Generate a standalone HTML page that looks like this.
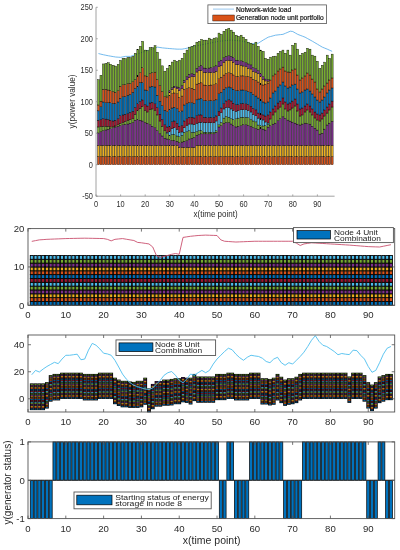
<!DOCTYPE html>
<html><head><meta charset="utf-8"><title>Figure</title>
<style>html,body{margin:0;padding:0;background:#fff}svg{display:block}</style></head>
<body>
<svg width="400" height="550" viewBox="0 0 400 550" font-family="Liberation Sans, sans-serif">
<rect width="400" height="550" fill="#fff"/>
<polyline points="98.46,53.56 100.92,54.16 103.38,54.75 105.84,55.26 108.30,55.76 110.76,56.18 113.22,56.60 115.68,57.02 118.14,57.18 120.60,57.34 123.06,56.86 125.52,56.39 127.98,56.39 130.44,56.39 132.90,55.55 135.36,54.71 137.82,53.87 140.28,53.03 142.74,52.19 145.20,51.35 147.66,50.57 150.12,49.78 152.58,48.99 155.04,48.21 157.49,47.14 159.95,47.51 162.41,47.89 164.87,48.12 167.33,48.35 169.79,48.58 172.25,48.77 174.71,48.96 177.17,49.15 179.63,49.15 182.09,49.15 184.55,48.68 187.01,48.21 189.47,47.58 191.93,46.95 194.39,46.32 196.85,45.81 199.31,45.31 201.77,44.81 204.23,44.30 206.69,43.80 209.15,43.29 211.61,42.79 214.07,42.29 216.53,41.78 218.99,41.28 221.45,41.03 223.91,40.78 226.37,40.52 228.83,40.27 231.29,40.02 233.75,40.27 236.21,40.52 238.67,40.78 241.13,41.03 243.59,41.28 246.05,42.12 248.51,42.96 250.97,43.80 253.43,43.59 255.89,43.38 258.35,43.17 260.81,41.59 263.27,40.02 265.73,38.60 268.19,37.19 270.65,36.51 273.11,35.84 275.56,35.17 278.02,34.90 280.48,34.62 282.94,34.35 285.40,33.30 287.86,32.25 290.32,31.20 292.78,31.52 295.24,32.94 297.70,34.35 300.16,35.30 302.62,36.24 305.08,37.19 307.54,38.55 310.00,39.91 312.46,41.28 314.92,42.73 317.38,44.18 319.84,45.66 322.30,47.14 324.76,48.14 327.22,49.15 329.68,50.25 332.14,51.35" fill="none" stroke="#4FA8E8" stroke-width="0.8"/>
<g stroke="#000" stroke-width="0.38">
<rect x="97.48" y="156.51" width="1.97" height="8.19" fill="#D95319"/>
<rect x="97.48" y="145.31" width="1.97" height="11.21" fill="#EDB120"/>
<rect x="97.48" y="132.96" width="1.97" height="12.34" fill="#7E2F8E"/>
<rect x="97.48" y="126.98" width="1.97" height="5.98" fill="#77AC30"/>
<rect x="97.48" y="120.24" width="1.97" height="6.74" fill="#A2142F"/>
<rect x="97.48" y="110.86" width="1.97" height="9.38" fill="#0072BD"/>
<rect x="97.48" y="105.00" width="1.97" height="5.86" fill="#D95319"/>
<rect x="97.48" y="79.69" width="1.97" height="25.31" fill="#77AC30"/>
<rect x="99.94" y="156.51" width="1.97" height="8.19" fill="#D95319"/>
<rect x="99.94" y="145.31" width="1.97" height="11.21" fill="#EDB120"/>
<rect x="99.94" y="131.83" width="1.97" height="13.48" fill="#7E2F8E"/>
<rect x="99.94" y="126.63" width="1.97" height="5.20" fill="#77AC30"/>
<rect x="99.94" y="119.49" width="1.97" height="7.15" fill="#A2142F"/>
<rect x="99.94" y="106.77" width="1.97" height="12.72" fill="#0072BD"/>
<rect x="99.94" y="101.23" width="1.97" height="5.54" fill="#D95319"/>
<rect x="99.94" y="75.28" width="1.97" height="25.94" fill="#77AC30"/>
<rect x="102.40" y="156.51" width="1.97" height="8.19" fill="#D95319"/>
<rect x="102.40" y="145.31" width="1.97" height="11.21" fill="#EDB120"/>
<rect x="102.40" y="130.70" width="1.97" height="14.61" fill="#7E2F8E"/>
<rect x="102.40" y="126.29" width="1.97" height="4.41" fill="#77AC30"/>
<rect x="102.40" y="118.73" width="1.97" height="7.56" fill="#A2142F"/>
<rect x="102.40" y="101.98" width="1.97" height="16.75" fill="#0072BD"/>
<rect x="102.40" y="89.26" width="1.97" height="12.72" fill="#D95319"/>
<rect x="102.40" y="63.95" width="1.97" height="25.31" fill="#77AC30"/>
<rect x="104.86" y="156.51" width="1.97" height="8.19" fill="#D95319"/>
<rect x="104.86" y="145.31" width="1.97" height="11.21" fill="#EDB120"/>
<rect x="104.86" y="129.97" width="1.97" height="15.33" fill="#7E2F8E"/>
<rect x="104.86" y="126.29" width="1.97" height="3.68" fill="#77AC30"/>
<rect x="104.86" y="119.11" width="1.97" height="7.18" fill="#A2142F"/>
<rect x="104.86" y="102.74" width="1.97" height="16.37" fill="#0072BD"/>
<rect x="104.86" y="89.26" width="1.97" height="13.48" fill="#D95319"/>
<rect x="104.86" y="63.32" width="1.97" height="25.94" fill="#77AC30"/>
<rect x="107.32" y="156.51" width="1.97" height="8.19" fill="#D95319"/>
<rect x="107.32" y="145.31" width="1.97" height="11.21" fill="#EDB120"/>
<rect x="107.32" y="129.25" width="1.97" height="16.06" fill="#7E2F8E"/>
<rect x="107.32" y="126.29" width="1.97" height="2.96" fill="#77AC30"/>
<rect x="107.32" y="119.49" width="1.97" height="6.80" fill="#A2142F"/>
<rect x="107.32" y="102.74" width="1.97" height="16.75" fill="#0072BD"/>
<rect x="107.32" y="90.02" width="1.97" height="12.72" fill="#D95319"/>
<rect x="107.32" y="62.69" width="1.97" height="27.33" fill="#77AC30"/>
<rect x="109.77" y="156.51" width="1.97" height="8.19" fill="#D95319"/>
<rect x="109.77" y="145.31" width="1.97" height="11.21" fill="#EDB120"/>
<rect x="109.77" y="128.49" width="1.97" height="16.81" fill="#7E2F8E"/>
<rect x="109.77" y="126.98" width="1.97" height="1.51" fill="#77AC30"/>
<rect x="109.77" y="120.24" width="1.97" height="6.74" fill="#A2142F"/>
<rect x="109.77" y="102.74" width="1.97" height="17.51" fill="#0072BD"/>
<rect x="109.77" y="90.77" width="1.97" height="11.96" fill="#D95319"/>
<rect x="109.77" y="64.33" width="1.97" height="26.45" fill="#77AC30"/>
<rect x="112.23" y="156.51" width="1.97" height="8.19" fill="#D95319"/>
<rect x="112.23" y="145.31" width="1.97" height="11.21" fill="#EDB120"/>
<rect x="112.23" y="127.74" width="1.97" height="17.57" fill="#7E2F8E"/>
<rect x="112.23" y="126.79" width="1.97" height="0.94" fill="#77AC30"/>
<rect x="112.23" y="121.00" width="1.97" height="5.79" fill="#A2142F"/>
<rect x="112.23" y="103.49" width="1.97" height="17.51" fill="#0072BD"/>
<rect x="112.23" y="91.65" width="1.97" height="11.84" fill="#D95319"/>
<rect x="112.23" y="65.21" width="1.97" height="26.45" fill="#77AC30"/>
<rect x="114.69" y="156.51" width="1.97" height="8.19" fill="#D95319"/>
<rect x="114.69" y="145.31" width="1.97" height="11.21" fill="#EDB120"/>
<rect x="114.69" y="126.98" width="1.97" height="18.32" fill="#7E2F8E"/>
<rect x="114.69" y="125.97" width="1.97" height="1.01" fill="#77AC30"/>
<rect x="114.69" y="120.24" width="1.97" height="5.73" fill="#A2142F"/>
<rect x="114.69" y="103.49" width="1.97" height="16.75" fill="#0072BD"/>
<rect x="114.69" y="92.28" width="1.97" height="11.21" fill="#D95319"/>
<rect x="114.69" y="66.09" width="1.97" height="26.20" fill="#77AC30"/>
<rect x="117.15" y="156.51" width="1.97" height="8.19" fill="#D95319"/>
<rect x="117.15" y="145.31" width="1.97" height="11.21" fill="#EDB120"/>
<rect x="117.15" y="126.29" width="1.97" height="19.02" fill="#7E2F8E"/>
<rect x="117.15" y="124.71" width="1.97" height="1.57" fill="#77AC30"/>
<rect x="117.15" y="118.73" width="1.97" height="5.98" fill="#A2142F"/>
<rect x="117.15" y="101.98" width="1.97" height="16.75" fill="#0072BD"/>
<rect x="117.15" y="90.77" width="1.97" height="11.21" fill="#D95319"/>
<rect x="117.15" y="64.33" width="1.97" height="26.45" fill="#77AC30"/>
<rect x="119.61" y="156.51" width="1.97" height="8.19" fill="#D95319"/>
<rect x="119.61" y="145.31" width="1.97" height="11.21" fill="#EDB120"/>
<rect x="119.61" y="125.47" width="1.97" height="19.84" fill="#7E2F8E"/>
<rect x="119.61" y="123.27" width="1.97" height="2.20" fill="#77AC30"/>
<rect x="119.61" y="115.77" width="1.97" height="7.49" fill="#A2142F"/>
<rect x="119.61" y="98.27" width="1.97" height="17.51" fill="#0072BD"/>
<rect x="119.61" y="86.24" width="1.97" height="12.03" fill="#D95319"/>
<rect x="119.61" y="60.36" width="1.97" height="25.88" fill="#77AC30"/>
<rect x="122.07" y="156.51" width="1.97" height="8.19" fill="#D95319"/>
<rect x="122.07" y="145.31" width="1.97" height="11.21" fill="#EDB120"/>
<rect x="122.07" y="124.71" width="1.97" height="20.59" fill="#7E2F8E"/>
<rect x="122.07" y="122.51" width="1.97" height="2.20" fill="#77AC30"/>
<rect x="122.07" y="114.95" width="1.97" height="7.56" fill="#A2142F"/>
<rect x="122.07" y="96.69" width="1.97" height="18.26" fill="#0072BD"/>
<rect x="122.07" y="84.73" width="1.97" height="11.96" fill="#D95319"/>
<rect x="122.07" y="58.28" width="1.97" height="26.45" fill="#77AC30"/>
<rect x="124.53" y="156.51" width="1.97" height="8.19" fill="#D95319"/>
<rect x="124.53" y="145.31" width="1.97" height="11.21" fill="#EDB120"/>
<rect x="124.53" y="124.37" width="1.97" height="20.94" fill="#7E2F8E"/>
<rect x="124.53" y="121.38" width="1.97" height="2.99" fill="#77AC30"/>
<rect x="124.53" y="114.23" width="1.97" height="7.15" fill="#A2142F"/>
<rect x="124.53" y="96.69" width="1.97" height="17.54" fill="#0072BD"/>
<rect x="124.53" y="84.73" width="1.97" height="11.96" fill="#D95319"/>
<rect x="124.53" y="58.60" width="1.97" height="26.13" fill="#77AC30"/>
<rect x="126.99" y="156.51" width="1.97" height="8.19" fill="#D95319"/>
<rect x="126.99" y="145.31" width="1.97" height="11.21" fill="#EDB120"/>
<rect x="126.99" y="124.02" width="1.97" height="21.28" fill="#7E2F8E"/>
<rect x="126.99" y="120.24" width="1.97" height="3.78" fill="#77AC30"/>
<rect x="126.99" y="113.51" width="1.97" height="6.74" fill="#A2142F"/>
<rect x="126.99" y="95.24" width="1.97" height="18.26" fill="#0072BD"/>
<rect x="126.99" y="83.47" width="1.97" height="11.78" fill="#D95319"/>
<rect x="126.99" y="57.40" width="1.97" height="26.07" fill="#77AC30"/>
<rect x="129.45" y="156.51" width="1.97" height="8.19" fill="#D95319"/>
<rect x="129.45" y="145.31" width="1.97" height="11.21" fill="#EDB120"/>
<rect x="129.45" y="123.27" width="1.97" height="22.04" fill="#7E2F8E"/>
<rect x="129.45" y="119.49" width="1.97" height="3.78" fill="#77AC30"/>
<rect x="129.45" y="112.37" width="1.97" height="7.12" fill="#A2142F"/>
<rect x="129.45" y="94.49" width="1.97" height="17.88" fill="#0072BD"/>
<rect x="129.45" y="83.47" width="1.97" height="11.02" fill="#D95319"/>
<rect x="129.45" y="57.65" width="1.97" height="25.82" fill="#77AC30"/>
<rect x="131.91" y="156.51" width="1.97" height="8.19" fill="#D95319"/>
<rect x="131.91" y="145.31" width="1.97" height="11.21" fill="#EDB120"/>
<rect x="131.91" y="122.51" width="1.97" height="22.80" fill="#7E2F8E"/>
<rect x="131.91" y="118.73" width="1.97" height="3.78" fill="#77AC30"/>
<rect x="131.91" y="111.24" width="1.97" height="7.49" fill="#A2142F"/>
<rect x="131.91" y="92.28" width="1.97" height="18.95" fill="#0072BD"/>
<rect x="131.91" y="81.77" width="1.97" height="10.52" fill="#D95319"/>
<rect x="131.91" y="56.39" width="1.97" height="25.38" fill="#77AC30"/>
<rect x="134.37" y="156.51" width="1.97" height="8.19" fill="#D95319"/>
<rect x="134.37" y="145.31" width="1.97" height="11.21" fill="#EDB120"/>
<rect x="134.37" y="120.24" width="1.97" height="25.06" fill="#7E2F8E"/>
<rect x="134.37" y="114.32" width="1.97" height="5.92" fill="#77AC30"/>
<rect x="134.37" y="107.46" width="1.97" height="6.86" fill="#A2142F"/>
<rect x="134.37" y="88.51" width="1.97" height="18.95" fill="#0072BD"/>
<rect x="134.37" y="79.69" width="1.97" height="8.82" fill="#D95319"/>
<rect x="134.37" y="53.24" width="1.97" height="26.45" fill="#77AC30"/>
<rect x="136.83" y="156.51" width="1.97" height="8.19" fill="#D95319"/>
<rect x="136.83" y="145.31" width="1.97" height="11.21" fill="#EDB120"/>
<rect x="136.83" y="119.49" width="1.97" height="25.82" fill="#7E2F8E"/>
<rect x="136.83" y="110.55" width="1.97" height="8.94" fill="#77AC30"/>
<rect x="136.83" y="103.75" width="1.97" height="6.80" fill="#A2142F"/>
<rect x="136.83" y="86.24" width="1.97" height="17.51" fill="#0072BD"/>
<rect x="136.83" y="75.91" width="1.97" height="10.33" fill="#D95319"/>
<rect x="136.83" y="49.21" width="1.97" height="26.70" fill="#77AC30"/>
<rect x="139.29" y="156.51" width="1.97" height="8.19" fill="#D95319"/>
<rect x="139.29" y="145.31" width="1.97" height="11.21" fill="#EDB120"/>
<rect x="139.29" y="120.24" width="1.97" height="25.06" fill="#7E2F8E"/>
<rect x="139.29" y="108.22" width="1.97" height="12.03" fill="#77AC30"/>
<rect x="139.29" y="101.48" width="1.97" height="6.74" fill="#A2142F"/>
<rect x="139.29" y="82.52" width="1.97" height="18.95" fill="#0072BD"/>
<rect x="139.29" y="72.76" width="1.97" height="9.76" fill="#D95319"/>
<rect x="139.29" y="46.32" width="1.97" height="26.45" fill="#77AC30"/>
<rect x="141.75" y="156.51" width="1.97" height="8.19" fill="#D95319"/>
<rect x="141.75" y="145.31" width="1.97" height="11.21" fill="#EDB120"/>
<rect x="141.75" y="121.00" width="1.97" height="24.31" fill="#7E2F8E"/>
<rect x="141.75" y="106.77" width="1.97" height="14.23" fill="#77AC30"/>
<rect x="141.75" y="99.97" width="1.97" height="6.80" fill="#A2142F"/>
<rect x="141.75" y="82.52" width="1.97" height="17.44" fill="#0072BD"/>
<rect x="141.75" y="67.73" width="1.97" height="14.80" fill="#D95319"/>
<rect x="141.75" y="41.28" width="1.97" height="26.45" fill="#77AC30"/>
<rect x="144.21" y="156.51" width="1.97" height="8.19" fill="#D95319"/>
<rect x="144.21" y="145.31" width="1.97" height="11.21" fill="#EDB120"/>
<rect x="144.21" y="122.51" width="1.97" height="22.80" fill="#7E2F8E"/>
<rect x="144.21" y="110.55" width="1.97" height="11.96" fill="#77AC30"/>
<rect x="144.21" y="104.50" width="1.97" height="6.05" fill="#A2142F"/>
<rect x="144.21" y="90.02" width="1.97" height="14.48" fill="#0072BD"/>
<rect x="144.21" y="75.91" width="1.97" height="14.11" fill="#D95319"/>
<rect x="144.21" y="50.09" width="1.97" height="25.82" fill="#77AC30"/>
<rect x="146.67" y="156.51" width="1.97" height="8.19" fill="#D95319"/>
<rect x="146.67" y="145.31" width="1.97" height="11.21" fill="#EDB120"/>
<rect x="146.67" y="123.27" width="1.97" height="22.04" fill="#7E2F8E"/>
<rect x="146.67" y="111.99" width="1.97" height="11.27" fill="#77AC30"/>
<rect x="146.67" y="106.01" width="1.97" height="5.98" fill="#A2142F"/>
<rect x="146.67" y="90.77" width="1.97" height="15.24" fill="#0072BD"/>
<rect x="146.67" y="76.54" width="1.97" height="14.23" fill="#D95319"/>
<rect x="146.67" y="50.41" width="1.97" height="26.13" fill="#77AC30"/>
<rect x="149.13" y="156.51" width="1.97" height="8.19" fill="#D95319"/>
<rect x="149.13" y="145.31" width="1.97" height="11.21" fill="#EDB120"/>
<rect x="149.13" y="124.71" width="1.97" height="20.59" fill="#7E2F8E"/>
<rect x="149.13" y="109.73" width="1.97" height="14.99" fill="#77AC30"/>
<rect x="149.13" y="102.99" width="1.97" height="6.74" fill="#A2142F"/>
<rect x="149.13" y="87.00" width="1.97" height="15.99" fill="#0072BD"/>
<rect x="149.13" y="73.52" width="1.97" height="13.48" fill="#D95319"/>
<rect x="149.13" y="47.58" width="1.97" height="25.94" fill="#77AC30"/>
<rect x="151.59" y="156.51" width="1.97" height="8.19" fill="#D95319"/>
<rect x="151.59" y="145.31" width="1.97" height="11.21" fill="#EDB120"/>
<rect x="151.59" y="126.29" width="1.97" height="19.02" fill="#7E2F8E"/>
<rect x="151.59" y="108.97" width="1.97" height="17.32" fill="#77AC30"/>
<rect x="151.59" y="102.36" width="1.97" height="6.61" fill="#A2142F"/>
<rect x="151.59" y="86.24" width="1.97" height="16.12" fill="#0072BD"/>
<rect x="151.59" y="72.76" width="1.97" height="13.48" fill="#D95319"/>
<rect x="151.59" y="47.58" width="1.97" height="25.19" fill="#77AC30"/>
<rect x="154.05" y="156.51" width="1.97" height="8.19" fill="#D95319"/>
<rect x="154.05" y="145.31" width="1.97" height="11.21" fill="#EDB120"/>
<rect x="154.05" y="127.74" width="1.97" height="17.57" fill="#7E2F8E"/>
<rect x="154.05" y="110.55" width="1.97" height="17.19" fill="#77AC30"/>
<rect x="154.05" y="103.75" width="1.97" height="6.80" fill="#A2142F"/>
<rect x="154.05" y="87.00" width="1.97" height="16.75" fill="#0072BD"/>
<rect x="154.05" y="72.13" width="1.97" height="14.86" fill="#D95319"/>
<rect x="154.05" y="45.69" width="1.97" height="26.45" fill="#77AC30"/>
<rect x="156.51" y="156.51" width="1.97" height="8.19" fill="#D95319"/>
<rect x="156.51" y="145.31" width="1.97" height="11.21" fill="#EDB120"/>
<rect x="156.51" y="130.70" width="1.97" height="14.61" fill="#7E2F8E"/>
<rect x="156.51" y="114.95" width="1.97" height="15.74" fill="#77AC30"/>
<rect x="156.51" y="107.71" width="1.97" height="7.24" fill="#A2142F"/>
<rect x="156.51" y="95.24" width="1.97" height="12.47" fill="#0072BD"/>
<rect x="156.51" y="79.50" width="1.97" height="15.74" fill="#D95319"/>
<rect x="156.51" y="52.17" width="1.97" height="27.33" fill="#77AC30"/>
<rect x="158.97" y="156.51" width="1.97" height="8.19" fill="#D95319"/>
<rect x="158.97" y="145.31" width="1.97" height="11.21" fill="#EDB120"/>
<rect x="158.97" y="133.84" width="1.97" height="11.46" fill="#7E2F8E"/>
<rect x="158.97" y="121.00" width="1.97" height="12.85" fill="#77AC30"/>
<rect x="158.97" y="114.20" width="1.97" height="6.80" fill="#A2142F"/>
<rect x="158.97" y="101.23" width="1.97" height="12.97" fill="#0072BD"/>
<rect x="158.97" y="85.48" width="1.97" height="15.74" fill="#D95319"/>
<rect x="158.97" y="59.10" width="1.97" height="26.38" fill="#77AC30"/>
<rect x="161.43" y="156.51" width="1.97" height="8.19" fill="#D95319"/>
<rect x="161.43" y="145.31" width="1.97" height="11.21" fill="#EDB120"/>
<rect x="161.43" y="135.99" width="1.97" height="9.32" fill="#7E2F8E"/>
<rect x="161.43" y="126.29" width="1.97" height="9.70" fill="#77AC30"/>
<rect x="161.43" y="119.49" width="1.97" height="6.80" fill="#A2142F"/>
<rect x="161.43" y="105.76" width="1.97" height="13.73" fill="#0072BD"/>
<rect x="161.43" y="91.53" width="1.97" height="14.23" fill="#D95319"/>
<rect x="161.43" y="65.84" width="1.97" height="25.69" fill="#77AC30"/>
<rect x="163.89" y="156.51" width="1.97" height="8.19" fill="#D95319"/>
<rect x="163.89" y="145.31" width="1.97" height="11.21" fill="#EDB120"/>
<rect x="163.89" y="138.25" width="1.97" height="7.05" fill="#7E2F8E"/>
<rect x="163.89" y="130.70" width="1.97" height="7.56" fill="#77AC30"/>
<rect x="163.89" y="124.71" width="1.97" height="5.98" fill="#A2142F"/>
<rect x="163.89" y="110.23" width="1.97" height="14.48" fill="#0072BD"/>
<rect x="163.89" y="96.69" width="1.97" height="13.54" fill="#D95319"/>
<rect x="163.89" y="71.13" width="1.97" height="25.57" fill="#77AC30"/>
<rect x="166.35" y="156.51" width="1.97" height="8.19" fill="#D95319"/>
<rect x="166.35" y="145.31" width="1.97" height="11.21" fill="#EDB120"/>
<rect x="166.35" y="139.01" width="1.97" height="6.30" fill="#7E2F8E"/>
<rect x="166.35" y="133.72" width="1.97" height="5.29" fill="#77AC30"/>
<rect x="166.35" y="132.27" width="1.97" height="1.45" fill="#4DBEEE"/>
<rect x="166.35" y="126.98" width="1.97" height="5.29" fill="#A2142F"/>
<rect x="166.35" y="111.81" width="1.97" height="15.18" fill="#0072BD"/>
<rect x="166.35" y="97.51" width="1.97" height="14.29" fill="#D95319"/>
<rect x="166.35" y="96.06" width="1.97" height="1.45" fill="#EDB120"/>
<rect x="166.35" y="68.36" width="1.97" height="27.71" fill="#77AC30"/>
<rect x="168.81" y="156.51" width="1.97" height="8.19" fill="#D95319"/>
<rect x="168.81" y="145.31" width="1.97" height="11.21" fill="#EDB120"/>
<rect x="168.81" y="139.76" width="1.97" height="5.54" fill="#7E2F8E"/>
<rect x="168.81" y="135.23" width="1.97" height="4.53" fill="#77AC30"/>
<rect x="168.81" y="131.51" width="1.97" height="3.72" fill="#4DBEEE"/>
<rect x="168.81" y="126.29" width="1.97" height="5.23" fill="#A2142F"/>
<rect x="168.81" y="109.48" width="1.97" height="16.81" fill="#0072BD"/>
<rect x="168.81" y="95.24" width="1.97" height="14.23" fill="#D95319"/>
<rect x="168.81" y="92.28" width="1.97" height="2.96" fill="#EDB120"/>
<rect x="168.81" y="90.77" width="1.97" height="1.51" fill="#7E2F8E"/>
<rect x="168.81" y="65.21" width="1.97" height="25.57" fill="#77AC30"/>
<rect x="171.27" y="156.51" width="1.97" height="8.19" fill="#D95319"/>
<rect x="171.27" y="145.31" width="1.97" height="11.21" fill="#EDB120"/>
<rect x="171.27" y="140.52" width="1.97" height="4.79" fill="#7E2F8E"/>
<rect x="171.27" y="134.47" width="1.97" height="6.05" fill="#77AC30"/>
<rect x="171.27" y="128.49" width="1.97" height="5.98" fill="#4DBEEE"/>
<rect x="171.27" y="121.75" width="1.97" height="6.74" fill="#A2142F"/>
<rect x="171.27" y="108.03" width="1.97" height="13.73" fill="#0072BD"/>
<rect x="171.27" y="93.73" width="1.97" height="14.29" fill="#D95319"/>
<rect x="171.27" y="89.26" width="1.97" height="4.47" fill="#EDB120"/>
<rect x="171.27" y="87.75" width="1.97" height="1.51" fill="#7E2F8E"/>
<rect x="171.27" y="62.06" width="1.97" height="25.69" fill="#77AC30"/>
<rect x="173.73" y="156.51" width="1.97" height="8.19" fill="#D95319"/>
<rect x="173.73" y="145.31" width="1.97" height="11.21" fill="#EDB120"/>
<rect x="173.73" y="140.52" width="1.97" height="4.79" fill="#7E2F8E"/>
<rect x="173.73" y="134.47" width="1.97" height="6.05" fill="#77AC30"/>
<rect x="173.73" y="127.74" width="1.97" height="6.74" fill="#4DBEEE"/>
<rect x="173.73" y="121.00" width="1.97" height="6.74" fill="#A2142F"/>
<rect x="173.73" y="107.27" width="1.97" height="13.73" fill="#0072BD"/>
<rect x="173.73" y="92.98" width="1.97" height="14.29" fill="#D95319"/>
<rect x="173.73" y="87.75" width="1.97" height="5.23" fill="#EDB120"/>
<rect x="173.73" y="86.24" width="1.97" height="1.51" fill="#7E2F8E"/>
<rect x="173.73" y="60.17" width="1.97" height="26.07" fill="#77AC30"/>
<rect x="176.19" y="156.51" width="1.97" height="8.19" fill="#D95319"/>
<rect x="176.19" y="145.31" width="1.97" height="11.21" fill="#EDB120"/>
<rect x="176.19" y="141.21" width="1.97" height="4.09" fill="#7E2F8E"/>
<rect x="176.19" y="135.99" width="1.97" height="5.23" fill="#77AC30"/>
<rect x="176.19" y="129.25" width="1.97" height="6.74" fill="#4DBEEE"/>
<rect x="176.19" y="123.27" width="1.97" height="5.98" fill="#A2142F"/>
<rect x="176.19" y="108.72" width="1.97" height="14.55" fill="#0072BD"/>
<rect x="176.19" y="93.73" width="1.97" height="14.99" fill="#D95319"/>
<rect x="176.19" y="88.51" width="1.97" height="5.23" fill="#EDB120"/>
<rect x="176.19" y="87.00" width="1.97" height="1.51" fill="#7E2F8E"/>
<rect x="176.19" y="61.43" width="1.97" height="25.57" fill="#77AC30"/>
<rect x="178.65" y="156.51" width="1.97" height="8.19" fill="#D95319"/>
<rect x="178.65" y="147.32" width="1.97" height="9.19" fill="#EDB120"/>
<rect x="178.65" y="142.72" width="1.97" height="4.60" fill="#7E2F8E"/>
<rect x="178.65" y="136.74" width="1.97" height="5.98" fill="#77AC30"/>
<rect x="178.65" y="132.27" width="1.97" height="4.47" fill="#4DBEEE"/>
<rect x="178.65" y="126.29" width="1.97" height="5.98" fill="#A2142F"/>
<rect x="178.65" y="111.81" width="1.97" height="14.48" fill="#0072BD"/>
<rect x="178.65" y="97.51" width="1.97" height="14.29" fill="#D95319"/>
<rect x="178.65" y="90.77" width="1.97" height="6.74" fill="#EDB120"/>
<rect x="178.65" y="87.75" width="1.97" height="3.02" fill="#7E2F8E"/>
<rect x="178.65" y="60.17" width="1.97" height="27.58" fill="#77AC30"/>
<rect x="181.11" y="156.51" width="1.97" height="8.19" fill="#D95319"/>
<rect x="181.11" y="147.32" width="1.97" height="9.19" fill="#EDB120"/>
<rect x="181.11" y="142.03" width="1.97" height="5.29" fill="#7E2F8E"/>
<rect x="181.11" y="135.23" width="1.97" height="6.80" fill="#77AC30"/>
<rect x="181.11" y="131.96" width="1.97" height="3.27" fill="#4DBEEE"/>
<rect x="181.11" y="125.47" width="1.97" height="6.49" fill="#A2142F"/>
<rect x="181.11" y="110.99" width="1.97" height="14.48" fill="#0072BD"/>
<rect x="181.11" y="96.06" width="1.97" height="14.92" fill="#D95319"/>
<rect x="181.11" y="88.51" width="1.97" height="7.56" fill="#EDB120"/>
<rect x="181.11" y="85.48" width="1.97" height="3.02" fill="#7E2F8E"/>
<rect x="181.11" y="58.28" width="1.97" height="27.20" fill="#77AC30"/>
<rect x="183.57" y="156.51" width="1.97" height="8.19" fill="#D95319"/>
<rect x="183.57" y="147.32" width="1.97" height="9.19" fill="#EDB120"/>
<rect x="183.57" y="141.21" width="1.97" height="6.11" fill="#7E2F8E"/>
<rect x="183.57" y="132.27" width="1.97" height="8.94" fill="#77AC30"/>
<rect x="183.57" y="127.74" width="1.97" height="4.53" fill="#4DBEEE"/>
<rect x="183.57" y="121.00" width="1.97" height="6.74" fill="#A2142F"/>
<rect x="183.57" y="105.00" width="1.97" height="15.99" fill="#0072BD"/>
<rect x="183.57" y="89.26" width="1.97" height="15.74" fill="#D95319"/>
<rect x="183.57" y="82.52" width="1.97" height="6.74" fill="#EDB120"/>
<rect x="183.57" y="80.32" width="1.97" height="2.20" fill="#7E2F8E"/>
<rect x="183.57" y="53.24" width="1.97" height="27.08" fill="#77AC30"/>
<rect x="186.03" y="156.51" width="1.97" height="8.19" fill="#D95319"/>
<rect x="186.03" y="147.32" width="1.97" height="9.19" fill="#EDB120"/>
<rect x="186.03" y="140.52" width="1.97" height="6.80" fill="#7E2F8E"/>
<rect x="186.03" y="131.51" width="1.97" height="9.00" fill="#77AC30"/>
<rect x="186.03" y="125.47" width="1.97" height="6.05" fill="#4DBEEE"/>
<rect x="186.03" y="118.73" width="1.97" height="6.74" fill="#A2142F"/>
<rect x="186.03" y="103.49" width="1.97" height="15.24" fill="#0072BD"/>
<rect x="186.03" y="88.51" width="1.97" height="14.99" fill="#D95319"/>
<rect x="186.03" y="79.50" width="1.97" height="9.00" fill="#EDB120"/>
<rect x="186.03" y="76.54" width="1.97" height="2.96" fill="#7E2F8E"/>
<rect x="186.03" y="50.09" width="1.97" height="26.45" fill="#77AC30"/>
<rect x="188.49" y="156.51" width="1.97" height="8.19" fill="#D95319"/>
<rect x="188.49" y="147.32" width="1.97" height="9.19" fill="#EDB120"/>
<rect x="188.49" y="139.01" width="1.97" height="8.31" fill="#7E2F8E"/>
<rect x="188.49" y="130.70" width="1.97" height="8.31" fill="#77AC30"/>
<rect x="188.49" y="124.02" width="1.97" height="6.67" fill="#4DBEEE"/>
<rect x="188.49" y="117.22" width="1.97" height="6.80" fill="#A2142F"/>
<rect x="188.49" y="102.74" width="1.97" height="14.48" fill="#0072BD"/>
<rect x="188.49" y="87.75" width="1.97" height="14.99" fill="#D95319"/>
<rect x="188.49" y="77.23" width="1.97" height="10.52" fill="#EDB120"/>
<rect x="188.49" y="74.28" width="1.97" height="2.96" fill="#7E2F8E"/>
<rect x="188.49" y="47.14" width="1.97" height="27.14" fill="#77AC30"/>
<rect x="190.95" y="156.51" width="1.97" height="8.19" fill="#D95319"/>
<rect x="190.95" y="147.32" width="1.97" height="9.19" fill="#EDB120"/>
<rect x="190.95" y="138.25" width="1.97" height="9.07" fill="#7E2F8E"/>
<rect x="190.95" y="132.27" width="1.97" height="5.98" fill="#77AC30"/>
<rect x="190.95" y="124.02" width="1.97" height="8.25" fill="#4DBEEE"/>
<rect x="190.95" y="117.22" width="1.97" height="6.80" fill="#A2142F"/>
<rect x="190.95" y="102.74" width="1.97" height="14.48" fill="#0072BD"/>
<rect x="190.95" y="88.19" width="1.97" height="14.55" fill="#D95319"/>
<rect x="190.95" y="76.54" width="1.97" height="11.65" fill="#EDB120"/>
<rect x="190.95" y="73.52" width="1.97" height="3.02" fill="#7E2F8E"/>
<rect x="190.95" y="46.32" width="1.97" height="27.20" fill="#77AC30"/>
<rect x="193.41" y="156.51" width="1.97" height="8.19" fill="#D95319"/>
<rect x="193.41" y="147.32" width="1.97" height="9.19" fill="#EDB120"/>
<rect x="193.41" y="137.50" width="1.97" height="9.82" fill="#7E2F8E"/>
<rect x="193.41" y="132.27" width="1.97" height="5.23" fill="#77AC30"/>
<rect x="193.41" y="124.71" width="1.97" height="7.56" fill="#4DBEEE"/>
<rect x="193.41" y="117.98" width="1.97" height="6.74" fill="#A2142F"/>
<rect x="193.41" y="103.49" width="1.97" height="14.48" fill="#0072BD"/>
<rect x="193.41" y="89.26" width="1.97" height="14.23" fill="#D95319"/>
<rect x="193.41" y="76.54" width="1.97" height="12.72" fill="#EDB120"/>
<rect x="193.41" y="74.28" width="1.97" height="2.27" fill="#7E2F8E"/>
<rect x="193.41" y="45.18" width="1.97" height="29.09" fill="#77AC30"/>
<rect x="195.87" y="156.51" width="1.97" height="8.19" fill="#D95319"/>
<rect x="195.87" y="145.31" width="1.97" height="11.21" fill="#EDB120"/>
<rect x="195.87" y="135.23" width="1.97" height="10.08" fill="#7E2F8E"/>
<rect x="195.87" y="131.51" width="1.97" height="3.72" fill="#77AC30"/>
<rect x="195.87" y="123.27" width="1.97" height="8.25" fill="#4DBEEE"/>
<rect x="195.87" y="115.77" width="1.97" height="7.49" fill="#A2142F"/>
<rect x="195.87" y="99.84" width="1.97" height="15.93" fill="#0072BD"/>
<rect x="195.87" y="84.10" width="1.97" height="15.74" fill="#D95319"/>
<rect x="195.87" y="72.01" width="1.97" height="12.09" fill="#EDB120"/>
<rect x="195.87" y="68.36" width="1.97" height="3.65" fill="#7E2F8E"/>
<rect x="195.87" y="42.16" width="1.97" height="26.20" fill="#77AC30"/>
<rect x="198.33" y="156.51" width="1.97" height="8.19" fill="#D95319"/>
<rect x="198.33" y="145.31" width="1.97" height="11.21" fill="#EDB120"/>
<rect x="198.33" y="134.47" width="1.97" height="10.83" fill="#7E2F8E"/>
<rect x="198.33" y="130.70" width="1.97" height="3.78" fill="#77AC30"/>
<rect x="198.33" y="122.51" width="1.97" height="8.19" fill="#4DBEEE"/>
<rect x="198.33" y="114.95" width="1.97" height="7.56" fill="#A2142F"/>
<rect x="198.33" y="99.02" width="1.97" height="15.93" fill="#0072BD"/>
<rect x="198.33" y="83.28" width="1.97" height="15.74" fill="#D95319"/>
<rect x="198.33" y="70.50" width="1.97" height="12.78" fill="#EDB120"/>
<rect x="198.33" y="66.78" width="1.97" height="3.72" fill="#7E2F8E"/>
<rect x="198.33" y="41.28" width="1.97" height="25.50" fill="#77AC30"/>
<rect x="200.79" y="156.51" width="1.97" height="8.19" fill="#D95319"/>
<rect x="200.79" y="145.31" width="1.97" height="11.21" fill="#EDB120"/>
<rect x="200.79" y="133.84" width="1.97" height="11.46" fill="#7E2F8E"/>
<rect x="200.79" y="130.70" width="1.97" height="3.15" fill="#77AC30"/>
<rect x="200.79" y="122.20" width="1.97" height="8.50" fill="#4DBEEE"/>
<rect x="200.79" y="114.95" width="1.97" height="7.24" fill="#A2142F"/>
<rect x="200.79" y="98.58" width="1.97" height="16.37" fill="#0072BD"/>
<rect x="200.79" y="82.84" width="1.97" height="15.74" fill="#D95319"/>
<rect x="200.79" y="70.56" width="1.97" height="12.28" fill="#EDB120"/>
<rect x="200.79" y="65.52" width="1.97" height="5.04" fill="#7E2F8E"/>
<rect x="200.79" y="39.39" width="1.97" height="26.13" fill="#77AC30"/>
<rect x="203.25" y="156.51" width="1.97" height="8.19" fill="#D95319"/>
<rect x="203.25" y="145.31" width="1.97" height="11.21" fill="#EDB120"/>
<rect x="203.25" y="133.84" width="1.97" height="11.46" fill="#7E2F8E"/>
<rect x="203.25" y="132.27" width="1.97" height="1.57" fill="#77AC30"/>
<rect x="203.25" y="122.82" width="1.97" height="9.45" fill="#4DBEEE"/>
<rect x="203.25" y="117.35" width="1.97" height="5.48" fill="#A2142F"/>
<rect x="203.25" y="100.79" width="1.97" height="16.56" fill="#0072BD"/>
<rect x="203.25" y="85.04" width="1.97" height="15.74" fill="#D95319"/>
<rect x="203.25" y="72.45" width="1.97" height="12.59" fill="#EDB120"/>
<rect x="203.25" y="68.04" width="1.97" height="4.41" fill="#7E2F8E"/>
<rect x="203.25" y="40.15" width="1.97" height="27.90" fill="#77AC30"/>
<rect x="205.71" y="156.51" width="1.97" height="8.19" fill="#D95319"/>
<rect x="205.71" y="145.31" width="1.97" height="11.21" fill="#EDB120"/>
<rect x="205.71" y="133.84" width="1.97" height="11.46" fill="#7E2F8E"/>
<rect x="205.71" y="132.27" width="1.97" height="1.57" fill="#77AC30"/>
<rect x="205.71" y="122.82" width="1.97" height="9.45" fill="#4DBEEE"/>
<rect x="205.71" y="117.47" width="1.97" height="5.35" fill="#A2142F"/>
<rect x="205.71" y="100.79" width="1.97" height="16.69" fill="#0072BD"/>
<rect x="205.71" y="85.36" width="1.97" height="15.43" fill="#D95319"/>
<rect x="205.71" y="72.45" width="1.97" height="12.91" fill="#EDB120"/>
<rect x="205.71" y="68.36" width="1.97" height="4.09" fill="#7E2F8E"/>
<rect x="205.71" y="40.15" width="1.97" height="28.21" fill="#77AC30"/>
<rect x="208.17" y="156.51" width="1.97" height="8.19" fill="#D95319"/>
<rect x="208.17" y="145.31" width="1.97" height="11.21" fill="#EDB120"/>
<rect x="208.17" y="133.84" width="1.97" height="11.46" fill="#7E2F8E"/>
<rect x="208.17" y="132.27" width="1.97" height="1.57" fill="#77AC30"/>
<rect x="208.17" y="122.82" width="1.97" height="9.45" fill="#4DBEEE"/>
<rect x="208.17" y="117.47" width="1.97" height="5.35" fill="#A2142F"/>
<rect x="208.17" y="100.79" width="1.97" height="16.69" fill="#0072BD"/>
<rect x="208.17" y="85.20" width="1.97" height="15.59" fill="#D95319"/>
<rect x="208.17" y="72.45" width="1.97" height="12.75" fill="#EDB120"/>
<rect x="208.17" y="68.04" width="1.97" height="4.41" fill="#7E2F8E"/>
<rect x="208.17" y="38.13" width="1.97" height="29.91" fill="#77AC30"/>
<rect x="210.63" y="156.51" width="1.97" height="8.19" fill="#D95319"/>
<rect x="210.63" y="145.31" width="1.97" height="11.21" fill="#EDB120"/>
<rect x="210.63" y="133.84" width="1.97" height="11.46" fill="#7E2F8E"/>
<rect x="210.63" y="132.27" width="1.97" height="1.57" fill="#77AC30"/>
<rect x="210.63" y="122.82" width="1.97" height="9.45" fill="#4DBEEE"/>
<rect x="210.63" y="117.47" width="1.97" height="5.35" fill="#A2142F"/>
<rect x="210.63" y="100.79" width="1.97" height="16.69" fill="#0072BD"/>
<rect x="210.63" y="85.04" width="1.97" height="15.74" fill="#D95319"/>
<rect x="210.63" y="72.45" width="1.97" height="12.59" fill="#EDB120"/>
<rect x="210.63" y="67.73" width="1.97" height="4.72" fill="#7E2F8E"/>
<rect x="210.63" y="39.39" width="1.97" height="28.34" fill="#77AC30"/>
<rect x="213.09" y="156.51" width="1.97" height="8.19" fill="#D95319"/>
<rect x="213.09" y="145.31" width="1.97" height="11.21" fill="#EDB120"/>
<rect x="213.09" y="133.84" width="1.97" height="11.46" fill="#7E2F8E"/>
<rect x="213.09" y="132.27" width="1.97" height="1.57" fill="#77AC30"/>
<rect x="213.09" y="122.82" width="1.97" height="9.45" fill="#4DBEEE"/>
<rect x="213.09" y="117.35" width="1.97" height="5.48" fill="#A2142F"/>
<rect x="213.09" y="100.47" width="1.97" height="16.88" fill="#0072BD"/>
<rect x="213.09" y="84.73" width="1.97" height="15.74" fill="#D95319"/>
<rect x="213.09" y="72.45" width="1.97" height="12.28" fill="#EDB120"/>
<rect x="213.09" y="66.78" width="1.97" height="5.67" fill="#7E2F8E"/>
<rect x="213.09" y="38.13" width="1.97" height="28.65" fill="#77AC30"/>
<rect x="215.55" y="156.51" width="1.97" height="8.19" fill="#D95319"/>
<rect x="215.55" y="145.31" width="1.97" height="11.21" fill="#EDB120"/>
<rect x="215.55" y="132.27" width="1.97" height="13.03" fill="#7E2F8E"/>
<rect x="215.55" y="130.70" width="1.97" height="1.57" fill="#77AC30"/>
<rect x="215.55" y="121.00" width="1.97" height="9.70" fill="#4DBEEE"/>
<rect x="215.55" y="115.96" width="1.97" height="5.04" fill="#A2142F"/>
<rect x="215.55" y="99.84" width="1.97" height="16.12" fill="#0072BD"/>
<rect x="215.55" y="83.78" width="1.97" height="16.06" fill="#D95319"/>
<rect x="215.55" y="71.19" width="1.97" height="12.59" fill="#EDB120"/>
<rect x="215.55" y="65.84" width="1.97" height="5.35" fill="#7E2F8E"/>
<rect x="215.55" y="37.82" width="1.97" height="28.02" fill="#77AC30"/>
<rect x="218.01" y="156.51" width="1.97" height="8.19" fill="#D95319"/>
<rect x="218.01" y="145.31" width="1.97" height="11.21" fill="#EDB120"/>
<rect x="218.01" y="126.98" width="1.97" height="18.32" fill="#7E2F8E"/>
<rect x="218.01" y="124.71" width="1.97" height="2.27" fill="#77AC30"/>
<rect x="218.01" y="115.77" width="1.97" height="8.94" fill="#4DBEEE"/>
<rect x="218.01" y="111.18" width="1.97" height="4.60" fill="#A2142F"/>
<rect x="218.01" y="93.73" width="1.97" height="17.44" fill="#0072BD"/>
<rect x="218.01" y="78.75" width="1.97" height="14.99" fill="#D95319"/>
<rect x="218.01" y="66.78" width="1.97" height="11.96" fill="#EDB120"/>
<rect x="218.01" y="61.43" width="1.97" height="5.35" fill="#7E2F8E"/>
<rect x="218.01" y="33.09" width="1.97" height="28.34" fill="#77AC30"/>
<rect x="220.47" y="156.51" width="1.97" height="8.19" fill="#D95319"/>
<rect x="220.47" y="145.31" width="1.97" height="11.21" fill="#EDB120"/>
<rect x="220.47" y="125.66" width="1.97" height="19.65" fill="#7E2F8E"/>
<rect x="220.47" y="122.51" width="1.97" height="3.15" fill="#77AC30"/>
<rect x="220.47" y="112.75" width="1.97" height="9.76" fill="#4DBEEE"/>
<rect x="220.47" y="108.03" width="1.97" height="4.72" fill="#A2142F"/>
<rect x="220.47" y="92.28" width="1.97" height="15.74" fill="#0072BD"/>
<rect x="220.47" y="77.17" width="1.97" height="15.11" fill="#D95319"/>
<rect x="220.47" y="65.84" width="1.97" height="11.33" fill="#EDB120"/>
<rect x="220.47" y="60.17" width="1.97" height="5.67" fill="#7E2F8E"/>
<rect x="220.47" y="34.35" width="1.97" height="25.82" fill="#77AC30"/>
<rect x="222.93" y="156.51" width="1.97" height="8.19" fill="#D95319"/>
<rect x="222.93" y="145.31" width="1.97" height="11.21" fill="#EDB120"/>
<rect x="222.93" y="123.27" width="1.97" height="22.04" fill="#7E2F8E"/>
<rect x="222.93" y="118.10" width="1.97" height="5.16" fill="#77AC30"/>
<rect x="222.93" y="108.97" width="1.97" height="9.13" fill="#4DBEEE"/>
<rect x="222.93" y="103.62" width="1.97" height="5.35" fill="#A2142F"/>
<rect x="222.93" y="89.26" width="1.97" height="14.36" fill="#0072BD"/>
<rect x="222.93" y="75.03" width="1.97" height="14.23" fill="#D95319"/>
<rect x="222.93" y="62.25" width="1.97" height="12.78" fill="#EDB120"/>
<rect x="222.93" y="57.65" width="1.97" height="4.60" fill="#7E2F8E"/>
<rect x="222.93" y="31.20" width="1.97" height="26.45" fill="#77AC30"/>
<rect x="225.39" y="156.51" width="1.97" height="8.19" fill="#D95319"/>
<rect x="225.39" y="145.31" width="1.97" height="11.21" fill="#EDB120"/>
<rect x="225.39" y="122.51" width="1.97" height="22.80" fill="#7E2F8E"/>
<rect x="225.39" y="116.46" width="1.97" height="6.05" fill="#77AC30"/>
<rect x="225.39" y="107.46" width="1.97" height="9.00" fill="#4DBEEE"/>
<rect x="225.39" y="100.97" width="1.97" height="6.49" fill="#A2142F"/>
<rect x="225.39" y="87.88" width="1.97" height="13.10" fill="#0072BD"/>
<rect x="225.39" y="73.52" width="1.97" height="14.36" fill="#D95319"/>
<rect x="225.39" y="60.80" width="1.97" height="12.72" fill="#EDB120"/>
<rect x="225.39" y="56.39" width="1.97" height="4.41" fill="#7E2F8E"/>
<rect x="225.39" y="29.31" width="1.97" height="27.08" fill="#77AC30"/>
<rect x="227.84" y="156.51" width="1.97" height="8.19" fill="#D95319"/>
<rect x="227.84" y="145.31" width="1.97" height="11.21" fill="#EDB120"/>
<rect x="227.84" y="122.51" width="1.97" height="22.80" fill="#7E2F8E"/>
<rect x="227.84" y="117.22" width="1.97" height="5.29" fill="#77AC30"/>
<rect x="227.84" y="107.46" width="1.97" height="9.76" fill="#4DBEEE"/>
<rect x="227.84" y="99.84" width="1.97" height="7.62" fill="#A2142F"/>
<rect x="227.84" y="87.00" width="1.97" height="12.85" fill="#0072BD"/>
<rect x="227.84" y="72.76" width="1.97" height="14.23" fill="#D95319"/>
<rect x="227.84" y="60.17" width="1.97" height="12.59" fill="#EDB120"/>
<rect x="227.84" y="55.76" width="1.97" height="4.41" fill="#7E2F8E"/>
<rect x="227.84" y="28.18" width="1.97" height="27.58" fill="#77AC30"/>
<rect x="230.30" y="156.51" width="1.97" height="8.19" fill="#D95319"/>
<rect x="230.30" y="145.31" width="1.97" height="11.21" fill="#EDB120"/>
<rect x="230.30" y="124.02" width="1.97" height="21.28" fill="#7E2F8E"/>
<rect x="230.30" y="118.73" width="1.97" height="5.29" fill="#77AC30"/>
<rect x="230.30" y="108.97" width="1.97" height="9.76" fill="#4DBEEE"/>
<rect x="230.30" y="100.97" width="1.97" height="8.00" fill="#A2142F"/>
<rect x="230.30" y="87.88" width="1.97" height="13.10" fill="#0072BD"/>
<rect x="230.30" y="73.39" width="1.97" height="14.48" fill="#D95319"/>
<rect x="230.30" y="60.80" width="1.97" height="12.59" fill="#EDB120"/>
<rect x="230.30" y="56.39" width="1.97" height="4.41" fill="#7E2F8E"/>
<rect x="230.30" y="30.13" width="1.97" height="26.26" fill="#77AC30"/>
<rect x="232.76" y="156.51" width="1.97" height="8.19" fill="#D95319"/>
<rect x="232.76" y="145.31" width="1.97" height="11.21" fill="#EDB120"/>
<rect x="232.76" y="125.66" width="1.97" height="19.65" fill="#7E2F8E"/>
<rect x="232.76" y="119.49" width="1.97" height="6.17" fill="#77AC30"/>
<rect x="232.76" y="110.55" width="1.97" height="8.94" fill="#4DBEEE"/>
<rect x="232.76" y="103.24" width="1.97" height="7.30" fill="#A2142F"/>
<rect x="232.76" y="89.26" width="1.97" height="13.98" fill="#0072BD"/>
<rect x="232.76" y="74.97" width="1.97" height="14.29" fill="#D95319"/>
<rect x="232.76" y="62.37" width="1.97" height="12.59" fill="#EDB120"/>
<rect x="232.76" y="57.65" width="1.97" height="4.72" fill="#7E2F8E"/>
<rect x="232.76" y="32.15" width="1.97" height="25.50" fill="#77AC30"/>
<rect x="235.22" y="156.51" width="1.97" height="8.19" fill="#D95319"/>
<rect x="235.22" y="145.31" width="1.97" height="11.21" fill="#EDB120"/>
<rect x="235.22" y="126.98" width="1.97" height="18.32" fill="#7E2F8E"/>
<rect x="235.22" y="118.73" width="1.97" height="8.25" fill="#77AC30"/>
<rect x="235.22" y="111.24" width="1.97" height="7.49" fill="#4DBEEE"/>
<rect x="235.22" y="104.75" width="1.97" height="6.49" fill="#A2142F"/>
<rect x="235.22" y="90.77" width="1.97" height="13.98" fill="#0072BD"/>
<rect x="235.22" y="76.54" width="1.97" height="14.23" fill="#D95319"/>
<rect x="235.22" y="64.58" width="1.97" height="11.96" fill="#EDB120"/>
<rect x="235.22" y="60.17" width="1.97" height="4.41" fill="#7E2F8E"/>
<rect x="235.22" y="35.17" width="1.97" height="25.00" fill="#77AC30"/>
<rect x="237.68" y="156.51" width="1.97" height="8.19" fill="#D95319"/>
<rect x="237.68" y="145.31" width="1.97" height="11.21" fill="#EDB120"/>
<rect x="237.68" y="126.29" width="1.97" height="19.02" fill="#7E2F8E"/>
<rect x="237.68" y="118.10" width="1.97" height="8.19" fill="#77AC30"/>
<rect x="237.68" y="110.55" width="1.97" height="7.56" fill="#4DBEEE"/>
<rect x="237.68" y="104.75" width="1.97" height="5.79" fill="#A2142F"/>
<rect x="237.68" y="90.77" width="1.97" height="13.98" fill="#0072BD"/>
<rect x="237.68" y="76.54" width="1.97" height="14.23" fill="#D95319"/>
<rect x="237.68" y="64.58" width="1.97" height="11.96" fill="#EDB120"/>
<rect x="237.68" y="60.48" width="1.97" height="4.09" fill="#7E2F8E"/>
<rect x="237.68" y="36.24" width="1.97" height="24.24" fill="#77AC30"/>
<rect x="240.14" y="156.51" width="1.97" height="8.19" fill="#D95319"/>
<rect x="240.14" y="145.31" width="1.97" height="11.21" fill="#EDB120"/>
<rect x="240.14" y="125.66" width="1.97" height="19.65" fill="#7E2F8E"/>
<rect x="240.14" y="117.22" width="1.97" height="8.44" fill="#77AC30"/>
<rect x="240.14" y="109.73" width="1.97" height="7.49" fill="#4DBEEE"/>
<rect x="240.14" y="103.81" width="1.97" height="5.92" fill="#A2142F"/>
<rect x="240.14" y="90.02" width="1.97" height="13.79" fill="#0072BD"/>
<rect x="240.14" y="75.91" width="1.97" height="14.11" fill="#D95319"/>
<rect x="240.14" y="65.21" width="1.97" height="10.70" fill="#EDB120"/>
<rect x="240.14" y="60.80" width="1.97" height="4.41" fill="#7E2F8E"/>
<rect x="240.14" y="35.17" width="1.97" height="25.63" fill="#77AC30"/>
<rect x="242.60" y="156.51" width="1.97" height="8.19" fill="#D95319"/>
<rect x="242.60" y="145.31" width="1.97" height="11.21" fill="#EDB120"/>
<rect x="242.60" y="124.71" width="1.97" height="20.59" fill="#7E2F8E"/>
<rect x="242.60" y="117.22" width="1.97" height="7.49" fill="#77AC30"/>
<rect x="242.60" y="109.73" width="1.97" height="7.49" fill="#4DBEEE"/>
<rect x="242.60" y="103.43" width="1.97" height="6.30" fill="#A2142F"/>
<rect x="242.60" y="90.02" width="1.97" height="13.41" fill="#0072BD"/>
<rect x="242.60" y="75.91" width="1.97" height="14.11" fill="#D95319"/>
<rect x="242.60" y="66.03" width="1.97" height="9.89" fill="#EDB120"/>
<rect x="242.60" y="61.74" width="1.97" height="4.28" fill="#7E2F8E"/>
<rect x="242.60" y="37.19" width="1.97" height="24.56" fill="#77AC30"/>
<rect x="245.06" y="156.51" width="1.97" height="8.19" fill="#D95319"/>
<rect x="245.06" y="145.31" width="1.97" height="11.21" fill="#EDB120"/>
<rect x="245.06" y="124.71" width="1.97" height="20.59" fill="#7E2F8E"/>
<rect x="245.06" y="117.22" width="1.97" height="7.49" fill="#77AC30"/>
<rect x="245.06" y="109.73" width="1.97" height="7.49" fill="#4DBEEE"/>
<rect x="245.06" y="103.81" width="1.97" height="5.92" fill="#A2142F"/>
<rect x="245.06" y="90.77" width="1.97" height="13.03" fill="#0072BD"/>
<rect x="245.06" y="76.54" width="1.97" height="14.23" fill="#D95319"/>
<rect x="245.06" y="66.78" width="1.97" height="9.76" fill="#EDB120"/>
<rect x="245.06" y="62.69" width="1.97" height="4.09" fill="#7E2F8E"/>
<rect x="245.06" y="39.39" width="1.97" height="23.30" fill="#77AC30"/>
<rect x="247.52" y="156.51" width="1.97" height="8.19" fill="#D95319"/>
<rect x="247.52" y="145.31" width="1.97" height="11.21" fill="#EDB120"/>
<rect x="247.52" y="125.47" width="1.97" height="19.84" fill="#7E2F8E"/>
<rect x="247.52" y="117.79" width="1.97" height="7.68" fill="#77AC30"/>
<rect x="247.52" y="110.55" width="1.97" height="7.24" fill="#4DBEEE"/>
<rect x="247.52" y="104.75" width="1.97" height="5.79" fill="#A2142F"/>
<rect x="247.52" y="91.65" width="1.97" height="13.10" fill="#0072BD"/>
<rect x="247.52" y="76.54" width="1.97" height="15.11" fill="#D95319"/>
<rect x="247.52" y="68.36" width="1.97" height="8.19" fill="#EDB120"/>
<rect x="247.52" y="63.95" width="1.97" height="4.41" fill="#7E2F8E"/>
<rect x="247.52" y="42.16" width="1.97" height="21.79" fill="#77AC30"/>
<rect x="249.98" y="156.51" width="1.97" height="8.19" fill="#D95319"/>
<rect x="249.98" y="145.31" width="1.97" height="11.21" fill="#EDB120"/>
<rect x="249.98" y="126.29" width="1.97" height="19.02" fill="#7E2F8E"/>
<rect x="249.98" y="119.49" width="1.97" height="6.80" fill="#77AC30"/>
<rect x="249.98" y="111.99" width="1.97" height="7.49" fill="#4DBEEE"/>
<rect x="249.98" y="106.26" width="1.97" height="5.73" fill="#A2142F"/>
<rect x="249.98" y="92.28" width="1.97" height="13.98" fill="#0072BD"/>
<rect x="249.98" y="77.17" width="1.97" height="15.11" fill="#D95319"/>
<rect x="249.98" y="68.99" width="1.97" height="8.19" fill="#EDB120"/>
<rect x="249.98" y="64.89" width="1.97" height="4.09" fill="#7E2F8E"/>
<rect x="249.98" y="43.17" width="1.97" height="21.72" fill="#77AC30"/>
<rect x="252.44" y="156.51" width="1.97" height="8.19" fill="#D95319"/>
<rect x="252.44" y="145.31" width="1.97" height="11.21" fill="#EDB120"/>
<rect x="252.44" y="127.74" width="1.97" height="17.57" fill="#7E2F8E"/>
<rect x="252.44" y="121.00" width="1.97" height="6.74" fill="#77AC30"/>
<rect x="252.44" y="114.32" width="1.97" height="6.67" fill="#4DBEEE"/>
<rect x="252.44" y="108.47" width="1.97" height="5.86" fill="#A2142F"/>
<rect x="252.44" y="94.49" width="1.97" height="13.98" fill="#0072BD"/>
<rect x="252.44" y="79.38" width="1.97" height="15.11" fill="#D95319"/>
<rect x="252.44" y="71.50" width="1.97" height="7.87" fill="#EDB120"/>
<rect x="252.44" y="67.73" width="1.97" height="3.78" fill="#7E2F8E"/>
<rect x="252.44" y="44.18" width="1.97" height="23.55" fill="#77AC30"/>
<rect x="254.90" y="156.51" width="1.97" height="8.19" fill="#D95319"/>
<rect x="254.90" y="145.31" width="1.97" height="11.21" fill="#EDB120"/>
<rect x="254.90" y="128.49" width="1.97" height="16.81" fill="#7E2F8E"/>
<rect x="254.90" y="121.88" width="1.97" height="6.61" fill="#77AC30"/>
<rect x="254.90" y="115.77" width="1.97" height="6.11" fill="#4DBEEE"/>
<rect x="254.90" y="109.92" width="1.97" height="5.86" fill="#A2142F"/>
<rect x="254.90" y="96.06" width="1.97" height="13.85" fill="#0072BD"/>
<rect x="254.90" y="80.32" width="1.97" height="15.74" fill="#D95319"/>
<rect x="254.90" y="72.13" width="1.97" height="8.19" fill="#EDB120"/>
<rect x="254.90" y="68.67" width="1.97" height="3.46" fill="#7E2F8E"/>
<rect x="254.90" y="42.16" width="1.97" height="26.51" fill="#77AC30"/>
<rect x="257.36" y="156.51" width="1.97" height="8.19" fill="#D95319"/>
<rect x="257.36" y="145.31" width="1.97" height="11.21" fill="#EDB120"/>
<rect x="257.36" y="129.25" width="1.97" height="16.06" fill="#7E2F8E"/>
<rect x="257.36" y="125.03" width="1.97" height="4.22" fill="#77AC30"/>
<rect x="257.36" y="118.10" width="1.97" height="6.93" fill="#4DBEEE"/>
<rect x="257.36" y="113.06" width="1.97" height="5.04" fill="#A2142F"/>
<rect x="257.36" y="98.01" width="1.97" height="15.05" fill="#0072BD"/>
<rect x="257.36" y="82.02" width="1.97" height="15.99" fill="#D95319"/>
<rect x="257.36" y="73.77" width="1.97" height="8.25" fill="#EDB120"/>
<rect x="257.36" y="70.69" width="1.97" height="3.09" fill="#7E2F8E"/>
<rect x="257.36" y="46.32" width="1.97" height="24.37" fill="#77AC30"/>
<rect x="259.82" y="156.51" width="1.97" height="8.19" fill="#D95319"/>
<rect x="259.82" y="145.31" width="1.97" height="11.21" fill="#EDB120"/>
<rect x="259.82" y="128.18" width="1.97" height="17.13" fill="#7E2F8E"/>
<rect x="259.82" y="125.66" width="1.97" height="2.52" fill="#77AC30"/>
<rect x="259.82" y="119.05" width="1.97" height="6.61" fill="#4DBEEE"/>
<rect x="259.82" y="114.01" width="1.97" height="5.04" fill="#A2142F"/>
<rect x="259.82" y="100.03" width="1.97" height="13.98" fill="#0072BD"/>
<rect x="259.82" y="84.10" width="1.97" height="15.93" fill="#D95319"/>
<rect x="259.82" y="76.54" width="1.97" height="7.56" fill="#EDB120"/>
<rect x="259.82" y="73.39" width="1.97" height="3.15" fill="#7E2F8E"/>
<rect x="259.82" y="50.09" width="1.97" height="23.30" fill="#77AC30"/>
<rect x="262.28" y="156.51" width="1.97" height="8.19" fill="#D95319"/>
<rect x="262.28" y="145.31" width="1.97" height="11.21" fill="#EDB120"/>
<rect x="262.28" y="129.12" width="1.97" height="16.18" fill="#7E2F8E"/>
<rect x="262.28" y="125.97" width="1.97" height="3.15" fill="#77AC30"/>
<rect x="262.28" y="119.99" width="1.97" height="5.98" fill="#4DBEEE"/>
<rect x="262.28" y="114.95" width="1.97" height="5.04" fill="#A2142F"/>
<rect x="262.28" y="101.98" width="1.97" height="12.97" fill="#0072BD"/>
<rect x="262.28" y="84.98" width="1.97" height="17.00" fill="#D95319"/>
<rect x="262.28" y="79.31" width="1.97" height="5.67" fill="#EDB120"/>
<rect x="262.28" y="76.79" width="1.97" height="2.52" fill="#7E2F8E"/>
<rect x="262.28" y="51.35" width="1.97" height="25.44" fill="#77AC30"/>
<rect x="264.74" y="156.51" width="1.97" height="8.19" fill="#D95319"/>
<rect x="264.74" y="145.31" width="1.97" height="11.21" fill="#EDB120"/>
<rect x="264.74" y="130.07" width="1.97" height="15.24" fill="#7E2F8E"/>
<rect x="264.74" y="125.66" width="1.97" height="4.41" fill="#77AC30"/>
<rect x="264.74" y="122.01" width="1.97" height="3.65" fill="#4DBEEE"/>
<rect x="264.74" y="116.02" width="1.97" height="5.98" fill="#A2142F"/>
<rect x="264.74" y="102.99" width="1.97" height="13.03" fill="#0072BD"/>
<rect x="264.74" y="84.10" width="1.97" height="18.89" fill="#D95319"/>
<rect x="264.74" y="80.95" width="1.97" height="3.15" fill="#EDB120"/>
<rect x="264.74" y="79.06" width="1.97" height="1.89" fill="#7E2F8E"/>
<rect x="264.74" y="58.28" width="1.97" height="20.78" fill="#77AC30"/>
<rect x="267.20" y="156.51" width="1.97" height="8.19" fill="#D95319"/>
<rect x="267.20" y="145.31" width="1.97" height="11.21" fill="#EDB120"/>
<rect x="267.20" y="127.11" width="1.97" height="18.20" fill="#7E2F8E"/>
<rect x="267.20" y="124.40" width="1.97" height="2.71" fill="#77AC30"/>
<rect x="267.20" y="123.01" width="1.97" height="1.39" fill="#4DBEEE"/>
<rect x="267.20" y="114.95" width="1.97" height="8.06" fill="#A2142F"/>
<rect x="267.20" y="101.98" width="1.97" height="12.97" fill="#0072BD"/>
<rect x="267.20" y="83.03" width="1.97" height="18.95" fill="#D95319"/>
<rect x="267.20" y="81.14" width="1.97" height="1.89" fill="#EDB120"/>
<rect x="267.20" y="79.56" width="1.97" height="1.57" fill="#7E2F8E"/>
<rect x="267.20" y="59.16" width="1.97" height="20.40" fill="#77AC30"/>
<rect x="269.66" y="156.51" width="1.97" height="8.19" fill="#D95319"/>
<rect x="269.66" y="145.31" width="1.97" height="11.21" fill="#EDB120"/>
<rect x="269.66" y="125.63" width="1.97" height="19.68" fill="#7E2F8E"/>
<rect x="269.66" y="118.98" width="1.97" height="6.64" fill="#77AC30"/>
<rect x="269.66" y="111.99" width="1.97" height="6.99" fill="#A2142F"/>
<rect x="269.66" y="98.01" width="1.97" height="13.98" fill="#0072BD"/>
<rect x="269.66" y="80.01" width="1.97" height="18.01" fill="#D95319"/>
<rect x="269.66" y="57.15" width="1.97" height="22.86" fill="#77AC30"/>
<rect x="272.12" y="156.51" width="1.97" height="8.19" fill="#D95319"/>
<rect x="272.12" y="145.31" width="1.97" height="11.21" fill="#EDB120"/>
<rect x="272.12" y="124.15" width="1.97" height="21.16" fill="#7E2F8E"/>
<rect x="272.12" y="114.95" width="1.97" height="9.19" fill="#77AC30"/>
<rect x="272.12" y="108.97" width="1.97" height="5.98" fill="#A2142F"/>
<rect x="272.12" y="92.98" width="1.97" height="15.99" fill="#0072BD"/>
<rect x="272.12" y="75.91" width="1.97" height="17.06" fill="#D95319"/>
<rect x="272.12" y="56.39" width="1.97" height="19.52" fill="#77AC30"/>
<rect x="274.58" y="156.51" width="1.97" height="8.19" fill="#D95319"/>
<rect x="274.58" y="145.31" width="1.97" height="11.21" fill="#EDB120"/>
<rect x="274.58" y="123.14" width="1.97" height="22.17" fill="#7E2F8E"/>
<rect x="274.58" y="111.99" width="1.97" height="11.15" fill="#77AC30"/>
<rect x="274.58" y="106.01" width="1.97" height="5.98" fill="#A2142F"/>
<rect x="274.58" y="91.03" width="1.97" height="14.99" fill="#0072BD"/>
<rect x="274.58" y="74.02" width="1.97" height="17.00" fill="#D95319"/>
<rect x="274.58" y="56.14" width="1.97" height="17.88" fill="#77AC30"/>
<rect x="277.04" y="156.51" width="1.97" height="8.19" fill="#D95319"/>
<rect x="277.04" y="145.31" width="1.97" height="11.21" fill="#EDB120"/>
<rect x="277.04" y="120.62" width="1.97" height="24.68" fill="#7E2F8E"/>
<rect x="277.04" y="108.97" width="1.97" height="11.65" fill="#77AC30"/>
<rect x="277.04" y="102.99" width="1.97" height="5.98" fill="#A2142F"/>
<rect x="277.04" y="87.00" width="1.97" height="15.99" fill="#0072BD"/>
<rect x="277.04" y="71.00" width="1.97" height="15.99" fill="#D95319"/>
<rect x="277.04" y="53.24" width="1.97" height="17.76" fill="#77AC30"/>
<rect x="279.50" y="156.51" width="1.97" height="8.19" fill="#D95319"/>
<rect x="279.50" y="145.31" width="1.97" height="11.21" fill="#EDB120"/>
<rect x="279.50" y="118.73" width="1.97" height="26.57" fill="#7E2F8E"/>
<rect x="279.50" y="107.02" width="1.97" height="11.71" fill="#77AC30"/>
<rect x="279.50" y="101.10" width="1.97" height="5.92" fill="#A2142F"/>
<rect x="279.50" y="84.98" width="1.97" height="16.12" fill="#0072BD"/>
<rect x="279.50" y="68.99" width="1.97" height="15.99" fill="#D95319"/>
<rect x="279.50" y="51.35" width="1.97" height="17.63" fill="#77AC30"/>
<rect x="281.96" y="156.51" width="1.97" height="8.19" fill="#D95319"/>
<rect x="281.96" y="145.31" width="1.97" height="11.21" fill="#EDB120"/>
<rect x="281.96" y="116.84" width="1.97" height="28.46" fill="#7E2F8E"/>
<rect x="281.96" y="104.00" width="1.97" height="12.85" fill="#77AC30"/>
<rect x="281.96" y="97.95" width="1.97" height="6.05" fill="#A2142F"/>
<rect x="281.96" y="82.02" width="1.97" height="15.93" fill="#0072BD"/>
<rect x="281.96" y="67.10" width="1.97" height="14.92" fill="#D95319"/>
<rect x="281.96" y="50.09" width="1.97" height="17.00" fill="#77AC30"/>
<rect x="284.42" y="156.51" width="1.97" height="8.19" fill="#D95319"/>
<rect x="284.42" y="145.31" width="1.97" height="11.21" fill="#EDB120"/>
<rect x="284.42" y="118.48" width="1.97" height="26.83" fill="#7E2F8E"/>
<rect x="284.42" y="108.97" width="1.97" height="9.51" fill="#77AC30"/>
<rect x="284.42" y="101.98" width="1.97" height="6.99" fill="#A2142F"/>
<rect x="284.42" y="85.99" width="1.97" height="15.99" fill="#0072BD"/>
<rect x="284.42" y="71.00" width="1.97" height="14.99" fill="#D95319"/>
<rect x="284.42" y="53.24" width="1.97" height="17.76" fill="#77AC30"/>
<rect x="286.88" y="156.51" width="1.97" height="8.19" fill="#D95319"/>
<rect x="286.88" y="145.31" width="1.97" height="11.21" fill="#EDB120"/>
<rect x="286.88" y="120.12" width="1.97" height="25.19" fill="#7E2F8E"/>
<rect x="286.88" y="110.99" width="1.97" height="9.13" fill="#77AC30"/>
<rect x="286.88" y="104.00" width="1.97" height="6.99" fill="#A2142F"/>
<rect x="286.88" y="88.00" width="1.97" height="15.99" fill="#0072BD"/>
<rect x="286.88" y="72.01" width="1.97" height="15.99" fill="#D95319"/>
<rect x="286.88" y="50.09" width="1.97" height="21.91" fill="#77AC30"/>
<rect x="289.34" y="156.51" width="1.97" height="8.19" fill="#D95319"/>
<rect x="289.34" y="145.31" width="1.97" height="11.21" fill="#EDB120"/>
<rect x="289.34" y="121.12" width="1.97" height="24.18" fill="#7E2F8E"/>
<rect x="289.34" y="109.92" width="1.97" height="11.21" fill="#77AC30"/>
<rect x="289.34" y="102.99" width="1.97" height="6.93" fill="#A2142F"/>
<rect x="289.34" y="87.00" width="1.97" height="15.99" fill="#0072BD"/>
<rect x="289.34" y="72.13" width="1.97" height="14.86" fill="#D95319"/>
<rect x="289.34" y="55.13" width="1.97" height="17.00" fill="#77AC30"/>
<rect x="291.80" y="156.51" width="1.97" height="8.19" fill="#D95319"/>
<rect x="291.80" y="145.31" width="1.97" height="11.21" fill="#EDB120"/>
<rect x="291.80" y="122.13" width="1.97" height="23.17" fill="#7E2F8E"/>
<rect x="291.80" y="108.03" width="1.97" height="14.11" fill="#77AC30"/>
<rect x="291.80" y="101.10" width="1.97" height="6.93" fill="#A2142F"/>
<rect x="291.80" y="84.98" width="1.97" height="16.12" fill="#0072BD"/>
<rect x="291.80" y="69.99" width="1.97" height="14.99" fill="#D95319"/>
<rect x="291.80" y="45.18" width="1.97" height="24.81" fill="#77AC30"/>
<rect x="294.26" y="156.51" width="1.97" height="8.19" fill="#D95319"/>
<rect x="294.26" y="145.31" width="1.97" height="11.21" fill="#EDB120"/>
<rect x="294.26" y="123.14" width="1.97" height="22.17" fill="#7E2F8E"/>
<rect x="294.26" y="106.01" width="1.97" height="17.13" fill="#77AC30"/>
<rect x="294.26" y="99.02" width="1.97" height="6.99" fill="#A2142F"/>
<rect x="294.26" y="84.10" width="1.97" height="14.92" fill="#0072BD"/>
<rect x="294.26" y="68.99" width="1.97" height="15.11" fill="#D95319"/>
<rect x="294.26" y="43.17" width="1.97" height="25.82" fill="#77AC30"/>
<rect x="296.72" y="156.51" width="1.97" height="8.19" fill="#D95319"/>
<rect x="296.72" y="145.31" width="1.97" height="11.21" fill="#EDB120"/>
<rect x="296.72" y="124.15" width="1.97" height="21.16" fill="#7E2F8E"/>
<rect x="296.72" y="110.99" width="1.97" height="13.16" fill="#77AC30"/>
<rect x="296.72" y="104.00" width="1.97" height="6.99" fill="#A2142F"/>
<rect x="296.72" y="89.01" width="1.97" height="14.99" fill="#0072BD"/>
<rect x="296.72" y="75.03" width="1.97" height="13.98" fill="#D95319"/>
<rect x="296.72" y="49.15" width="1.97" height="25.88" fill="#77AC30"/>
<rect x="299.18" y="156.51" width="1.97" height="8.19" fill="#D95319"/>
<rect x="299.18" y="145.31" width="1.97" height="11.21" fill="#EDB120"/>
<rect x="299.18" y="125.03" width="1.97" height="20.28" fill="#7E2F8E"/>
<rect x="299.18" y="116.02" width="1.97" height="9.00" fill="#77AC30"/>
<rect x="299.18" y="108.97" width="1.97" height="7.05" fill="#A2142F"/>
<rect x="299.18" y="92.98" width="1.97" height="15.99" fill="#0072BD"/>
<rect x="299.18" y="80.01" width="1.97" height="12.97" fill="#D95319"/>
<rect x="299.18" y="55.13" width="1.97" height="24.87" fill="#77AC30"/>
<rect x="301.64" y="156.51" width="1.97" height="8.19" fill="#D95319"/>
<rect x="301.64" y="145.31" width="1.97" height="11.21" fill="#EDB120"/>
<rect x="301.64" y="124.08" width="1.97" height="21.22" fill="#7E2F8E"/>
<rect x="301.64" y="114.95" width="1.97" height="9.13" fill="#77AC30"/>
<rect x="301.64" y="108.03" width="1.97" height="6.93" fill="#A2142F"/>
<rect x="301.64" y="91.97" width="1.97" height="16.06" fill="#0072BD"/>
<rect x="301.64" y="77.99" width="1.97" height="13.98" fill="#D95319"/>
<rect x="301.64" y="53.24" width="1.97" height="24.75" fill="#77AC30"/>
<rect x="304.10" y="156.51" width="1.97" height="8.19" fill="#D95319"/>
<rect x="304.10" y="145.31" width="1.97" height="11.21" fill="#EDB120"/>
<rect x="304.10" y="123.14" width="1.97" height="22.17" fill="#7E2F8E"/>
<rect x="304.10" y="111.99" width="1.97" height="11.15" fill="#77AC30"/>
<rect x="304.10" y="106.01" width="1.97" height="5.98" fill="#A2142F"/>
<rect x="304.10" y="90.02" width="1.97" height="15.99" fill="#0072BD"/>
<rect x="304.10" y="75.98" width="1.97" height="14.04" fill="#D95319"/>
<rect x="304.10" y="52.17" width="1.97" height="23.80" fill="#77AC30"/>
<rect x="306.56" y="156.51" width="1.97" height="8.19" fill="#D95319"/>
<rect x="306.56" y="145.31" width="1.97" height="11.21" fill="#EDB120"/>
<rect x="306.56" y="123.64" width="1.97" height="21.66" fill="#7E2F8E"/>
<rect x="306.56" y="109.98" width="1.97" height="13.66" fill="#77AC30"/>
<rect x="306.56" y="104.00" width="1.97" height="5.98" fill="#A2142F"/>
<rect x="306.56" y="89.01" width="1.97" height="14.99" fill="#0072BD"/>
<rect x="306.56" y="73.02" width="1.97" height="15.99" fill="#D95319"/>
<rect x="306.56" y="48.21" width="1.97" height="24.81" fill="#77AC30"/>
<rect x="309.02" y="156.51" width="1.97" height="8.19" fill="#D95319"/>
<rect x="309.02" y="145.31" width="1.97" height="11.21" fill="#EDB120"/>
<rect x="309.02" y="124.15" width="1.97" height="21.16" fill="#7E2F8E"/>
<rect x="309.02" y="111.99" width="1.97" height="12.15" fill="#77AC30"/>
<rect x="309.02" y="106.01" width="1.97" height="5.98" fill="#A2142F"/>
<rect x="309.02" y="91.03" width="1.97" height="14.99" fill="#0072BD"/>
<rect x="309.02" y="75.03" width="1.97" height="15.99" fill="#D95319"/>
<rect x="309.02" y="49.15" width="1.97" height="25.88" fill="#77AC30"/>
<rect x="311.48" y="156.51" width="1.97" height="8.19" fill="#D95319"/>
<rect x="311.48" y="145.31" width="1.97" height="11.21" fill="#EDB120"/>
<rect x="311.48" y="126.29" width="1.97" height="19.02" fill="#7E2F8E"/>
<rect x="311.48" y="114.95" width="1.97" height="11.33" fill="#77AC30"/>
<rect x="311.48" y="108.97" width="1.97" height="5.98" fill="#A2142F"/>
<rect x="311.48" y="93.98" width="1.97" height="14.99" fill="#0072BD"/>
<rect x="311.48" y="79.06" width="1.97" height="14.92" fill="#D95319"/>
<rect x="311.48" y="55.13" width="1.97" height="23.93" fill="#77AC30"/>
<rect x="313.94" y="156.51" width="1.97" height="8.19" fill="#D95319"/>
<rect x="313.94" y="145.31" width="1.97" height="11.21" fill="#EDB120"/>
<rect x="313.94" y="128.18" width="1.97" height="17.13" fill="#7E2F8E"/>
<rect x="313.94" y="117.98" width="1.97" height="10.20" fill="#77AC30"/>
<rect x="313.94" y="111.99" width="1.97" height="5.98" fill="#A2142F"/>
<rect x="313.94" y="97.01" width="1.97" height="14.99" fill="#0072BD"/>
<rect x="313.94" y="82.02" width="1.97" height="14.99" fill="#D95319"/>
<rect x="313.94" y="56.14" width="1.97" height="25.88" fill="#77AC30"/>
<rect x="316.40" y="156.51" width="1.97" height="8.19" fill="#D95319"/>
<rect x="316.40" y="145.31" width="1.97" height="11.21" fill="#EDB120"/>
<rect x="316.40" y="130.07" width="1.97" height="15.24" fill="#7E2F8E"/>
<rect x="316.40" y="119.99" width="1.97" height="10.08" fill="#77AC30"/>
<rect x="316.40" y="114.01" width="1.97" height="5.98" fill="#A2142F"/>
<rect x="316.40" y="100.03" width="1.97" height="13.98" fill="#0072BD"/>
<rect x="316.40" y="89.01" width="1.97" height="11.02" fill="#D95319"/>
<rect x="316.40" y="61.18" width="1.97" height="27.83" fill="#77AC30"/>
<rect x="318.86" y="156.51" width="1.97" height="8.19" fill="#D95319"/>
<rect x="318.86" y="145.31" width="1.97" height="11.21" fill="#EDB120"/>
<rect x="318.86" y="134.10" width="1.97" height="11.21" fill="#7E2F8E"/>
<rect x="318.86" y="121.00" width="1.97" height="13.10" fill="#77AC30"/>
<rect x="318.86" y="114.95" width="1.97" height="6.05" fill="#A2142F"/>
<rect x="318.86" y="101.98" width="1.97" height="12.97" fill="#0072BD"/>
<rect x="318.86" y="91.97" width="1.97" height="10.01" fill="#D95319"/>
<rect x="318.86" y="68.36" width="1.97" height="23.61" fill="#77AC30"/>
<rect x="321.32" y="156.51" width="1.97" height="8.19" fill="#D95319"/>
<rect x="321.32" y="145.31" width="1.97" height="11.21" fill="#EDB120"/>
<rect x="321.32" y="133.21" width="1.97" height="12.09" fill="#7E2F8E"/>
<rect x="321.32" y="118.98" width="1.97" height="14.23" fill="#77AC30"/>
<rect x="321.32" y="113.06" width="1.97" height="5.92" fill="#A2142F"/>
<rect x="321.32" y="100.03" width="1.97" height="13.03" fill="#0072BD"/>
<rect x="321.32" y="89.01" width="1.97" height="11.02" fill="#D95319"/>
<rect x="321.32" y="65.21" width="1.97" height="23.80" fill="#77AC30"/>
<rect x="323.78" y="156.51" width="1.97" height="8.19" fill="#D95319"/>
<rect x="323.78" y="145.31" width="1.97" height="11.21" fill="#EDB120"/>
<rect x="323.78" y="129.12" width="1.97" height="16.18" fill="#7E2F8E"/>
<rect x="323.78" y="116.02" width="1.97" height="13.10" fill="#77AC30"/>
<rect x="323.78" y="109.98" width="1.97" height="6.05" fill="#A2142F"/>
<rect x="323.78" y="97.01" width="1.97" height="12.97" fill="#0072BD"/>
<rect x="323.78" y="85.99" width="1.97" height="11.02" fill="#D95319"/>
<rect x="323.78" y="62.12" width="1.97" height="23.87" fill="#77AC30"/>
<rect x="326.24" y="156.51" width="1.97" height="8.19" fill="#D95319"/>
<rect x="326.24" y="145.31" width="1.97" height="11.21" fill="#EDB120"/>
<rect x="326.24" y="125.03" width="1.97" height="20.28" fill="#7E2F8E"/>
<rect x="326.24" y="113.06" width="1.97" height="11.96" fill="#77AC30"/>
<rect x="326.24" y="107.02" width="1.97" height="6.05" fill="#A2142F"/>
<rect x="326.24" y="92.98" width="1.97" height="14.04" fill="#0072BD"/>
<rect x="326.24" y="83.03" width="1.97" height="9.95" fill="#D95319"/>
<rect x="326.24" y="55.13" width="1.97" height="27.90" fill="#77AC30"/>
<rect x="328.70" y="156.51" width="1.97" height="8.19" fill="#D95319"/>
<rect x="328.70" y="145.31" width="1.97" height="11.21" fill="#EDB120"/>
<rect x="328.70" y="123.14" width="1.97" height="22.17" fill="#7E2F8E"/>
<rect x="328.70" y="109.98" width="1.97" height="13.16" fill="#77AC30"/>
<rect x="328.70" y="104.00" width="1.97" height="5.98" fill="#A2142F"/>
<rect x="328.70" y="90.02" width="1.97" height="13.98" fill="#0072BD"/>
<rect x="328.70" y="80.01" width="1.97" height="10.01" fill="#D95319"/>
<rect x="328.70" y="58.28" width="1.97" height="21.72" fill="#77AC30"/>
<rect x="331.16" y="156.51" width="1.97" height="8.19" fill="#D95319"/>
<rect x="331.16" y="145.31" width="1.97" height="11.21" fill="#EDB120"/>
<rect x="331.16" y="121.25" width="1.97" height="24.05" fill="#7E2F8E"/>
<rect x="331.16" y="107.02" width="1.97" height="14.23" fill="#77AC30"/>
<rect x="331.16" y="101.10" width="1.97" height="5.92" fill="#A2142F"/>
<rect x="331.16" y="88.00" width="1.97" height="13.10" fill="#0072BD"/>
<rect x="331.16" y="77.99" width="1.97" height="10.01" fill="#D95319"/>
<rect x="331.16" y="54.12" width="1.97" height="23.87" fill="#77AC30"/>
</g>
<path d="M96.0 7.3V196.2H334.6" fill="none" stroke="#8a8a8a" stroke-width="0.8"/>
<path d="M96.00 196.2v-1.8" stroke="#8a8a8a" stroke-width="0.72"/>
<text x="96.00" y="206.55" font-size="8.6" fill="#2e2e2e" text-anchor="middle" textLength="4.11" lengthAdjust="spacingAndGlyphs">0</text>
<path d="M120.60 196.2v-1.8" stroke="#8a8a8a" stroke-width="0.72"/>
<text x="120.60" y="206.55" font-size="8.6" fill="#2e2e2e" text-anchor="middle" textLength="8.22" lengthAdjust="spacingAndGlyphs">10</text>
<path d="M145.20 196.2v-1.8" stroke="#8a8a8a" stroke-width="0.72"/>
<text x="145.20" y="206.55" font-size="8.6" fill="#2e2e2e" text-anchor="middle" textLength="8.22" lengthAdjust="spacingAndGlyphs">20</text>
<path d="M169.79 196.2v-1.8" stroke="#8a8a8a" stroke-width="0.72"/>
<text x="169.79" y="206.55" font-size="8.6" fill="#2e2e2e" text-anchor="middle" textLength="8.22" lengthAdjust="spacingAndGlyphs">30</text>
<path d="M194.39 196.2v-1.8" stroke="#8a8a8a" stroke-width="0.72"/>
<text x="194.39" y="206.55" font-size="8.6" fill="#2e2e2e" text-anchor="middle" textLength="8.22" lengthAdjust="spacingAndGlyphs">40</text>
<path d="M218.99 196.2v-1.8" stroke="#8a8a8a" stroke-width="0.72"/>
<text x="218.99" y="206.55" font-size="8.6" fill="#2e2e2e" text-anchor="middle" textLength="8.22" lengthAdjust="spacingAndGlyphs">50</text>
<path d="M243.59 196.2v-1.8" stroke="#8a8a8a" stroke-width="0.72"/>
<text x="243.59" y="206.55" font-size="8.6" fill="#2e2e2e" text-anchor="middle" textLength="8.22" lengthAdjust="spacingAndGlyphs">60</text>
<path d="M268.19 196.2v-1.8" stroke="#8a8a8a" stroke-width="0.72"/>
<text x="268.19" y="206.55" font-size="8.6" fill="#2e2e2e" text-anchor="middle" textLength="8.22" lengthAdjust="spacingAndGlyphs">70</text>
<path d="M292.78 196.2v-1.8" stroke="#8a8a8a" stroke-width="0.72"/>
<text x="292.78" y="206.55" font-size="8.6" fill="#2e2e2e" text-anchor="middle" textLength="8.22" lengthAdjust="spacingAndGlyphs">80</text>
<path d="M317.38 196.2v-1.8" stroke="#8a8a8a" stroke-width="0.72"/>
<text x="317.38" y="206.55" font-size="8.6" fill="#2e2e2e" text-anchor="middle" textLength="8.22" lengthAdjust="spacingAndGlyphs">90</text>
<path d="M96.0 7.27h1.8" stroke="#8a8a8a" stroke-width="0.72"/>
<text x="92.90" y="10.37" font-size="8.6" fill="#2e2e2e" text-anchor="end" textLength="12.34" lengthAdjust="spacingAndGlyphs">250</text>
<path d="M96.0 38.76h1.8" stroke="#8a8a8a" stroke-width="0.72"/>
<text x="92.90" y="41.86" font-size="8.6" fill="#2e2e2e" text-anchor="end" textLength="12.34" lengthAdjust="spacingAndGlyphs">200</text>
<path d="M96.0 70.24h1.8" stroke="#8a8a8a" stroke-width="0.72"/>
<text x="92.90" y="73.34" font-size="8.6" fill="#2e2e2e" text-anchor="end" textLength="12.34" lengthAdjust="spacingAndGlyphs">150</text>
<path d="M96.0 101.73h1.8" stroke="#8a8a8a" stroke-width="0.72"/>
<text x="92.90" y="104.83" font-size="8.6" fill="#2e2e2e" text-anchor="end" textLength="12.34" lengthAdjust="spacingAndGlyphs">100</text>
<path d="M96.0 133.21h1.8" stroke="#8a8a8a" stroke-width="0.72"/>
<text x="92.90" y="136.31" font-size="8.6" fill="#2e2e2e" text-anchor="end" textLength="8.22" lengthAdjust="spacingAndGlyphs">50</text>
<path d="M96.0 164.70h1.8" stroke="#8a8a8a" stroke-width="0.72"/>
<text x="92.90" y="167.80" font-size="8.6" fill="#2e2e2e" text-anchor="end" textLength="4.11" lengthAdjust="spacingAndGlyphs">0</text>
<path d="M96.0 196.19h1.8" stroke="#8a8a8a" stroke-width="0.72"/>
<text x="92.90" y="199.28" font-size="8.6" fill="#2e2e2e" text-anchor="end" textLength="10.69" lengthAdjust="spacingAndGlyphs">-50</text>
<text x="215.6" y="217.3" font-size="9" fill="#2b2b2b" text-anchor="middle" textLength="44" lengthAdjust="spacingAndGlyphs">x(time point)</text>
<text transform="translate(74.9,101.4) rotate(-90)" font-size="8.6" fill="#2b2b2b" text-anchor="middle" textLength="54" lengthAdjust="spacingAndGlyphs">y(power value)</text>
<rect x="207.9" y="4.9" width="118.7" height="18.7" fill="#fff" stroke="#555" stroke-width="0.8"/>
<path d="M213 9.1H234" stroke="#4FA0E0" stroke-width="0.6"/>
<rect x="212.8" y="15" width="21.6" height="6" fill="#D95319" stroke="#000" stroke-width="0.4"/>
<text x="235.9" y="11.9" font-size="7.3" fill="#111" stroke="#111" stroke-width="0.2" textLength="55.4" lengthAdjust="spacingAndGlyphs">Notwork-wide load</text>
<text x="235.9" y="19.8" font-size="7.3" fill="#111" stroke="#111" stroke-width="0.2" textLength="87.7" lengthAdjust="spacingAndGlyphs">Generation node unit portfolio</text>
<defs><g id="c2" stroke="#000" stroke-width="0.85">
<rect x="0" y="301.47" width="3.02" height="3.84" fill="#0072BD"/>
<rect x="0" y="297.63" width="3.02" height="3.84" fill="#D95319"/>
<rect x="0" y="293.80" width="3.02" height="3.84" fill="#EDB120"/>
<rect x="0" y="289.96" width="3.02" height="3.84" fill="#7E2F8E"/>
<rect x="0" y="286.12" width="3.02" height="3.84" fill="#77AC30"/>
<rect x="0" y="282.29" width="3.02" height="3.84" fill="#4DBEEE"/>
<rect x="0" y="278.45" width="3.02" height="3.84" fill="#A2142F"/>
<rect x="0" y="274.62" width="3.02" height="3.84" fill="#0072BD"/>
<rect x="0" y="270.79" width="3.02" height="3.84" fill="#D95319"/>
<rect x="0" y="266.95" width="3.02" height="3.84" fill="#EDB120"/>
<rect x="0" y="263.12" width="3.02" height="3.84" fill="#7E2F8E"/>
<rect x="0" y="259.28" width="3.02" height="3.84" fill="#77AC30"/>
<rect x="0" y="255.44" width="3.02" height="3.84" fill="#4DBEEE"/>
</g></defs>
<use href="#c2" x="30.27"/>
<use href="#c2" x="34.05"/>
<use href="#c2" x="37.83"/>
<use href="#c2" x="41.61"/>
<use href="#c2" x="45.39"/>
<use href="#c2" x="49.17"/>
<use href="#c2" x="52.95"/>
<use href="#c2" x="56.73"/>
<use href="#c2" x="60.51"/>
<use href="#c2" x="64.29"/>
<use href="#c2" x="68.07"/>
<use href="#c2" x="71.85"/>
<use href="#c2" x="75.63"/>
<use href="#c2" x="79.41"/>
<use href="#c2" x="83.19"/>
<use href="#c2" x="86.97"/>
<use href="#c2" x="90.75"/>
<use href="#c2" x="94.54"/>
<use href="#c2" x="98.32"/>
<use href="#c2" x="102.10"/>
<use href="#c2" x="105.88"/>
<use href="#c2" x="109.66"/>
<use href="#c2" x="113.44"/>
<use href="#c2" x="117.22"/>
<use href="#c2" x="121.00"/>
<use href="#c2" x="124.78"/>
<use href="#c2" x="128.56"/>
<use href="#c2" x="132.34"/>
<use href="#c2" x="136.12"/>
<use href="#c2" x="139.90"/>
<use href="#c2" x="143.68"/>
<use href="#c2" x="147.46"/>
<use href="#c2" x="151.24"/>
<use href="#c2" x="155.02"/>
<use href="#c2" x="158.80"/>
<use href="#c2" x="162.58"/>
<use href="#c2" x="166.36"/>
<use href="#c2" x="170.14"/>
<use href="#c2" x="173.92"/>
<use href="#c2" x="177.70"/>
<use href="#c2" x="181.48"/>
<use href="#c2" x="185.27"/>
<use href="#c2" x="189.05"/>
<use href="#c2" x="192.83"/>
<use href="#c2" x="196.61"/>
<use href="#c2" x="200.39"/>
<use href="#c2" x="204.17"/>
<use href="#c2" x="207.95"/>
<use href="#c2" x="211.73"/>
<use href="#c2" x="215.51"/>
<use href="#c2" x="219.29"/>
<use href="#c2" x="223.07"/>
<use href="#c2" x="226.85"/>
<use href="#c2" x="230.63"/>
<use href="#c2" x="234.41"/>
<use href="#c2" x="238.19"/>
<use href="#c2" x="241.97"/>
<use href="#c2" x="245.75"/>
<use href="#c2" x="249.53"/>
<use href="#c2" x="253.31"/>
<use href="#c2" x="257.09"/>
<use href="#c2" x="260.87"/>
<use href="#c2" x="264.65"/>
<use href="#c2" x="268.43"/>
<use href="#c2" x="272.21"/>
<use href="#c2" x="276.00"/>
<use href="#c2" x="279.78"/>
<use href="#c2" x="283.56"/>
<use href="#c2" x="287.34"/>
<use href="#c2" x="291.12"/>
<use href="#c2" x="294.90"/>
<use href="#c2" x="298.68"/>
<use href="#c2" x="302.46"/>
<use href="#c2" x="306.24"/>
<use href="#c2" x="310.02"/>
<use href="#c2" x="313.80"/>
<use href="#c2" x="317.58"/>
<use href="#c2" x="321.36"/>
<use href="#c2" x="325.14"/>
<use href="#c2" x="328.92"/>
<use href="#c2" x="332.70"/>
<use href="#c2" x="336.48"/>
<use href="#c2" x="340.26"/>
<use href="#c2" x="344.04"/>
<use href="#c2" x="347.82"/>
<use href="#c2" x="351.60"/>
<use href="#c2" x="355.38"/>
<use href="#c2" x="359.16"/>
<use href="#c2" x="362.94"/>
<use href="#c2" x="366.72"/>
<use href="#c2" x="370.51"/>
<use href="#c2" x="374.29"/>
<use href="#c2" x="378.07"/>
<use href="#c2" x="381.85"/>
<use href="#c2" x="385.63"/>
<use href="#c2" x="389.41"/>
<polyline points="31.78,241.37 35.56,240.62 39.34,239.87 43.12,239.61 46.90,239.34 50.68,239.18 54.46,239.03 58.24,238.88 62.02,238.72 65.80,238.57 69.58,238.49 73.36,238.42 77.15,238.34 80.93,238.26 84.71,238.19 88.49,238.26 92.27,238.34 96.05,238.42 99.83,238.49 103.61,238.57 107.39,239.34 111.17,240.87 114.95,239.34 118.73,238.95 122.51,238.57 126.29,239.22 130.07,239.87 133.85,240.49 137.63,242.41 141.41,242.79 145.19,243.36 148.97,243.94 152.75,247.01 156.53,255.83 160.31,257.36 164.09,256.40 167.88,255.35 171.66,254.29 175.44,253.53 179.22,254.29 183.00,237.42 186.78,236.85 190.56,236.27 194.34,235.89 198.12,235.50 201.90,235.31 205.68,235.12 209.46,235.25 213.24,235.38 217.02,235.50 220.80,239.87 224.58,241.26 228.36,241.51 232.14,241.77 235.92,242.02 239.70,241.87 243.48,241.72 247.26,241.56 251.04,241.41 254.82,241.26 258.61,241.26 262.39,241.26 266.17,241.26 269.95,241.26 273.73,241.26 277.51,241.26 281.29,241.26 285.07,241.26 288.85,241.26 292.63,241.26 296.41,243.17 300.19,245.47 303.97,243.94 307.75,243.36 311.53,242.79 315.31,243.02 319.09,243.25 322.87,243.48 326.65,243.71 330.43,243.94 334.21,244.17 337.99,244.40 341.77,244.63 345.55,244.86 349.34,245.09 353.12,245.40 356.90,245.70 360.68,246.01 364.46,246.32 368.24,246.62 372.02,246.75 375.80,246.88 379.58,247.01 383.36,246.24 387.14,245.47 390.92,244.71" fill="none" stroke="#C9506E" stroke-width="0.9"/>
<rect x="28.0" y="228.6" width="366.70" height="76.70" fill="none" stroke="#555" stroke-width="0.9"/>
<path d="M28.00 305.3v-3M28.00 228.6v3" stroke="#555" stroke-width="0.81"/>
<text x="28.00" y="318.30" font-size="9.6" fill="#2b2b2b" text-anchor="middle">0</text>
<path d="M65.80 305.3v-3M65.80 228.6v3" stroke="#555" stroke-width="0.81"/>
<text x="65.80" y="318.30" font-size="9.6" fill="#2b2b2b" text-anchor="middle">10</text>
<path d="M103.61 305.3v-3M103.61 228.6v3" stroke="#555" stroke-width="0.81"/>
<text x="103.61" y="318.30" font-size="9.6" fill="#2b2b2b" text-anchor="middle">20</text>
<path d="M141.41 305.3v-3M141.41 228.6v3" stroke="#555" stroke-width="0.81"/>
<text x="141.41" y="318.30" font-size="9.6" fill="#2b2b2b" text-anchor="middle">30</text>
<path d="M179.22 305.3v-3M179.22 228.6v3" stroke="#555" stroke-width="0.81"/>
<text x="179.22" y="318.30" font-size="9.6" fill="#2b2b2b" text-anchor="middle">40</text>
<path d="M217.02 305.3v-3M217.02 228.6v3" stroke="#555" stroke-width="0.81"/>
<text x="217.02" y="318.30" font-size="9.6" fill="#2b2b2b" text-anchor="middle">50</text>
<path d="M254.82 305.3v-3M254.82 228.6v3" stroke="#555" stroke-width="0.81"/>
<text x="254.82" y="318.30" font-size="9.6" fill="#2b2b2b" text-anchor="middle">60</text>
<path d="M292.63 305.3v-3M292.63 228.6v3" stroke="#555" stroke-width="0.81"/>
<text x="292.63" y="318.30" font-size="9.6" fill="#2b2b2b" text-anchor="middle">70</text>
<path d="M330.43 305.3v-3M330.43 228.6v3" stroke="#555" stroke-width="0.81"/>
<text x="330.43" y="318.30" font-size="9.6" fill="#2b2b2b" text-anchor="middle">80</text>
<path d="M368.24 305.3v-3M368.24 228.6v3" stroke="#555" stroke-width="0.81"/>
<text x="368.24" y="318.30" font-size="9.6" fill="#2b2b2b" text-anchor="middle">90</text>
<path d="M28.0 228.60h3M394.7 228.60h-3" stroke="#555" stroke-width="0.81"/>
<text x="24.40" y="232.06" font-size="9.6" fill="#2b2b2b" text-anchor="end">20</text>
<path d="M28.0 266.95h3M394.7 266.95h-3" stroke="#555" stroke-width="0.81"/>
<text x="24.40" y="270.41" font-size="9.6" fill="#2b2b2b" text-anchor="end">10</text>
<path d="M28.0 305.30h3M394.7 305.30h-3" stroke="#555" stroke-width="0.81"/>
<text x="24.40" y="308.76" font-size="9.6" fill="#2b2b2b" text-anchor="end">0</text>
<rect x="293.5" y="227.6" width="99.9" height="15" fill="#fff" stroke="#555" stroke-width="0.9"/>
<rect x="297" y="230.6" width="33.4" height="8.4" fill="#0072BD" stroke="#000" stroke-width="0.7"/>
<text x="334.1" y="234.85" font-size="7.8" fill="#222" textLength="43.8" lengthAdjust="spacingAndGlyphs">Node 4 Unit</text>
<text x="334.1" y="240.6" font-size="7.8" fill="#222" textLength="46.8" lengthAdjust="spacingAndGlyphs">Combination</text>
<rect x="29.87" y="383.39" width="3.82" height="26.76" fill="#000"/>
<rect x="30.67" y="408.68" width="2.22" height="0.77" fill="#0072BD"/>
<rect x="30.67" y="407.32" width="2.22" height="0.77" fill="#D95319"/>
<rect x="30.67" y="405.95" width="2.22" height="0.77" fill="#EDB120"/>
<rect x="30.67" y="404.59" width="2.22" height="0.77" fill="#7E2F8E"/>
<rect x="30.67" y="403.22" width="2.22" height="0.77" fill="#77AC30"/>
<rect x="30.67" y="401.85" width="2.22" height="0.77" fill="#4DBEEE"/>
<rect x="30.67" y="400.49" width="2.22" height="0.77" fill="#A2142F"/>
<rect x="30.67" y="399.12" width="2.22" height="0.77" fill="#0072BD"/>
<rect x="30.67" y="397.76" width="2.22" height="0.77" fill="#D95319"/>
<rect x="30.67" y="396.39" width="2.22" height="0.77" fill="#EDB120"/>
<rect x="30.67" y="395.02" width="2.22" height="0.77" fill="#7E2F8E"/>
<rect x="30.67" y="393.66" width="2.22" height="0.77" fill="#77AC30"/>
<rect x="30.67" y="392.29" width="2.22" height="0.77" fill="#4DBEEE"/>
<rect x="30.67" y="390.92" width="2.22" height="0.77" fill="#A2142F"/>
<rect x="30.67" y="389.56" width="2.22" height="0.77" fill="#0072BD"/>
<rect x="30.67" y="388.19" width="2.22" height="0.77" fill="#D95319"/>
<rect x="30.67" y="386.83" width="2.22" height="0.77" fill="#EDB120"/>
<rect x="30.67" y="385.46" width="2.22" height="0.77" fill="#7E2F8E"/>
<rect x="30.67" y="384.09" width="2.22" height="0.77" fill="#77AC30"/>
<rect x="33.65" y="383.39" width="3.82" height="26.76" fill="#000"/>
<rect x="34.45" y="408.68" width="2.22" height="0.77" fill="#0072BD"/>
<rect x="34.45" y="407.32" width="2.22" height="0.77" fill="#D95319"/>
<rect x="34.45" y="405.95" width="2.22" height="0.77" fill="#EDB120"/>
<rect x="34.45" y="404.59" width="2.22" height="0.77" fill="#7E2F8E"/>
<rect x="34.45" y="403.22" width="2.22" height="0.77" fill="#77AC30"/>
<rect x="34.45" y="401.85" width="2.22" height="0.77" fill="#4DBEEE"/>
<rect x="34.45" y="400.49" width="2.22" height="0.77" fill="#A2142F"/>
<rect x="34.45" y="399.12" width="2.22" height="0.77" fill="#0072BD"/>
<rect x="34.45" y="397.76" width="2.22" height="0.77" fill="#D95319"/>
<rect x="34.45" y="396.39" width="2.22" height="0.77" fill="#EDB120"/>
<rect x="34.45" y="395.02" width="2.22" height="0.77" fill="#7E2F8E"/>
<rect x="34.45" y="393.66" width="2.22" height="0.77" fill="#77AC30"/>
<rect x="34.45" y="392.29" width="2.22" height="0.77" fill="#4DBEEE"/>
<rect x="34.45" y="390.92" width="2.22" height="0.77" fill="#A2142F"/>
<rect x="34.45" y="389.56" width="2.22" height="0.77" fill="#0072BD"/>
<rect x="34.45" y="388.19" width="2.22" height="0.77" fill="#D95319"/>
<rect x="34.45" y="386.83" width="2.22" height="0.77" fill="#EDB120"/>
<rect x="34.45" y="385.46" width="2.22" height="0.77" fill="#7E2F8E"/>
<rect x="34.45" y="384.09" width="2.22" height="0.77" fill="#77AC30"/>
<rect x="37.43" y="383.39" width="3.82" height="26.76" fill="#000"/>
<rect x="38.23" y="408.68" width="2.22" height="0.77" fill="#0072BD"/>
<rect x="38.23" y="407.32" width="2.22" height="0.77" fill="#D95319"/>
<rect x="38.23" y="405.95" width="2.22" height="0.77" fill="#EDB120"/>
<rect x="38.23" y="404.59" width="2.22" height="0.77" fill="#7E2F8E"/>
<rect x="38.23" y="403.22" width="2.22" height="0.77" fill="#77AC30"/>
<rect x="38.23" y="401.85" width="2.22" height="0.77" fill="#4DBEEE"/>
<rect x="38.23" y="400.49" width="2.22" height="0.77" fill="#A2142F"/>
<rect x="38.23" y="399.12" width="2.22" height="0.77" fill="#0072BD"/>
<rect x="38.23" y="397.76" width="2.22" height="0.77" fill="#D95319"/>
<rect x="38.23" y="396.39" width="2.22" height="0.77" fill="#EDB120"/>
<rect x="38.23" y="395.02" width="2.22" height="0.77" fill="#7E2F8E"/>
<rect x="38.23" y="393.66" width="2.22" height="0.77" fill="#77AC30"/>
<rect x="38.23" y="392.29" width="2.22" height="0.77" fill="#4DBEEE"/>
<rect x="38.23" y="390.92" width="2.22" height="0.77" fill="#A2142F"/>
<rect x="38.23" y="389.56" width="2.22" height="0.77" fill="#0072BD"/>
<rect x="38.23" y="388.19" width="2.22" height="0.77" fill="#D95319"/>
<rect x="38.23" y="386.83" width="2.22" height="0.77" fill="#EDB120"/>
<rect x="38.23" y="385.46" width="2.22" height="0.77" fill="#7E2F8E"/>
<rect x="38.23" y="384.09" width="2.22" height="0.77" fill="#77AC30"/>
<rect x="41.21" y="383.39" width="3.82" height="26.76" fill="#000"/>
<rect x="42.01" y="408.68" width="2.22" height="0.77" fill="#0072BD"/>
<rect x="42.01" y="407.32" width="2.22" height="0.77" fill="#D95319"/>
<rect x="42.01" y="405.95" width="2.22" height="0.77" fill="#EDB120"/>
<rect x="42.01" y="404.59" width="2.22" height="0.77" fill="#7E2F8E"/>
<rect x="42.01" y="403.22" width="2.22" height="0.77" fill="#77AC30"/>
<rect x="42.01" y="401.85" width="2.22" height="0.77" fill="#4DBEEE"/>
<rect x="42.01" y="400.49" width="2.22" height="0.77" fill="#A2142F"/>
<rect x="42.01" y="399.12" width="2.22" height="0.77" fill="#0072BD"/>
<rect x="42.01" y="397.76" width="2.22" height="0.77" fill="#D95319"/>
<rect x="42.01" y="396.39" width="2.22" height="0.77" fill="#EDB120"/>
<rect x="42.01" y="395.02" width="2.22" height="0.77" fill="#7E2F8E"/>
<rect x="42.01" y="393.66" width="2.22" height="0.77" fill="#77AC30"/>
<rect x="42.01" y="392.29" width="2.22" height="0.77" fill="#4DBEEE"/>
<rect x="42.01" y="390.92" width="2.22" height="0.77" fill="#A2142F"/>
<rect x="42.01" y="389.56" width="2.22" height="0.77" fill="#0072BD"/>
<rect x="42.01" y="388.19" width="2.22" height="0.77" fill="#D95319"/>
<rect x="42.01" y="386.83" width="2.22" height="0.77" fill="#EDB120"/>
<rect x="42.01" y="385.46" width="2.22" height="0.77" fill="#7E2F8E"/>
<rect x="42.01" y="384.09" width="2.22" height="0.77" fill="#77AC30"/>
<rect x="44.99" y="382.18" width="3.82" height="26.35" fill="#000"/>
<rect x="45.79" y="407.08" width="2.22" height="0.74" fill="#0072BD"/>
<rect x="45.79" y="405.74" width="2.22" height="0.74" fill="#D95319"/>
<rect x="45.79" y="404.39" width="2.22" height="0.74" fill="#EDB120"/>
<rect x="45.79" y="403.05" width="2.22" height="0.74" fill="#7E2F8E"/>
<rect x="45.79" y="401.70" width="2.22" height="0.74" fill="#77AC30"/>
<rect x="45.79" y="400.36" width="2.22" height="0.74" fill="#4DBEEE"/>
<rect x="45.79" y="399.01" width="2.22" height="0.74" fill="#A2142F"/>
<rect x="45.79" y="397.67" width="2.22" height="0.74" fill="#0072BD"/>
<rect x="45.79" y="396.32" width="2.22" height="0.74" fill="#D95319"/>
<rect x="45.79" y="394.98" width="2.22" height="0.74" fill="#EDB120"/>
<rect x="45.79" y="393.64" width="2.22" height="0.74" fill="#7E2F8E"/>
<rect x="45.79" y="392.29" width="2.22" height="0.74" fill="#77AC30"/>
<rect x="45.79" y="390.95" width="2.22" height="0.74" fill="#4DBEEE"/>
<rect x="45.79" y="389.60" width="2.22" height="0.74" fill="#A2142F"/>
<rect x="45.79" y="388.26" width="2.22" height="0.74" fill="#0072BD"/>
<rect x="45.79" y="386.91" width="2.22" height="0.74" fill="#D95319"/>
<rect x="45.79" y="385.57" width="2.22" height="0.74" fill="#EDB120"/>
<rect x="45.79" y="384.22" width="2.22" height="0.74" fill="#7E2F8E"/>
<rect x="45.79" y="382.88" width="2.22" height="0.74" fill="#77AC30"/>
<rect x="48.77" y="375.15" width="3.82" height="26.49" fill="#000"/>
<rect x="49.57" y="400.18" width="2.22" height="0.75" fill="#0072BD"/>
<rect x="49.57" y="398.83" width="2.22" height="0.75" fill="#D95319"/>
<rect x="49.57" y="397.48" width="2.22" height="0.75" fill="#EDB120"/>
<rect x="49.57" y="396.13" width="2.22" height="0.75" fill="#7E2F8E"/>
<rect x="49.57" y="394.77" width="2.22" height="0.75" fill="#77AC30"/>
<rect x="49.57" y="393.42" width="2.22" height="0.75" fill="#4DBEEE"/>
<rect x="49.57" y="392.07" width="2.22" height="0.75" fill="#A2142F"/>
<rect x="49.57" y="390.72" width="2.22" height="0.75" fill="#0072BD"/>
<rect x="49.57" y="389.37" width="2.22" height="0.75" fill="#D95319"/>
<rect x="49.57" y="388.01" width="2.22" height="0.75" fill="#EDB120"/>
<rect x="49.57" y="386.66" width="2.22" height="0.75" fill="#7E2F8E"/>
<rect x="49.57" y="385.31" width="2.22" height="0.75" fill="#77AC30"/>
<rect x="49.57" y="383.96" width="2.22" height="0.75" fill="#4DBEEE"/>
<rect x="49.57" y="382.61" width="2.22" height="0.75" fill="#A2142F"/>
<rect x="49.57" y="381.25" width="2.22" height="0.75" fill="#0072BD"/>
<rect x="49.57" y="379.90" width="2.22" height="0.75" fill="#D95319"/>
<rect x="49.57" y="378.55" width="2.22" height="0.75" fill="#EDB120"/>
<rect x="49.57" y="377.20" width="2.22" height="0.75" fill="#7E2F8E"/>
<rect x="49.57" y="375.85" width="2.22" height="0.75" fill="#77AC30"/>
<rect x="52.55" y="373.93" width="3.82" height="26.49" fill="#000"/>
<rect x="53.35" y="398.96" width="2.22" height="0.75" fill="#0072BD"/>
<rect x="53.35" y="397.61" width="2.22" height="0.75" fill="#D95319"/>
<rect x="53.35" y="396.26" width="2.22" height="0.75" fill="#EDB120"/>
<rect x="53.35" y="394.91" width="2.22" height="0.75" fill="#7E2F8E"/>
<rect x="53.35" y="393.56" width="2.22" height="0.75" fill="#77AC30"/>
<rect x="53.35" y="392.20" width="2.22" height="0.75" fill="#4DBEEE"/>
<rect x="53.35" y="390.85" width="2.22" height="0.75" fill="#A2142F"/>
<rect x="53.35" y="389.50" width="2.22" height="0.75" fill="#0072BD"/>
<rect x="53.35" y="388.15" width="2.22" height="0.75" fill="#D95319"/>
<rect x="53.35" y="386.80" width="2.22" height="0.75" fill="#EDB120"/>
<rect x="53.35" y="385.44" width="2.22" height="0.75" fill="#7E2F8E"/>
<rect x="53.35" y="384.09" width="2.22" height="0.75" fill="#77AC30"/>
<rect x="53.35" y="382.74" width="2.22" height="0.75" fill="#4DBEEE"/>
<rect x="53.35" y="381.39" width="2.22" height="0.75" fill="#A2142F"/>
<rect x="53.35" y="380.04" width="2.22" height="0.75" fill="#0072BD"/>
<rect x="53.35" y="378.68" width="2.22" height="0.75" fill="#D95319"/>
<rect x="53.35" y="377.33" width="2.22" height="0.75" fill="#EDB120"/>
<rect x="53.35" y="375.98" width="2.22" height="0.75" fill="#7E2F8E"/>
<rect x="53.35" y="374.63" width="2.22" height="0.75" fill="#77AC30"/>
<rect x="56.33" y="373.93" width="3.82" height="26.49" fill="#000"/>
<rect x="57.13" y="398.96" width="2.22" height="0.75" fill="#0072BD"/>
<rect x="57.13" y="397.61" width="2.22" height="0.75" fill="#D95319"/>
<rect x="57.13" y="396.26" width="2.22" height="0.75" fill="#EDB120"/>
<rect x="57.13" y="394.91" width="2.22" height="0.75" fill="#7E2F8E"/>
<rect x="57.13" y="393.56" width="2.22" height="0.75" fill="#77AC30"/>
<rect x="57.13" y="392.20" width="2.22" height="0.75" fill="#4DBEEE"/>
<rect x="57.13" y="390.85" width="2.22" height="0.75" fill="#A2142F"/>
<rect x="57.13" y="389.50" width="2.22" height="0.75" fill="#0072BD"/>
<rect x="57.13" y="388.15" width="2.22" height="0.75" fill="#D95319"/>
<rect x="57.13" y="386.80" width="2.22" height="0.75" fill="#EDB120"/>
<rect x="57.13" y="385.44" width="2.22" height="0.75" fill="#7E2F8E"/>
<rect x="57.13" y="384.09" width="2.22" height="0.75" fill="#77AC30"/>
<rect x="57.13" y="382.74" width="2.22" height="0.75" fill="#4DBEEE"/>
<rect x="57.13" y="381.39" width="2.22" height="0.75" fill="#A2142F"/>
<rect x="57.13" y="380.04" width="2.22" height="0.75" fill="#0072BD"/>
<rect x="57.13" y="378.68" width="2.22" height="0.75" fill="#D95319"/>
<rect x="57.13" y="377.33" width="2.22" height="0.75" fill="#EDB120"/>
<rect x="57.13" y="375.98" width="2.22" height="0.75" fill="#7E2F8E"/>
<rect x="57.13" y="374.63" width="2.22" height="0.75" fill="#77AC30"/>
<rect x="60.11" y="372.71" width="3.82" height="26.22" fill="#000"/>
<rect x="60.91" y="397.49" width="2.22" height="0.74" fill="#0072BD"/>
<rect x="60.91" y="396.15" width="2.22" height="0.74" fill="#D95319"/>
<rect x="60.91" y="394.82" width="2.22" height="0.74" fill="#EDB120"/>
<rect x="60.91" y="393.48" width="2.22" height="0.74" fill="#7E2F8E"/>
<rect x="60.91" y="392.14" width="2.22" height="0.74" fill="#77AC30"/>
<rect x="60.91" y="390.80" width="2.22" height="0.74" fill="#4DBEEE"/>
<rect x="60.91" y="389.47" width="2.22" height="0.74" fill="#A2142F"/>
<rect x="60.91" y="388.13" width="2.22" height="0.74" fill="#0072BD"/>
<rect x="60.91" y="386.79" width="2.22" height="0.74" fill="#D95319"/>
<rect x="60.91" y="385.45" width="2.22" height="0.74" fill="#EDB120"/>
<rect x="60.91" y="384.11" width="2.22" height="0.74" fill="#7E2F8E"/>
<rect x="60.91" y="382.78" width="2.22" height="0.74" fill="#77AC30"/>
<rect x="60.91" y="381.44" width="2.22" height="0.74" fill="#4DBEEE"/>
<rect x="60.91" y="380.10" width="2.22" height="0.74" fill="#A2142F"/>
<rect x="60.91" y="378.76" width="2.22" height="0.74" fill="#0072BD"/>
<rect x="60.91" y="377.43" width="2.22" height="0.74" fill="#D95319"/>
<rect x="60.91" y="376.09" width="2.22" height="0.74" fill="#EDB120"/>
<rect x="60.91" y="374.75" width="2.22" height="0.74" fill="#7E2F8E"/>
<rect x="60.91" y="373.41" width="2.22" height="0.74" fill="#77AC30"/>
<rect x="63.89" y="372.71" width="3.82" height="26.22" fill="#000"/>
<rect x="64.69" y="397.49" width="2.22" height="0.74" fill="#0072BD"/>
<rect x="64.69" y="396.15" width="2.22" height="0.74" fill="#D95319"/>
<rect x="64.69" y="394.82" width="2.22" height="0.74" fill="#EDB120"/>
<rect x="64.69" y="393.48" width="2.22" height="0.74" fill="#7E2F8E"/>
<rect x="64.69" y="392.14" width="2.22" height="0.74" fill="#77AC30"/>
<rect x="64.69" y="390.80" width="2.22" height="0.74" fill="#4DBEEE"/>
<rect x="64.69" y="389.47" width="2.22" height="0.74" fill="#A2142F"/>
<rect x="64.69" y="388.13" width="2.22" height="0.74" fill="#0072BD"/>
<rect x="64.69" y="386.79" width="2.22" height="0.74" fill="#D95319"/>
<rect x="64.69" y="385.45" width="2.22" height="0.74" fill="#EDB120"/>
<rect x="64.69" y="384.11" width="2.22" height="0.74" fill="#7E2F8E"/>
<rect x="64.69" y="382.78" width="2.22" height="0.74" fill="#77AC30"/>
<rect x="64.69" y="381.44" width="2.22" height="0.74" fill="#4DBEEE"/>
<rect x="64.69" y="380.10" width="2.22" height="0.74" fill="#A2142F"/>
<rect x="64.69" y="378.76" width="2.22" height="0.74" fill="#0072BD"/>
<rect x="64.69" y="377.43" width="2.22" height="0.74" fill="#D95319"/>
<rect x="64.69" y="376.09" width="2.22" height="0.74" fill="#EDB120"/>
<rect x="64.69" y="374.75" width="2.22" height="0.74" fill="#7E2F8E"/>
<rect x="64.69" y="373.41" width="2.22" height="0.74" fill="#77AC30"/>
<rect x="67.67" y="372.71" width="3.82" height="26.22" fill="#000"/>
<rect x="68.47" y="397.49" width="2.22" height="0.74" fill="#0072BD"/>
<rect x="68.47" y="396.15" width="2.22" height="0.74" fill="#D95319"/>
<rect x="68.47" y="394.82" width="2.22" height="0.74" fill="#EDB120"/>
<rect x="68.47" y="393.48" width="2.22" height="0.74" fill="#7E2F8E"/>
<rect x="68.47" y="392.14" width="2.22" height="0.74" fill="#77AC30"/>
<rect x="68.47" y="390.80" width="2.22" height="0.74" fill="#4DBEEE"/>
<rect x="68.47" y="389.47" width="2.22" height="0.74" fill="#A2142F"/>
<rect x="68.47" y="388.13" width="2.22" height="0.74" fill="#0072BD"/>
<rect x="68.47" y="386.79" width="2.22" height="0.74" fill="#D95319"/>
<rect x="68.47" y="385.45" width="2.22" height="0.74" fill="#EDB120"/>
<rect x="68.47" y="384.11" width="2.22" height="0.74" fill="#7E2F8E"/>
<rect x="68.47" y="382.78" width="2.22" height="0.74" fill="#77AC30"/>
<rect x="68.47" y="381.44" width="2.22" height="0.74" fill="#4DBEEE"/>
<rect x="68.47" y="380.10" width="2.22" height="0.74" fill="#A2142F"/>
<rect x="68.47" y="378.76" width="2.22" height="0.74" fill="#0072BD"/>
<rect x="68.47" y="377.43" width="2.22" height="0.74" fill="#D95319"/>
<rect x="68.47" y="376.09" width="2.22" height="0.74" fill="#EDB120"/>
<rect x="68.47" y="374.75" width="2.22" height="0.74" fill="#7E2F8E"/>
<rect x="68.47" y="373.41" width="2.22" height="0.74" fill="#77AC30"/>
<rect x="71.45" y="372.71" width="3.82" height="26.22" fill="#000"/>
<rect x="72.25" y="397.49" width="2.22" height="0.74" fill="#0072BD"/>
<rect x="72.25" y="396.15" width="2.22" height="0.74" fill="#D95319"/>
<rect x="72.25" y="394.82" width="2.22" height="0.74" fill="#EDB120"/>
<rect x="72.25" y="393.48" width="2.22" height="0.74" fill="#7E2F8E"/>
<rect x="72.25" y="392.14" width="2.22" height="0.74" fill="#77AC30"/>
<rect x="72.25" y="390.80" width="2.22" height="0.74" fill="#4DBEEE"/>
<rect x="72.25" y="389.47" width="2.22" height="0.74" fill="#A2142F"/>
<rect x="72.25" y="388.13" width="2.22" height="0.74" fill="#0072BD"/>
<rect x="72.25" y="386.79" width="2.22" height="0.74" fill="#D95319"/>
<rect x="72.25" y="385.45" width="2.22" height="0.74" fill="#EDB120"/>
<rect x="72.25" y="384.11" width="2.22" height="0.74" fill="#7E2F8E"/>
<rect x="72.25" y="382.78" width="2.22" height="0.74" fill="#77AC30"/>
<rect x="72.25" y="381.44" width="2.22" height="0.74" fill="#4DBEEE"/>
<rect x="72.25" y="380.10" width="2.22" height="0.74" fill="#A2142F"/>
<rect x="72.25" y="378.76" width="2.22" height="0.74" fill="#0072BD"/>
<rect x="72.25" y="377.43" width="2.22" height="0.74" fill="#D95319"/>
<rect x="72.25" y="376.09" width="2.22" height="0.74" fill="#EDB120"/>
<rect x="72.25" y="374.75" width="2.22" height="0.74" fill="#7E2F8E"/>
<rect x="72.25" y="373.41" width="2.22" height="0.74" fill="#77AC30"/>
<rect x="75.23" y="372.71" width="3.82" height="26.22" fill="#000"/>
<rect x="76.03" y="397.49" width="2.22" height="0.74" fill="#0072BD"/>
<rect x="76.03" y="396.15" width="2.22" height="0.74" fill="#D95319"/>
<rect x="76.03" y="394.82" width="2.22" height="0.74" fill="#EDB120"/>
<rect x="76.03" y="393.48" width="2.22" height="0.74" fill="#7E2F8E"/>
<rect x="76.03" y="392.14" width="2.22" height="0.74" fill="#77AC30"/>
<rect x="76.03" y="390.80" width="2.22" height="0.74" fill="#4DBEEE"/>
<rect x="76.03" y="389.47" width="2.22" height="0.74" fill="#A2142F"/>
<rect x="76.03" y="388.13" width="2.22" height="0.74" fill="#0072BD"/>
<rect x="76.03" y="386.79" width="2.22" height="0.74" fill="#D95319"/>
<rect x="76.03" y="385.45" width="2.22" height="0.74" fill="#EDB120"/>
<rect x="76.03" y="384.11" width="2.22" height="0.74" fill="#7E2F8E"/>
<rect x="76.03" y="382.78" width="2.22" height="0.74" fill="#77AC30"/>
<rect x="76.03" y="381.44" width="2.22" height="0.74" fill="#4DBEEE"/>
<rect x="76.03" y="380.10" width="2.22" height="0.74" fill="#A2142F"/>
<rect x="76.03" y="378.76" width="2.22" height="0.74" fill="#0072BD"/>
<rect x="76.03" y="377.43" width="2.22" height="0.74" fill="#D95319"/>
<rect x="76.03" y="376.09" width="2.22" height="0.74" fill="#EDB120"/>
<rect x="76.03" y="374.75" width="2.22" height="0.74" fill="#7E2F8E"/>
<rect x="76.03" y="373.41" width="2.22" height="0.74" fill="#77AC30"/>
<rect x="79.01" y="372.71" width="3.82" height="26.22" fill="#000"/>
<rect x="79.81" y="397.49" width="2.22" height="0.74" fill="#0072BD"/>
<rect x="79.81" y="396.15" width="2.22" height="0.74" fill="#D95319"/>
<rect x="79.81" y="394.82" width="2.22" height="0.74" fill="#EDB120"/>
<rect x="79.81" y="393.48" width="2.22" height="0.74" fill="#7E2F8E"/>
<rect x="79.81" y="392.14" width="2.22" height="0.74" fill="#77AC30"/>
<rect x="79.81" y="390.80" width="2.22" height="0.74" fill="#4DBEEE"/>
<rect x="79.81" y="389.47" width="2.22" height="0.74" fill="#A2142F"/>
<rect x="79.81" y="388.13" width="2.22" height="0.74" fill="#0072BD"/>
<rect x="79.81" y="386.79" width="2.22" height="0.74" fill="#D95319"/>
<rect x="79.81" y="385.45" width="2.22" height="0.74" fill="#EDB120"/>
<rect x="79.81" y="384.11" width="2.22" height="0.74" fill="#7E2F8E"/>
<rect x="79.81" y="382.78" width="2.22" height="0.74" fill="#77AC30"/>
<rect x="79.81" y="381.44" width="2.22" height="0.74" fill="#4DBEEE"/>
<rect x="79.81" y="380.10" width="2.22" height="0.74" fill="#A2142F"/>
<rect x="79.81" y="378.76" width="2.22" height="0.74" fill="#0072BD"/>
<rect x="79.81" y="377.43" width="2.22" height="0.74" fill="#D95319"/>
<rect x="79.81" y="376.09" width="2.22" height="0.74" fill="#EDB120"/>
<rect x="79.81" y="374.75" width="2.22" height="0.74" fill="#7E2F8E"/>
<rect x="79.81" y="373.41" width="2.22" height="0.74" fill="#77AC30"/>
<rect x="82.79" y="373.93" width="3.82" height="26.49" fill="#000"/>
<rect x="83.59" y="398.96" width="2.22" height="0.75" fill="#0072BD"/>
<rect x="83.59" y="397.61" width="2.22" height="0.75" fill="#D95319"/>
<rect x="83.59" y="396.26" width="2.22" height="0.75" fill="#EDB120"/>
<rect x="83.59" y="394.91" width="2.22" height="0.75" fill="#7E2F8E"/>
<rect x="83.59" y="393.56" width="2.22" height="0.75" fill="#77AC30"/>
<rect x="83.59" y="392.20" width="2.22" height="0.75" fill="#4DBEEE"/>
<rect x="83.59" y="390.85" width="2.22" height="0.75" fill="#A2142F"/>
<rect x="83.59" y="389.50" width="2.22" height="0.75" fill="#0072BD"/>
<rect x="83.59" y="388.15" width="2.22" height="0.75" fill="#D95319"/>
<rect x="83.59" y="386.80" width="2.22" height="0.75" fill="#EDB120"/>
<rect x="83.59" y="385.44" width="2.22" height="0.75" fill="#7E2F8E"/>
<rect x="83.59" y="384.09" width="2.22" height="0.75" fill="#77AC30"/>
<rect x="83.59" y="382.74" width="2.22" height="0.75" fill="#4DBEEE"/>
<rect x="83.59" y="381.39" width="2.22" height="0.75" fill="#A2142F"/>
<rect x="83.59" y="380.04" width="2.22" height="0.75" fill="#0072BD"/>
<rect x="83.59" y="378.68" width="2.22" height="0.75" fill="#D95319"/>
<rect x="83.59" y="377.33" width="2.22" height="0.75" fill="#EDB120"/>
<rect x="83.59" y="375.98" width="2.22" height="0.75" fill="#7E2F8E"/>
<rect x="83.59" y="374.63" width="2.22" height="0.75" fill="#77AC30"/>
<rect x="86.57" y="373.93" width="3.82" height="26.49" fill="#000"/>
<rect x="87.37" y="398.96" width="2.22" height="0.75" fill="#0072BD"/>
<rect x="87.37" y="397.61" width="2.22" height="0.75" fill="#D95319"/>
<rect x="87.37" y="396.26" width="2.22" height="0.75" fill="#EDB120"/>
<rect x="87.37" y="394.91" width="2.22" height="0.75" fill="#7E2F8E"/>
<rect x="87.37" y="393.56" width="2.22" height="0.75" fill="#77AC30"/>
<rect x="87.37" y="392.20" width="2.22" height="0.75" fill="#4DBEEE"/>
<rect x="87.37" y="390.85" width="2.22" height="0.75" fill="#A2142F"/>
<rect x="87.37" y="389.50" width="2.22" height="0.75" fill="#0072BD"/>
<rect x="87.37" y="388.15" width="2.22" height="0.75" fill="#D95319"/>
<rect x="87.37" y="386.80" width="2.22" height="0.75" fill="#EDB120"/>
<rect x="87.37" y="385.44" width="2.22" height="0.75" fill="#7E2F8E"/>
<rect x="87.37" y="384.09" width="2.22" height="0.75" fill="#77AC30"/>
<rect x="87.37" y="382.74" width="2.22" height="0.75" fill="#4DBEEE"/>
<rect x="87.37" y="381.39" width="2.22" height="0.75" fill="#A2142F"/>
<rect x="87.37" y="380.04" width="2.22" height="0.75" fill="#0072BD"/>
<rect x="87.37" y="378.68" width="2.22" height="0.75" fill="#D95319"/>
<rect x="87.37" y="377.33" width="2.22" height="0.75" fill="#EDB120"/>
<rect x="87.37" y="375.98" width="2.22" height="0.75" fill="#7E2F8E"/>
<rect x="87.37" y="374.63" width="2.22" height="0.75" fill="#77AC30"/>
<rect x="90.35" y="373.93" width="3.82" height="26.49" fill="#000"/>
<rect x="91.15" y="398.96" width="2.22" height="0.75" fill="#0072BD"/>
<rect x="91.15" y="397.61" width="2.22" height="0.75" fill="#D95319"/>
<rect x="91.15" y="396.26" width="2.22" height="0.75" fill="#EDB120"/>
<rect x="91.15" y="394.91" width="2.22" height="0.75" fill="#7E2F8E"/>
<rect x="91.15" y="393.56" width="2.22" height="0.75" fill="#77AC30"/>
<rect x="91.15" y="392.20" width="2.22" height="0.75" fill="#4DBEEE"/>
<rect x="91.15" y="390.85" width="2.22" height="0.75" fill="#A2142F"/>
<rect x="91.15" y="389.50" width="2.22" height="0.75" fill="#0072BD"/>
<rect x="91.15" y="388.15" width="2.22" height="0.75" fill="#D95319"/>
<rect x="91.15" y="386.80" width="2.22" height="0.75" fill="#EDB120"/>
<rect x="91.15" y="385.44" width="2.22" height="0.75" fill="#7E2F8E"/>
<rect x="91.15" y="384.09" width="2.22" height="0.75" fill="#77AC30"/>
<rect x="91.15" y="382.74" width="2.22" height="0.75" fill="#4DBEEE"/>
<rect x="91.15" y="381.39" width="2.22" height="0.75" fill="#A2142F"/>
<rect x="91.15" y="380.04" width="2.22" height="0.75" fill="#0072BD"/>
<rect x="91.15" y="378.68" width="2.22" height="0.75" fill="#D95319"/>
<rect x="91.15" y="377.33" width="2.22" height="0.75" fill="#EDB120"/>
<rect x="91.15" y="375.98" width="2.22" height="0.75" fill="#7E2F8E"/>
<rect x="91.15" y="374.63" width="2.22" height="0.75" fill="#77AC30"/>
<rect x="94.14" y="373.93" width="3.82" height="26.49" fill="#000"/>
<rect x="94.94" y="398.96" width="2.22" height="0.75" fill="#0072BD"/>
<rect x="94.94" y="397.61" width="2.22" height="0.75" fill="#D95319"/>
<rect x="94.94" y="396.26" width="2.22" height="0.75" fill="#EDB120"/>
<rect x="94.94" y="394.91" width="2.22" height="0.75" fill="#7E2F8E"/>
<rect x="94.94" y="393.56" width="2.22" height="0.75" fill="#77AC30"/>
<rect x="94.94" y="392.20" width="2.22" height="0.75" fill="#4DBEEE"/>
<rect x="94.94" y="390.85" width="2.22" height="0.75" fill="#A2142F"/>
<rect x="94.94" y="389.50" width="2.22" height="0.75" fill="#0072BD"/>
<rect x="94.94" y="388.15" width="2.22" height="0.75" fill="#D95319"/>
<rect x="94.94" y="386.80" width="2.22" height="0.75" fill="#EDB120"/>
<rect x="94.94" y="385.44" width="2.22" height="0.75" fill="#7E2F8E"/>
<rect x="94.94" y="384.09" width="2.22" height="0.75" fill="#77AC30"/>
<rect x="94.94" y="382.74" width="2.22" height="0.75" fill="#4DBEEE"/>
<rect x="94.94" y="381.39" width="2.22" height="0.75" fill="#A2142F"/>
<rect x="94.94" y="380.04" width="2.22" height="0.75" fill="#0072BD"/>
<rect x="94.94" y="378.68" width="2.22" height="0.75" fill="#D95319"/>
<rect x="94.94" y="377.33" width="2.22" height="0.75" fill="#EDB120"/>
<rect x="94.94" y="375.98" width="2.22" height="0.75" fill="#7E2F8E"/>
<rect x="94.94" y="374.63" width="2.22" height="0.75" fill="#77AC30"/>
<rect x="97.92" y="372.71" width="3.82" height="26.22" fill="#000"/>
<rect x="98.72" y="397.49" width="2.22" height="0.74" fill="#0072BD"/>
<rect x="98.72" y="396.15" width="2.22" height="0.74" fill="#D95319"/>
<rect x="98.72" y="394.82" width="2.22" height="0.74" fill="#EDB120"/>
<rect x="98.72" y="393.48" width="2.22" height="0.74" fill="#7E2F8E"/>
<rect x="98.72" y="392.14" width="2.22" height="0.74" fill="#77AC30"/>
<rect x="98.72" y="390.80" width="2.22" height="0.74" fill="#4DBEEE"/>
<rect x="98.72" y="389.47" width="2.22" height="0.74" fill="#A2142F"/>
<rect x="98.72" y="388.13" width="2.22" height="0.74" fill="#0072BD"/>
<rect x="98.72" y="386.79" width="2.22" height="0.74" fill="#D95319"/>
<rect x="98.72" y="385.45" width="2.22" height="0.74" fill="#EDB120"/>
<rect x="98.72" y="384.11" width="2.22" height="0.74" fill="#7E2F8E"/>
<rect x="98.72" y="382.78" width="2.22" height="0.74" fill="#77AC30"/>
<rect x="98.72" y="381.44" width="2.22" height="0.74" fill="#4DBEEE"/>
<rect x="98.72" y="380.10" width="2.22" height="0.74" fill="#A2142F"/>
<rect x="98.72" y="378.76" width="2.22" height="0.74" fill="#0072BD"/>
<rect x="98.72" y="377.43" width="2.22" height="0.74" fill="#D95319"/>
<rect x="98.72" y="376.09" width="2.22" height="0.74" fill="#EDB120"/>
<rect x="98.72" y="374.75" width="2.22" height="0.74" fill="#7E2F8E"/>
<rect x="98.72" y="373.41" width="2.22" height="0.74" fill="#77AC30"/>
<rect x="101.70" y="372.71" width="3.82" height="26.22" fill="#000"/>
<rect x="102.50" y="397.49" width="2.22" height="0.74" fill="#0072BD"/>
<rect x="102.50" y="396.15" width="2.22" height="0.74" fill="#D95319"/>
<rect x="102.50" y="394.82" width="2.22" height="0.74" fill="#EDB120"/>
<rect x="102.50" y="393.48" width="2.22" height="0.74" fill="#7E2F8E"/>
<rect x="102.50" y="392.14" width="2.22" height="0.74" fill="#77AC30"/>
<rect x="102.50" y="390.80" width="2.22" height="0.74" fill="#4DBEEE"/>
<rect x="102.50" y="389.47" width="2.22" height="0.74" fill="#A2142F"/>
<rect x="102.50" y="388.13" width="2.22" height="0.74" fill="#0072BD"/>
<rect x="102.50" y="386.79" width="2.22" height="0.74" fill="#D95319"/>
<rect x="102.50" y="385.45" width="2.22" height="0.74" fill="#EDB120"/>
<rect x="102.50" y="384.11" width="2.22" height="0.74" fill="#7E2F8E"/>
<rect x="102.50" y="382.78" width="2.22" height="0.74" fill="#77AC30"/>
<rect x="102.50" y="381.44" width="2.22" height="0.74" fill="#4DBEEE"/>
<rect x="102.50" y="380.10" width="2.22" height="0.74" fill="#A2142F"/>
<rect x="102.50" y="378.76" width="2.22" height="0.74" fill="#0072BD"/>
<rect x="102.50" y="377.43" width="2.22" height="0.74" fill="#D95319"/>
<rect x="102.50" y="376.09" width="2.22" height="0.74" fill="#EDB120"/>
<rect x="102.50" y="374.75" width="2.22" height="0.74" fill="#7E2F8E"/>
<rect x="102.50" y="373.41" width="2.22" height="0.74" fill="#77AC30"/>
<rect x="105.48" y="372.71" width="3.82" height="26.22" fill="#000"/>
<rect x="106.28" y="397.49" width="2.22" height="0.74" fill="#0072BD"/>
<rect x="106.28" y="396.15" width="2.22" height="0.74" fill="#D95319"/>
<rect x="106.28" y="394.82" width="2.22" height="0.74" fill="#EDB120"/>
<rect x="106.28" y="393.48" width="2.22" height="0.74" fill="#7E2F8E"/>
<rect x="106.28" y="392.14" width="2.22" height="0.74" fill="#77AC30"/>
<rect x="106.28" y="390.80" width="2.22" height="0.74" fill="#4DBEEE"/>
<rect x="106.28" y="389.47" width="2.22" height="0.74" fill="#A2142F"/>
<rect x="106.28" y="388.13" width="2.22" height="0.74" fill="#0072BD"/>
<rect x="106.28" y="386.79" width="2.22" height="0.74" fill="#D95319"/>
<rect x="106.28" y="385.45" width="2.22" height="0.74" fill="#EDB120"/>
<rect x="106.28" y="384.11" width="2.22" height="0.74" fill="#7E2F8E"/>
<rect x="106.28" y="382.78" width="2.22" height="0.74" fill="#77AC30"/>
<rect x="106.28" y="381.44" width="2.22" height="0.74" fill="#4DBEEE"/>
<rect x="106.28" y="380.10" width="2.22" height="0.74" fill="#A2142F"/>
<rect x="106.28" y="378.76" width="2.22" height="0.74" fill="#0072BD"/>
<rect x="106.28" y="377.43" width="2.22" height="0.74" fill="#D95319"/>
<rect x="106.28" y="376.09" width="2.22" height="0.74" fill="#EDB120"/>
<rect x="106.28" y="374.75" width="2.22" height="0.74" fill="#7E2F8E"/>
<rect x="106.28" y="373.41" width="2.22" height="0.74" fill="#77AC30"/>
<rect x="109.26" y="372.71" width="3.82" height="26.22" fill="#000"/>
<rect x="110.06" y="397.49" width="2.22" height="0.74" fill="#0072BD"/>
<rect x="110.06" y="396.15" width="2.22" height="0.74" fill="#D95319"/>
<rect x="110.06" y="394.82" width="2.22" height="0.74" fill="#EDB120"/>
<rect x="110.06" y="393.48" width="2.22" height="0.74" fill="#7E2F8E"/>
<rect x="110.06" y="392.14" width="2.22" height="0.74" fill="#77AC30"/>
<rect x="110.06" y="390.80" width="2.22" height="0.74" fill="#4DBEEE"/>
<rect x="110.06" y="389.47" width="2.22" height="0.74" fill="#A2142F"/>
<rect x="110.06" y="388.13" width="2.22" height="0.74" fill="#0072BD"/>
<rect x="110.06" y="386.79" width="2.22" height="0.74" fill="#D95319"/>
<rect x="110.06" y="385.45" width="2.22" height="0.74" fill="#EDB120"/>
<rect x="110.06" y="384.11" width="2.22" height="0.74" fill="#7E2F8E"/>
<rect x="110.06" y="382.78" width="2.22" height="0.74" fill="#77AC30"/>
<rect x="110.06" y="381.44" width="2.22" height="0.74" fill="#4DBEEE"/>
<rect x="110.06" y="380.10" width="2.22" height="0.74" fill="#A2142F"/>
<rect x="110.06" y="378.76" width="2.22" height="0.74" fill="#0072BD"/>
<rect x="110.06" y="377.43" width="2.22" height="0.74" fill="#D95319"/>
<rect x="110.06" y="376.09" width="2.22" height="0.74" fill="#EDB120"/>
<rect x="110.06" y="374.75" width="2.22" height="0.74" fill="#7E2F8E"/>
<rect x="110.06" y="373.41" width="2.22" height="0.74" fill="#77AC30"/>
<rect x="113.04" y="377.71" width="3.82" height="26.49" fill="#000"/>
<rect x="113.84" y="402.75" width="2.22" height="0.75" fill="#0072BD"/>
<rect x="113.84" y="401.40" width="2.22" height="0.75" fill="#D95319"/>
<rect x="113.84" y="400.05" width="2.22" height="0.75" fill="#EDB120"/>
<rect x="113.84" y="398.69" width="2.22" height="0.75" fill="#7E2F8E"/>
<rect x="113.84" y="397.34" width="2.22" height="0.75" fill="#77AC30"/>
<rect x="113.84" y="395.99" width="2.22" height="0.75" fill="#4DBEEE"/>
<rect x="113.84" y="394.64" width="2.22" height="0.75" fill="#A2142F"/>
<rect x="113.84" y="393.29" width="2.22" height="0.75" fill="#0072BD"/>
<rect x="113.84" y="391.93" width="2.22" height="0.75" fill="#D95319"/>
<rect x="113.84" y="390.58" width="2.22" height="0.75" fill="#EDB120"/>
<rect x="113.84" y="389.23" width="2.22" height="0.75" fill="#7E2F8E"/>
<rect x="113.84" y="387.88" width="2.22" height="0.75" fill="#77AC30"/>
<rect x="113.84" y="386.53" width="2.22" height="0.75" fill="#4DBEEE"/>
<rect x="113.84" y="385.17" width="2.22" height="0.75" fill="#A2142F"/>
<rect x="113.84" y="383.82" width="2.22" height="0.75" fill="#0072BD"/>
<rect x="113.84" y="382.47" width="2.22" height="0.75" fill="#D95319"/>
<rect x="113.84" y="381.12" width="2.22" height="0.75" fill="#EDB120"/>
<rect x="113.84" y="379.77" width="2.22" height="0.75" fill="#7E2F8E"/>
<rect x="113.84" y="378.41" width="2.22" height="0.75" fill="#77AC30"/>
<rect x="116.82" y="379.61" width="3.82" height="26.35" fill="#000"/>
<rect x="117.62" y="404.52" width="2.22" height="0.74" fill="#0072BD"/>
<rect x="117.62" y="403.17" width="2.22" height="0.74" fill="#D95319"/>
<rect x="117.62" y="401.83" width="2.22" height="0.74" fill="#EDB120"/>
<rect x="117.62" y="400.48" width="2.22" height="0.74" fill="#7E2F8E"/>
<rect x="117.62" y="399.14" width="2.22" height="0.74" fill="#77AC30"/>
<rect x="117.62" y="397.79" width="2.22" height="0.74" fill="#4DBEEE"/>
<rect x="117.62" y="396.45" width="2.22" height="0.74" fill="#A2142F"/>
<rect x="117.62" y="395.10" width="2.22" height="0.74" fill="#0072BD"/>
<rect x="117.62" y="393.76" width="2.22" height="0.74" fill="#D95319"/>
<rect x="117.62" y="392.41" width="2.22" height="0.74" fill="#EDB120"/>
<rect x="117.62" y="391.07" width="2.22" height="0.74" fill="#7E2F8E"/>
<rect x="117.62" y="389.72" width="2.22" height="0.74" fill="#77AC30"/>
<rect x="117.62" y="388.38" width="2.22" height="0.74" fill="#4DBEEE"/>
<rect x="117.62" y="387.03" width="2.22" height="0.74" fill="#A2142F"/>
<rect x="117.62" y="385.69" width="2.22" height="0.74" fill="#0072BD"/>
<rect x="117.62" y="384.34" width="2.22" height="0.74" fill="#D95319"/>
<rect x="117.62" y="383.00" width="2.22" height="0.74" fill="#EDB120"/>
<rect x="117.62" y="381.65" width="2.22" height="0.74" fill="#7E2F8E"/>
<rect x="117.62" y="380.31" width="2.22" height="0.74" fill="#77AC30"/>
<rect x="120.60" y="380.82" width="3.82" height="26.49" fill="#000"/>
<rect x="121.40" y="405.86" width="2.22" height="0.75" fill="#0072BD"/>
<rect x="121.40" y="404.51" width="2.22" height="0.75" fill="#D95319"/>
<rect x="121.40" y="403.16" width="2.22" height="0.75" fill="#EDB120"/>
<rect x="121.40" y="401.80" width="2.22" height="0.75" fill="#7E2F8E"/>
<rect x="121.40" y="400.45" width="2.22" height="0.75" fill="#77AC30"/>
<rect x="121.40" y="399.10" width="2.22" height="0.75" fill="#4DBEEE"/>
<rect x="121.40" y="397.75" width="2.22" height="0.75" fill="#A2142F"/>
<rect x="121.40" y="396.40" width="2.22" height="0.75" fill="#0072BD"/>
<rect x="121.40" y="395.04" width="2.22" height="0.75" fill="#D95319"/>
<rect x="121.40" y="393.69" width="2.22" height="0.75" fill="#EDB120"/>
<rect x="121.40" y="392.34" width="2.22" height="0.75" fill="#7E2F8E"/>
<rect x="121.40" y="390.99" width="2.22" height="0.75" fill="#77AC30"/>
<rect x="121.40" y="389.64" width="2.22" height="0.75" fill="#4DBEEE"/>
<rect x="121.40" y="388.28" width="2.22" height="0.75" fill="#A2142F"/>
<rect x="121.40" y="386.93" width="2.22" height="0.75" fill="#0072BD"/>
<rect x="121.40" y="385.58" width="2.22" height="0.75" fill="#D95319"/>
<rect x="121.40" y="384.23" width="2.22" height="0.75" fill="#EDB120"/>
<rect x="121.40" y="382.88" width="2.22" height="0.75" fill="#7E2F8E"/>
<rect x="121.40" y="381.52" width="2.22" height="0.75" fill="#77AC30"/>
<rect x="124.38" y="380.82" width="3.82" height="26.49" fill="#000"/>
<rect x="125.18" y="405.86" width="2.22" height="0.75" fill="#0072BD"/>
<rect x="125.18" y="404.51" width="2.22" height="0.75" fill="#D95319"/>
<rect x="125.18" y="403.16" width="2.22" height="0.75" fill="#EDB120"/>
<rect x="125.18" y="401.80" width="2.22" height="0.75" fill="#7E2F8E"/>
<rect x="125.18" y="400.45" width="2.22" height="0.75" fill="#77AC30"/>
<rect x="125.18" y="399.10" width="2.22" height="0.75" fill="#4DBEEE"/>
<rect x="125.18" y="397.75" width="2.22" height="0.75" fill="#A2142F"/>
<rect x="125.18" y="396.40" width="2.22" height="0.75" fill="#0072BD"/>
<rect x="125.18" y="395.04" width="2.22" height="0.75" fill="#D95319"/>
<rect x="125.18" y="393.69" width="2.22" height="0.75" fill="#EDB120"/>
<rect x="125.18" y="392.34" width="2.22" height="0.75" fill="#7E2F8E"/>
<rect x="125.18" y="390.99" width="2.22" height="0.75" fill="#77AC30"/>
<rect x="125.18" y="389.64" width="2.22" height="0.75" fill="#4DBEEE"/>
<rect x="125.18" y="388.28" width="2.22" height="0.75" fill="#A2142F"/>
<rect x="125.18" y="386.93" width="2.22" height="0.75" fill="#0072BD"/>
<rect x="125.18" y="385.58" width="2.22" height="0.75" fill="#D95319"/>
<rect x="125.18" y="384.23" width="2.22" height="0.75" fill="#EDB120"/>
<rect x="125.18" y="382.88" width="2.22" height="0.75" fill="#7E2F8E"/>
<rect x="125.18" y="381.52" width="2.22" height="0.75" fill="#77AC30"/>
<rect x="128.16" y="381.50" width="3.82" height="26.35" fill="#000"/>
<rect x="128.96" y="406.41" width="2.22" height="0.74" fill="#0072BD"/>
<rect x="128.96" y="405.06" width="2.22" height="0.74" fill="#D95319"/>
<rect x="128.96" y="403.72" width="2.22" height="0.74" fill="#EDB120"/>
<rect x="128.96" y="402.37" width="2.22" height="0.74" fill="#7E2F8E"/>
<rect x="128.96" y="401.03" width="2.22" height="0.74" fill="#77AC30"/>
<rect x="128.96" y="399.68" width="2.22" height="0.74" fill="#4DBEEE"/>
<rect x="128.96" y="398.34" width="2.22" height="0.74" fill="#A2142F"/>
<rect x="128.96" y="396.99" width="2.22" height="0.74" fill="#0072BD"/>
<rect x="128.96" y="395.65" width="2.22" height="0.74" fill="#D95319"/>
<rect x="128.96" y="394.30" width="2.22" height="0.74" fill="#EDB120"/>
<rect x="128.96" y="392.96" width="2.22" height="0.74" fill="#7E2F8E"/>
<rect x="128.96" y="391.61" width="2.22" height="0.74" fill="#77AC30"/>
<rect x="128.96" y="390.27" width="2.22" height="0.74" fill="#4DBEEE"/>
<rect x="128.96" y="388.92" width="2.22" height="0.74" fill="#A2142F"/>
<rect x="128.96" y="387.58" width="2.22" height="0.74" fill="#0072BD"/>
<rect x="128.96" y="386.23" width="2.22" height="0.74" fill="#D95319"/>
<rect x="128.96" y="384.89" width="2.22" height="0.74" fill="#EDB120"/>
<rect x="128.96" y="383.54" width="2.22" height="0.74" fill="#7E2F8E"/>
<rect x="128.96" y="382.20" width="2.22" height="0.74" fill="#77AC30"/>
<rect x="131.94" y="381.91" width="3.82" height="25.95" fill="#000"/>
<rect x="132.74" y="406.43" width="2.22" height="0.72" fill="#0072BD"/>
<rect x="132.74" y="405.11" width="2.22" height="0.72" fill="#D95319"/>
<rect x="132.74" y="403.78" width="2.22" height="0.72" fill="#EDB120"/>
<rect x="132.74" y="402.46" width="2.22" height="0.72" fill="#7E2F8E"/>
<rect x="132.74" y="401.14" width="2.22" height="0.72" fill="#77AC30"/>
<rect x="132.74" y="399.81" width="2.22" height="0.72" fill="#4DBEEE"/>
<rect x="132.74" y="398.49" width="2.22" height="0.72" fill="#A2142F"/>
<rect x="132.74" y="397.16" width="2.22" height="0.72" fill="#0072BD"/>
<rect x="132.74" y="395.84" width="2.22" height="0.72" fill="#D95319"/>
<rect x="132.74" y="394.52" width="2.22" height="0.72" fill="#EDB120"/>
<rect x="132.74" y="393.19" width="2.22" height="0.72" fill="#7E2F8E"/>
<rect x="132.74" y="391.87" width="2.22" height="0.72" fill="#77AC30"/>
<rect x="132.74" y="390.55" width="2.22" height="0.72" fill="#4DBEEE"/>
<rect x="132.74" y="389.22" width="2.22" height="0.72" fill="#A2142F"/>
<rect x="132.74" y="387.90" width="2.22" height="0.72" fill="#0072BD"/>
<rect x="132.74" y="386.58" width="2.22" height="0.72" fill="#D95319"/>
<rect x="132.74" y="385.25" width="2.22" height="0.72" fill="#EDB120"/>
<rect x="132.74" y="383.93" width="2.22" height="0.72" fill="#7E2F8E"/>
<rect x="132.74" y="382.61" width="2.22" height="0.72" fill="#77AC30"/>
<rect x="135.72" y="380.82" width="3.82" height="27.03" fill="#000"/>
<rect x="136.52" y="406.37" width="2.22" height="0.78" fill="#0072BD"/>
<rect x="136.52" y="404.99" width="2.22" height="0.78" fill="#D95319"/>
<rect x="136.52" y="403.61" width="2.22" height="0.78" fill="#EDB120"/>
<rect x="136.52" y="402.23" width="2.22" height="0.78" fill="#7E2F8E"/>
<rect x="136.52" y="400.85" width="2.22" height="0.78" fill="#77AC30"/>
<rect x="136.52" y="399.47" width="2.22" height="0.78" fill="#4DBEEE"/>
<rect x="136.52" y="398.09" width="2.22" height="0.78" fill="#A2142F"/>
<rect x="136.52" y="396.71" width="2.22" height="0.78" fill="#0072BD"/>
<rect x="136.52" y="395.33" width="2.22" height="0.78" fill="#D95319"/>
<rect x="136.52" y="393.95" width="2.22" height="0.78" fill="#EDB120"/>
<rect x="136.52" y="392.57" width="2.22" height="0.78" fill="#7E2F8E"/>
<rect x="136.52" y="391.19" width="2.22" height="0.78" fill="#77AC30"/>
<rect x="136.52" y="389.81" width="2.22" height="0.78" fill="#4DBEEE"/>
<rect x="136.52" y="388.43" width="2.22" height="0.78" fill="#A2142F"/>
<rect x="136.52" y="387.05" width="2.22" height="0.78" fill="#0072BD"/>
<rect x="136.52" y="385.67" width="2.22" height="0.78" fill="#D95319"/>
<rect x="136.52" y="384.28" width="2.22" height="0.78" fill="#EDB120"/>
<rect x="136.52" y="382.90" width="2.22" height="0.78" fill="#7E2F8E"/>
<rect x="136.52" y="381.52" width="2.22" height="0.78" fill="#77AC30"/>
<rect x="139.50" y="380.82" width="3.82" height="26.49" fill="#000"/>
<rect x="140.30" y="405.86" width="2.22" height="0.75" fill="#0072BD"/>
<rect x="140.30" y="404.51" width="2.22" height="0.75" fill="#D95319"/>
<rect x="140.30" y="403.16" width="2.22" height="0.75" fill="#EDB120"/>
<rect x="140.30" y="401.80" width="2.22" height="0.75" fill="#7E2F8E"/>
<rect x="140.30" y="400.45" width="2.22" height="0.75" fill="#77AC30"/>
<rect x="140.30" y="399.10" width="2.22" height="0.75" fill="#4DBEEE"/>
<rect x="140.30" y="397.75" width="2.22" height="0.75" fill="#A2142F"/>
<rect x="140.30" y="396.40" width="2.22" height="0.75" fill="#0072BD"/>
<rect x="140.30" y="395.04" width="2.22" height="0.75" fill="#D95319"/>
<rect x="140.30" y="393.69" width="2.22" height="0.75" fill="#EDB120"/>
<rect x="140.30" y="392.34" width="2.22" height="0.75" fill="#7E2F8E"/>
<rect x="140.30" y="390.99" width="2.22" height="0.75" fill="#77AC30"/>
<rect x="140.30" y="389.64" width="2.22" height="0.75" fill="#4DBEEE"/>
<rect x="140.30" y="388.28" width="2.22" height="0.75" fill="#A2142F"/>
<rect x="140.30" y="386.93" width="2.22" height="0.75" fill="#0072BD"/>
<rect x="140.30" y="385.58" width="2.22" height="0.75" fill="#D95319"/>
<rect x="140.30" y="384.23" width="2.22" height="0.75" fill="#EDB120"/>
<rect x="140.30" y="382.88" width="2.22" height="0.75" fill="#7E2F8E"/>
<rect x="140.30" y="381.52" width="2.22" height="0.75" fill="#77AC30"/>
<rect x="143.28" y="377.71" width="3.82" height="27.03" fill="#000"/>
<rect x="144.08" y="403.26" width="2.22" height="0.78" fill="#0072BD"/>
<rect x="144.08" y="401.88" width="2.22" height="0.78" fill="#D95319"/>
<rect x="144.08" y="400.50" width="2.22" height="0.78" fill="#EDB120"/>
<rect x="144.08" y="399.12" width="2.22" height="0.78" fill="#7E2F8E"/>
<rect x="144.08" y="397.74" width="2.22" height="0.78" fill="#77AC30"/>
<rect x="144.08" y="396.36" width="2.22" height="0.78" fill="#4DBEEE"/>
<rect x="144.08" y="394.98" width="2.22" height="0.78" fill="#A2142F"/>
<rect x="144.08" y="393.60" width="2.22" height="0.78" fill="#0072BD"/>
<rect x="144.08" y="392.22" width="2.22" height="0.78" fill="#D95319"/>
<rect x="144.08" y="390.84" width="2.22" height="0.78" fill="#EDB120"/>
<rect x="144.08" y="389.46" width="2.22" height="0.78" fill="#7E2F8E"/>
<rect x="144.08" y="388.08" width="2.22" height="0.78" fill="#77AC30"/>
<rect x="144.08" y="386.70" width="2.22" height="0.78" fill="#4DBEEE"/>
<rect x="144.08" y="385.32" width="2.22" height="0.78" fill="#A2142F"/>
<rect x="144.08" y="383.94" width="2.22" height="0.78" fill="#0072BD"/>
<rect x="144.08" y="382.56" width="2.22" height="0.78" fill="#D95319"/>
<rect x="144.08" y="381.18" width="2.22" height="0.78" fill="#EDB120"/>
<rect x="144.08" y="379.79" width="2.22" height="0.78" fill="#7E2F8E"/>
<rect x="144.08" y="378.41" width="2.22" height="0.78" fill="#77AC30"/>
<rect x="147.06" y="388.40" width="3.82" height="23.92" fill="#000"/>
<rect x="147.86" y="410.85" width="2.22" height="0.76" fill="#0072BD"/>
<rect x="147.86" y="409.49" width="2.22" height="0.76" fill="#D95319"/>
<rect x="147.86" y="408.13" width="2.22" height="0.76" fill="#EDB120"/>
<rect x="147.86" y="406.77" width="2.22" height="0.76" fill="#7E2F8E"/>
<rect x="147.86" y="405.41" width="2.22" height="0.76" fill="#77AC30"/>
<rect x="147.86" y="404.05" width="2.22" height="0.76" fill="#4DBEEE"/>
<rect x="147.86" y="402.69" width="2.22" height="0.76" fill="#A2142F"/>
<rect x="147.86" y="401.33" width="2.22" height="0.76" fill="#0072BD"/>
<rect x="147.86" y="399.97" width="2.22" height="0.76" fill="#D95319"/>
<rect x="147.86" y="398.61" width="2.22" height="0.76" fill="#EDB120"/>
<rect x="147.86" y="397.25" width="2.22" height="0.76" fill="#7E2F8E"/>
<rect x="147.86" y="395.89" width="2.22" height="0.76" fill="#77AC30"/>
<rect x="147.86" y="394.54" width="2.22" height="0.76" fill="#4DBEEE"/>
<rect x="147.86" y="393.18" width="2.22" height="0.76" fill="#A2142F"/>
<rect x="147.86" y="391.82" width="2.22" height="0.76" fill="#0072BD"/>
<rect x="147.86" y="390.46" width="2.22" height="0.76" fill="#D95319"/>
<rect x="147.86" y="389.10" width="2.22" height="0.76" fill="#EDB120"/>
<rect x="150.84" y="383.93" width="3.82" height="25.27" fill="#000"/>
<rect x="151.64" y="407.75" width="2.22" height="0.76" fill="#0072BD"/>
<rect x="151.64" y="406.39" width="2.22" height="0.76" fill="#D95319"/>
<rect x="151.64" y="405.03" width="2.22" height="0.76" fill="#EDB120"/>
<rect x="151.64" y="403.67" width="2.22" height="0.76" fill="#7E2F8E"/>
<rect x="151.64" y="402.31" width="2.22" height="0.76" fill="#77AC30"/>
<rect x="151.64" y="400.95" width="2.22" height="0.76" fill="#4DBEEE"/>
<rect x="151.64" y="399.59" width="2.22" height="0.76" fill="#A2142F"/>
<rect x="151.64" y="398.23" width="2.22" height="0.76" fill="#0072BD"/>
<rect x="151.64" y="396.87" width="2.22" height="0.76" fill="#D95319"/>
<rect x="151.64" y="395.51" width="2.22" height="0.76" fill="#EDB120"/>
<rect x="151.64" y="394.15" width="2.22" height="0.76" fill="#7E2F8E"/>
<rect x="151.64" y="392.79" width="2.22" height="0.76" fill="#77AC30"/>
<rect x="151.64" y="391.43" width="2.22" height="0.76" fill="#4DBEEE"/>
<rect x="151.64" y="390.07" width="2.22" height="0.76" fill="#A2142F"/>
<rect x="151.64" y="388.71" width="2.22" height="0.76" fill="#0072BD"/>
<rect x="151.64" y="387.35" width="2.22" height="0.76" fill="#D95319"/>
<rect x="151.64" y="385.99" width="2.22" height="0.76" fill="#EDB120"/>
<rect x="151.64" y="384.63" width="2.22" height="0.76" fill="#7E2F8E"/>
<rect x="154.62" y="381.09" width="3.82" height="25.54" fill="#000"/>
<rect x="155.42" y="405.16" width="2.22" height="0.77" fill="#0072BD"/>
<rect x="155.42" y="403.79" width="2.22" height="0.77" fill="#D95319"/>
<rect x="155.42" y="402.41" width="2.22" height="0.77" fill="#EDB120"/>
<rect x="155.42" y="401.04" width="2.22" height="0.77" fill="#7E2F8E"/>
<rect x="155.42" y="399.66" width="2.22" height="0.77" fill="#77AC30"/>
<rect x="155.42" y="398.29" width="2.22" height="0.77" fill="#4DBEEE"/>
<rect x="155.42" y="396.91" width="2.22" height="0.77" fill="#A2142F"/>
<rect x="155.42" y="395.54" width="2.22" height="0.77" fill="#0072BD"/>
<rect x="155.42" y="394.17" width="2.22" height="0.77" fill="#D95319"/>
<rect x="155.42" y="392.79" width="2.22" height="0.77" fill="#EDB120"/>
<rect x="155.42" y="391.42" width="2.22" height="0.77" fill="#7E2F8E"/>
<rect x="155.42" y="390.04" width="2.22" height="0.77" fill="#77AC30"/>
<rect x="155.42" y="388.67" width="2.22" height="0.77" fill="#4DBEEE"/>
<rect x="155.42" y="387.29" width="2.22" height="0.77" fill="#A2142F"/>
<rect x="155.42" y="385.92" width="2.22" height="0.77" fill="#0072BD"/>
<rect x="155.42" y="384.54" width="2.22" height="0.77" fill="#D95319"/>
<rect x="155.42" y="383.17" width="2.22" height="0.77" fill="#EDB120"/>
<rect x="155.42" y="381.79" width="2.22" height="0.77" fill="#7E2F8E"/>
<rect x="158.40" y="381.09" width="3.82" height="25.54" fill="#000"/>
<rect x="159.20" y="405.16" width="2.22" height="0.77" fill="#0072BD"/>
<rect x="159.20" y="403.79" width="2.22" height="0.77" fill="#D95319"/>
<rect x="159.20" y="402.41" width="2.22" height="0.77" fill="#EDB120"/>
<rect x="159.20" y="401.04" width="2.22" height="0.77" fill="#7E2F8E"/>
<rect x="159.20" y="399.66" width="2.22" height="0.77" fill="#77AC30"/>
<rect x="159.20" y="398.29" width="2.22" height="0.77" fill="#4DBEEE"/>
<rect x="159.20" y="396.91" width="2.22" height="0.77" fill="#A2142F"/>
<rect x="159.20" y="395.54" width="2.22" height="0.77" fill="#0072BD"/>
<rect x="159.20" y="394.17" width="2.22" height="0.77" fill="#D95319"/>
<rect x="159.20" y="392.79" width="2.22" height="0.77" fill="#EDB120"/>
<rect x="159.20" y="391.42" width="2.22" height="0.77" fill="#7E2F8E"/>
<rect x="159.20" y="390.04" width="2.22" height="0.77" fill="#77AC30"/>
<rect x="159.20" y="388.67" width="2.22" height="0.77" fill="#4DBEEE"/>
<rect x="159.20" y="387.29" width="2.22" height="0.77" fill="#A2142F"/>
<rect x="159.20" y="385.92" width="2.22" height="0.77" fill="#0072BD"/>
<rect x="159.20" y="384.54" width="2.22" height="0.77" fill="#D95319"/>
<rect x="159.20" y="383.17" width="2.22" height="0.77" fill="#EDB120"/>
<rect x="159.20" y="381.79" width="2.22" height="0.77" fill="#7E2F8E"/>
<rect x="162.18" y="379.61" width="3.82" height="26.08" fill="#000"/>
<rect x="162.98" y="404.26" width="2.22" height="0.73" fill="#0072BD"/>
<rect x="162.98" y="402.93" width="2.22" height="0.73" fill="#D95319"/>
<rect x="162.98" y="401.60" width="2.22" height="0.73" fill="#EDB120"/>
<rect x="162.98" y="400.27" width="2.22" height="0.73" fill="#7E2F8E"/>
<rect x="162.98" y="398.94" width="2.22" height="0.73" fill="#77AC30"/>
<rect x="162.98" y="397.61" width="2.22" height="0.73" fill="#4DBEEE"/>
<rect x="162.98" y="396.28" width="2.22" height="0.73" fill="#A2142F"/>
<rect x="162.98" y="394.94" width="2.22" height="0.73" fill="#0072BD"/>
<rect x="162.98" y="393.61" width="2.22" height="0.73" fill="#D95319"/>
<rect x="162.98" y="392.28" width="2.22" height="0.73" fill="#EDB120"/>
<rect x="162.98" y="390.95" width="2.22" height="0.73" fill="#7E2F8E"/>
<rect x="162.98" y="389.62" width="2.22" height="0.73" fill="#77AC30"/>
<rect x="162.98" y="388.29" width="2.22" height="0.73" fill="#4DBEEE"/>
<rect x="162.98" y="386.96" width="2.22" height="0.73" fill="#A2142F"/>
<rect x="162.98" y="385.63" width="2.22" height="0.73" fill="#0072BD"/>
<rect x="162.98" y="384.30" width="2.22" height="0.73" fill="#D95319"/>
<rect x="162.98" y="382.97" width="2.22" height="0.73" fill="#EDB120"/>
<rect x="162.98" y="381.64" width="2.22" height="0.73" fill="#7E2F8E"/>
<rect x="162.98" y="380.31" width="2.22" height="0.73" fill="#77AC30"/>
<rect x="165.96" y="379.61" width="3.82" height="26.08" fill="#000"/>
<rect x="166.76" y="404.26" width="2.22" height="0.73" fill="#0072BD"/>
<rect x="166.76" y="402.93" width="2.22" height="0.73" fill="#D95319"/>
<rect x="166.76" y="401.60" width="2.22" height="0.73" fill="#EDB120"/>
<rect x="166.76" y="400.27" width="2.22" height="0.73" fill="#7E2F8E"/>
<rect x="166.76" y="398.94" width="2.22" height="0.73" fill="#77AC30"/>
<rect x="166.76" y="397.61" width="2.22" height="0.73" fill="#4DBEEE"/>
<rect x="166.76" y="396.28" width="2.22" height="0.73" fill="#A2142F"/>
<rect x="166.76" y="394.94" width="2.22" height="0.73" fill="#0072BD"/>
<rect x="166.76" y="393.61" width="2.22" height="0.73" fill="#D95319"/>
<rect x="166.76" y="392.28" width="2.22" height="0.73" fill="#EDB120"/>
<rect x="166.76" y="390.95" width="2.22" height="0.73" fill="#7E2F8E"/>
<rect x="166.76" y="389.62" width="2.22" height="0.73" fill="#77AC30"/>
<rect x="166.76" y="388.29" width="2.22" height="0.73" fill="#4DBEEE"/>
<rect x="166.76" y="386.96" width="2.22" height="0.73" fill="#A2142F"/>
<rect x="166.76" y="385.63" width="2.22" height="0.73" fill="#0072BD"/>
<rect x="166.76" y="384.30" width="2.22" height="0.73" fill="#D95319"/>
<rect x="166.76" y="382.97" width="2.22" height="0.73" fill="#EDB120"/>
<rect x="166.76" y="381.64" width="2.22" height="0.73" fill="#7E2F8E"/>
<rect x="166.76" y="380.31" width="2.22" height="0.73" fill="#77AC30"/>
<rect x="169.74" y="378.93" width="3.82" height="26.49" fill="#000"/>
<rect x="170.54" y="403.97" width="2.22" height="0.75" fill="#0072BD"/>
<rect x="170.54" y="402.62" width="2.22" height="0.75" fill="#D95319"/>
<rect x="170.54" y="401.26" width="2.22" height="0.75" fill="#EDB120"/>
<rect x="170.54" y="399.91" width="2.22" height="0.75" fill="#7E2F8E"/>
<rect x="170.54" y="398.56" width="2.22" height="0.75" fill="#77AC30"/>
<rect x="170.54" y="397.21" width="2.22" height="0.75" fill="#4DBEEE"/>
<rect x="170.54" y="395.86" width="2.22" height="0.75" fill="#A2142F"/>
<rect x="170.54" y="394.50" width="2.22" height="0.75" fill="#0072BD"/>
<rect x="170.54" y="393.15" width="2.22" height="0.75" fill="#D95319"/>
<rect x="170.54" y="391.80" width="2.22" height="0.75" fill="#EDB120"/>
<rect x="170.54" y="390.45" width="2.22" height="0.75" fill="#7E2F8E"/>
<rect x="170.54" y="389.10" width="2.22" height="0.75" fill="#77AC30"/>
<rect x="170.54" y="387.74" width="2.22" height="0.75" fill="#4DBEEE"/>
<rect x="170.54" y="386.39" width="2.22" height="0.75" fill="#A2142F"/>
<rect x="170.54" y="385.04" width="2.22" height="0.75" fill="#0072BD"/>
<rect x="170.54" y="383.69" width="2.22" height="0.75" fill="#D95319"/>
<rect x="170.54" y="382.34" width="2.22" height="0.75" fill="#EDB120"/>
<rect x="170.54" y="380.98" width="2.22" height="0.75" fill="#7E2F8E"/>
<rect x="170.54" y="379.63" width="2.22" height="0.75" fill="#77AC30"/>
<rect x="173.52" y="378.26" width="3.82" height="25.95" fill="#000"/>
<rect x="174.32" y="402.78" width="2.22" height="0.72" fill="#0072BD"/>
<rect x="174.32" y="401.46" width="2.22" height="0.72" fill="#D95319"/>
<rect x="174.32" y="400.13" width="2.22" height="0.72" fill="#EDB120"/>
<rect x="174.32" y="398.81" width="2.22" height="0.72" fill="#7E2F8E"/>
<rect x="174.32" y="397.48" width="2.22" height="0.72" fill="#77AC30"/>
<rect x="174.32" y="396.16" width="2.22" height="0.72" fill="#4DBEEE"/>
<rect x="174.32" y="394.84" width="2.22" height="0.72" fill="#A2142F"/>
<rect x="174.32" y="393.51" width="2.22" height="0.72" fill="#0072BD"/>
<rect x="174.32" y="392.19" width="2.22" height="0.72" fill="#D95319"/>
<rect x="174.32" y="390.87" width="2.22" height="0.72" fill="#EDB120"/>
<rect x="174.32" y="389.54" width="2.22" height="0.72" fill="#7E2F8E"/>
<rect x="174.32" y="388.22" width="2.22" height="0.72" fill="#77AC30"/>
<rect x="174.32" y="386.90" width="2.22" height="0.72" fill="#4DBEEE"/>
<rect x="174.32" y="385.57" width="2.22" height="0.72" fill="#A2142F"/>
<rect x="174.32" y="384.25" width="2.22" height="0.72" fill="#0072BD"/>
<rect x="174.32" y="382.93" width="2.22" height="0.72" fill="#D95319"/>
<rect x="174.32" y="381.60" width="2.22" height="0.72" fill="#EDB120"/>
<rect x="174.32" y="380.28" width="2.22" height="0.72" fill="#7E2F8E"/>
<rect x="174.32" y="378.96" width="2.22" height="0.72" fill="#77AC30"/>
<rect x="177.30" y="378.26" width="3.82" height="25.95" fill="#000"/>
<rect x="178.10" y="402.78" width="2.22" height="0.72" fill="#0072BD"/>
<rect x="178.10" y="401.46" width="2.22" height="0.72" fill="#D95319"/>
<rect x="178.10" y="400.13" width="2.22" height="0.72" fill="#EDB120"/>
<rect x="178.10" y="398.81" width="2.22" height="0.72" fill="#7E2F8E"/>
<rect x="178.10" y="397.48" width="2.22" height="0.72" fill="#77AC30"/>
<rect x="178.10" y="396.16" width="2.22" height="0.72" fill="#4DBEEE"/>
<rect x="178.10" y="394.84" width="2.22" height="0.72" fill="#A2142F"/>
<rect x="178.10" y="393.51" width="2.22" height="0.72" fill="#0072BD"/>
<rect x="178.10" y="392.19" width="2.22" height="0.72" fill="#D95319"/>
<rect x="178.10" y="390.87" width="2.22" height="0.72" fill="#EDB120"/>
<rect x="178.10" y="389.54" width="2.22" height="0.72" fill="#7E2F8E"/>
<rect x="178.10" y="388.22" width="2.22" height="0.72" fill="#77AC30"/>
<rect x="178.10" y="386.90" width="2.22" height="0.72" fill="#4DBEEE"/>
<rect x="178.10" y="385.57" width="2.22" height="0.72" fill="#A2142F"/>
<rect x="178.10" y="384.25" width="2.22" height="0.72" fill="#0072BD"/>
<rect x="178.10" y="382.93" width="2.22" height="0.72" fill="#D95319"/>
<rect x="178.10" y="381.60" width="2.22" height="0.72" fill="#EDB120"/>
<rect x="178.10" y="380.28" width="2.22" height="0.72" fill="#7E2F8E"/>
<rect x="178.10" y="378.96" width="2.22" height="0.72" fill="#77AC30"/>
<rect x="181.08" y="377.04" width="3.82" height="25.27" fill="#000"/>
<rect x="181.88" y="400.85" width="2.22" height="0.76" fill="#0072BD"/>
<rect x="181.88" y="399.49" width="2.22" height="0.76" fill="#D95319"/>
<rect x="181.88" y="398.13" width="2.22" height="0.76" fill="#EDB120"/>
<rect x="181.88" y="396.77" width="2.22" height="0.76" fill="#7E2F8E"/>
<rect x="181.88" y="395.41" width="2.22" height="0.76" fill="#77AC30"/>
<rect x="181.88" y="394.05" width="2.22" height="0.76" fill="#4DBEEE"/>
<rect x="181.88" y="392.69" width="2.22" height="0.76" fill="#A2142F"/>
<rect x="181.88" y="391.33" width="2.22" height="0.76" fill="#0072BD"/>
<rect x="181.88" y="389.97" width="2.22" height="0.76" fill="#D95319"/>
<rect x="181.88" y="388.61" width="2.22" height="0.76" fill="#EDB120"/>
<rect x="181.88" y="387.25" width="2.22" height="0.76" fill="#7E2F8E"/>
<rect x="181.88" y="385.90" width="2.22" height="0.76" fill="#77AC30"/>
<rect x="181.88" y="384.54" width="2.22" height="0.76" fill="#4DBEEE"/>
<rect x="181.88" y="383.18" width="2.22" height="0.76" fill="#A2142F"/>
<rect x="181.88" y="381.82" width="2.22" height="0.76" fill="#0072BD"/>
<rect x="181.88" y="380.46" width="2.22" height="0.76" fill="#D95319"/>
<rect x="181.88" y="379.10" width="2.22" height="0.76" fill="#EDB120"/>
<rect x="181.88" y="377.74" width="2.22" height="0.76" fill="#7E2F8E"/>
<rect x="184.87" y="377.71" width="3.82" height="25.14" fill="#000"/>
<rect x="185.67" y="401.40" width="2.22" height="0.75" fill="#0072BD"/>
<rect x="185.67" y="400.05" width="2.22" height="0.75" fill="#D95319"/>
<rect x="185.67" y="398.69" width="2.22" height="0.75" fill="#EDB120"/>
<rect x="185.67" y="397.34" width="2.22" height="0.75" fill="#7E2F8E"/>
<rect x="185.67" y="395.99" width="2.22" height="0.75" fill="#77AC30"/>
<rect x="185.67" y="394.64" width="2.22" height="0.75" fill="#4DBEEE"/>
<rect x="185.67" y="393.29" width="2.22" height="0.75" fill="#A2142F"/>
<rect x="185.67" y="391.93" width="2.22" height="0.75" fill="#0072BD"/>
<rect x="185.67" y="390.58" width="2.22" height="0.75" fill="#D95319"/>
<rect x="185.67" y="389.23" width="2.22" height="0.75" fill="#EDB120"/>
<rect x="185.67" y="387.88" width="2.22" height="0.75" fill="#7E2F8E"/>
<rect x="185.67" y="386.53" width="2.22" height="0.75" fill="#77AC30"/>
<rect x="185.67" y="385.17" width="2.22" height="0.75" fill="#4DBEEE"/>
<rect x="185.67" y="383.82" width="2.22" height="0.75" fill="#A2142F"/>
<rect x="185.67" y="382.47" width="2.22" height="0.75" fill="#0072BD"/>
<rect x="185.67" y="381.12" width="2.22" height="0.75" fill="#D95319"/>
<rect x="185.67" y="379.77" width="2.22" height="0.75" fill="#EDB120"/>
<rect x="185.67" y="378.41" width="2.22" height="0.75" fill="#7E2F8E"/>
<rect x="188.65" y="377.71" width="3.82" height="26.76" fill="#000"/>
<rect x="189.45" y="403.01" width="2.22" height="0.77" fill="#0072BD"/>
<rect x="189.45" y="401.64" width="2.22" height="0.77" fill="#D95319"/>
<rect x="189.45" y="400.27" width="2.22" height="0.77" fill="#EDB120"/>
<rect x="189.45" y="398.91" width="2.22" height="0.77" fill="#7E2F8E"/>
<rect x="189.45" y="397.54" width="2.22" height="0.77" fill="#77AC30"/>
<rect x="189.45" y="396.18" width="2.22" height="0.77" fill="#4DBEEE"/>
<rect x="189.45" y="394.81" width="2.22" height="0.77" fill="#A2142F"/>
<rect x="189.45" y="393.44" width="2.22" height="0.77" fill="#0072BD"/>
<rect x="189.45" y="392.08" width="2.22" height="0.77" fill="#D95319"/>
<rect x="189.45" y="390.71" width="2.22" height="0.77" fill="#EDB120"/>
<rect x="189.45" y="389.34" width="2.22" height="0.77" fill="#7E2F8E"/>
<rect x="189.45" y="387.98" width="2.22" height="0.77" fill="#77AC30"/>
<rect x="189.45" y="386.61" width="2.22" height="0.77" fill="#4DBEEE"/>
<rect x="189.45" y="385.25" width="2.22" height="0.77" fill="#A2142F"/>
<rect x="189.45" y="383.88" width="2.22" height="0.77" fill="#0072BD"/>
<rect x="189.45" y="382.51" width="2.22" height="0.77" fill="#D95319"/>
<rect x="189.45" y="381.15" width="2.22" height="0.77" fill="#EDB120"/>
<rect x="189.45" y="379.78" width="2.22" height="0.77" fill="#7E2F8E"/>
<rect x="189.45" y="378.41" width="2.22" height="0.77" fill="#77AC30"/>
<rect x="192.43" y="373.93" width="3.82" height="27.16" fill="#000"/>
<rect x="193.23" y="399.67" width="2.22" height="0.72" fill="#0072BD"/>
<rect x="193.23" y="398.36" width="2.22" height="0.72" fill="#D95319"/>
<rect x="193.23" y="397.04" width="2.22" height="0.72" fill="#EDB120"/>
<rect x="193.23" y="395.72" width="2.22" height="0.72" fill="#7E2F8E"/>
<rect x="193.23" y="394.40" width="2.22" height="0.72" fill="#77AC30"/>
<rect x="193.23" y="393.08" width="2.22" height="0.72" fill="#4DBEEE"/>
<rect x="193.23" y="391.77" width="2.22" height="0.72" fill="#A2142F"/>
<rect x="193.23" y="390.45" width="2.22" height="0.72" fill="#0072BD"/>
<rect x="193.23" y="389.13" width="2.22" height="0.72" fill="#D95319"/>
<rect x="193.23" y="387.81" width="2.22" height="0.72" fill="#EDB120"/>
<rect x="193.23" y="386.49" width="2.22" height="0.72" fill="#7E2F8E"/>
<rect x="193.23" y="385.17" width="2.22" height="0.72" fill="#77AC30"/>
<rect x="193.23" y="383.86" width="2.22" height="0.72" fill="#4DBEEE"/>
<rect x="193.23" y="382.54" width="2.22" height="0.72" fill="#A2142F"/>
<rect x="193.23" y="381.22" width="2.22" height="0.72" fill="#0072BD"/>
<rect x="193.23" y="379.90" width="2.22" height="0.72" fill="#D95319"/>
<rect x="193.23" y="378.58" width="2.22" height="0.72" fill="#EDB120"/>
<rect x="193.23" y="377.27" width="2.22" height="0.72" fill="#7E2F8E"/>
<rect x="193.23" y="375.95" width="2.22" height="0.72" fill="#77AC30"/>
<rect x="193.23" y="374.63" width="2.22" height="0.72" fill="#4DBEEE"/>
<rect x="196.21" y="376.50" width="3.82" height="26.22" fill="#000"/>
<rect x="197.01" y="401.28" width="2.22" height="0.74" fill="#0072BD"/>
<rect x="197.01" y="399.94" width="2.22" height="0.74" fill="#D95319"/>
<rect x="197.01" y="398.60" width="2.22" height="0.74" fill="#EDB120"/>
<rect x="197.01" y="397.26" width="2.22" height="0.74" fill="#7E2F8E"/>
<rect x="197.01" y="395.93" width="2.22" height="0.74" fill="#77AC30"/>
<rect x="197.01" y="394.59" width="2.22" height="0.74" fill="#4DBEEE"/>
<rect x="197.01" y="393.25" width="2.22" height="0.74" fill="#A2142F"/>
<rect x="197.01" y="391.91" width="2.22" height="0.74" fill="#0072BD"/>
<rect x="197.01" y="390.58" width="2.22" height="0.74" fill="#D95319"/>
<rect x="197.01" y="389.24" width="2.22" height="0.74" fill="#EDB120"/>
<rect x="197.01" y="387.90" width="2.22" height="0.74" fill="#7E2F8E"/>
<rect x="197.01" y="386.56" width="2.22" height="0.74" fill="#77AC30"/>
<rect x="197.01" y="385.22" width="2.22" height="0.74" fill="#4DBEEE"/>
<rect x="197.01" y="383.89" width="2.22" height="0.74" fill="#A2142F"/>
<rect x="197.01" y="382.55" width="2.22" height="0.74" fill="#0072BD"/>
<rect x="197.01" y="381.21" width="2.22" height="0.74" fill="#D95319"/>
<rect x="197.01" y="379.87" width="2.22" height="0.74" fill="#EDB120"/>
<rect x="197.01" y="378.54" width="2.22" height="0.74" fill="#7E2F8E"/>
<rect x="197.01" y="377.20" width="2.22" height="0.74" fill="#77AC30"/>
<rect x="199.99" y="376.50" width="3.82" height="26.22" fill="#000"/>
<rect x="200.79" y="401.28" width="2.22" height="0.74" fill="#0072BD"/>
<rect x="200.79" y="399.94" width="2.22" height="0.74" fill="#D95319"/>
<rect x="200.79" y="398.60" width="2.22" height="0.74" fill="#EDB120"/>
<rect x="200.79" y="397.26" width="2.22" height="0.74" fill="#7E2F8E"/>
<rect x="200.79" y="395.93" width="2.22" height="0.74" fill="#77AC30"/>
<rect x="200.79" y="394.59" width="2.22" height="0.74" fill="#4DBEEE"/>
<rect x="200.79" y="393.25" width="2.22" height="0.74" fill="#A2142F"/>
<rect x="200.79" y="391.91" width="2.22" height="0.74" fill="#0072BD"/>
<rect x="200.79" y="390.58" width="2.22" height="0.74" fill="#D95319"/>
<rect x="200.79" y="389.24" width="2.22" height="0.74" fill="#EDB120"/>
<rect x="200.79" y="387.90" width="2.22" height="0.74" fill="#7E2F8E"/>
<rect x="200.79" y="386.56" width="2.22" height="0.74" fill="#77AC30"/>
<rect x="200.79" y="385.22" width="2.22" height="0.74" fill="#4DBEEE"/>
<rect x="200.79" y="383.89" width="2.22" height="0.74" fill="#A2142F"/>
<rect x="200.79" y="382.55" width="2.22" height="0.74" fill="#0072BD"/>
<rect x="200.79" y="381.21" width="2.22" height="0.74" fill="#D95319"/>
<rect x="200.79" y="379.87" width="2.22" height="0.74" fill="#EDB120"/>
<rect x="200.79" y="378.54" width="2.22" height="0.74" fill="#7E2F8E"/>
<rect x="200.79" y="377.20" width="2.22" height="0.74" fill="#77AC30"/>
<rect x="203.77" y="376.50" width="3.82" height="26.22" fill="#000"/>
<rect x="204.57" y="401.28" width="2.22" height="0.74" fill="#0072BD"/>
<rect x="204.57" y="399.94" width="2.22" height="0.74" fill="#D95319"/>
<rect x="204.57" y="398.60" width="2.22" height="0.74" fill="#EDB120"/>
<rect x="204.57" y="397.26" width="2.22" height="0.74" fill="#7E2F8E"/>
<rect x="204.57" y="395.93" width="2.22" height="0.74" fill="#77AC30"/>
<rect x="204.57" y="394.59" width="2.22" height="0.74" fill="#4DBEEE"/>
<rect x="204.57" y="393.25" width="2.22" height="0.74" fill="#A2142F"/>
<rect x="204.57" y="391.91" width="2.22" height="0.74" fill="#0072BD"/>
<rect x="204.57" y="390.58" width="2.22" height="0.74" fill="#D95319"/>
<rect x="204.57" y="389.24" width="2.22" height="0.74" fill="#EDB120"/>
<rect x="204.57" y="387.90" width="2.22" height="0.74" fill="#7E2F8E"/>
<rect x="204.57" y="386.56" width="2.22" height="0.74" fill="#77AC30"/>
<rect x="204.57" y="385.22" width="2.22" height="0.74" fill="#4DBEEE"/>
<rect x="204.57" y="383.89" width="2.22" height="0.74" fill="#A2142F"/>
<rect x="204.57" y="382.55" width="2.22" height="0.74" fill="#0072BD"/>
<rect x="204.57" y="381.21" width="2.22" height="0.74" fill="#D95319"/>
<rect x="204.57" y="379.87" width="2.22" height="0.74" fill="#EDB120"/>
<rect x="204.57" y="378.54" width="2.22" height="0.74" fill="#7E2F8E"/>
<rect x="204.57" y="377.20" width="2.22" height="0.74" fill="#77AC30"/>
<rect x="207.55" y="376.50" width="3.82" height="26.22" fill="#000"/>
<rect x="208.35" y="401.28" width="2.22" height="0.74" fill="#0072BD"/>
<rect x="208.35" y="399.94" width="2.22" height="0.74" fill="#D95319"/>
<rect x="208.35" y="398.60" width="2.22" height="0.74" fill="#EDB120"/>
<rect x="208.35" y="397.26" width="2.22" height="0.74" fill="#7E2F8E"/>
<rect x="208.35" y="395.93" width="2.22" height="0.74" fill="#77AC30"/>
<rect x="208.35" y="394.59" width="2.22" height="0.74" fill="#4DBEEE"/>
<rect x="208.35" y="393.25" width="2.22" height="0.74" fill="#A2142F"/>
<rect x="208.35" y="391.91" width="2.22" height="0.74" fill="#0072BD"/>
<rect x="208.35" y="390.58" width="2.22" height="0.74" fill="#D95319"/>
<rect x="208.35" y="389.24" width="2.22" height="0.74" fill="#EDB120"/>
<rect x="208.35" y="387.90" width="2.22" height="0.74" fill="#7E2F8E"/>
<rect x="208.35" y="386.56" width="2.22" height="0.74" fill="#77AC30"/>
<rect x="208.35" y="385.22" width="2.22" height="0.74" fill="#4DBEEE"/>
<rect x="208.35" y="383.89" width="2.22" height="0.74" fill="#A2142F"/>
<rect x="208.35" y="382.55" width="2.22" height="0.74" fill="#0072BD"/>
<rect x="208.35" y="381.21" width="2.22" height="0.74" fill="#D95319"/>
<rect x="208.35" y="379.87" width="2.22" height="0.74" fill="#EDB120"/>
<rect x="208.35" y="378.54" width="2.22" height="0.74" fill="#7E2F8E"/>
<rect x="208.35" y="377.20" width="2.22" height="0.74" fill="#77AC30"/>
<rect x="211.33" y="376.50" width="3.82" height="26.22" fill="#000"/>
<rect x="212.13" y="401.28" width="2.22" height="0.74" fill="#0072BD"/>
<rect x="212.13" y="399.94" width="2.22" height="0.74" fill="#D95319"/>
<rect x="212.13" y="398.60" width="2.22" height="0.74" fill="#EDB120"/>
<rect x="212.13" y="397.26" width="2.22" height="0.74" fill="#7E2F8E"/>
<rect x="212.13" y="395.93" width="2.22" height="0.74" fill="#77AC30"/>
<rect x="212.13" y="394.59" width="2.22" height="0.74" fill="#4DBEEE"/>
<rect x="212.13" y="393.25" width="2.22" height="0.74" fill="#A2142F"/>
<rect x="212.13" y="391.91" width="2.22" height="0.74" fill="#0072BD"/>
<rect x="212.13" y="390.58" width="2.22" height="0.74" fill="#D95319"/>
<rect x="212.13" y="389.24" width="2.22" height="0.74" fill="#EDB120"/>
<rect x="212.13" y="387.90" width="2.22" height="0.74" fill="#7E2F8E"/>
<rect x="212.13" y="386.56" width="2.22" height="0.74" fill="#77AC30"/>
<rect x="212.13" y="385.22" width="2.22" height="0.74" fill="#4DBEEE"/>
<rect x="212.13" y="383.89" width="2.22" height="0.74" fill="#A2142F"/>
<rect x="212.13" y="382.55" width="2.22" height="0.74" fill="#0072BD"/>
<rect x="212.13" y="381.21" width="2.22" height="0.74" fill="#D95319"/>
<rect x="212.13" y="379.87" width="2.22" height="0.74" fill="#EDB120"/>
<rect x="212.13" y="378.54" width="2.22" height="0.74" fill="#7E2F8E"/>
<rect x="212.13" y="377.20" width="2.22" height="0.74" fill="#77AC30"/>
<rect x="215.11" y="373.93" width="3.82" height="26.22" fill="#000"/>
<rect x="215.91" y="398.71" width="2.22" height="0.74" fill="#0072BD"/>
<rect x="215.91" y="397.37" width="2.22" height="0.74" fill="#D95319"/>
<rect x="215.91" y="396.03" width="2.22" height="0.74" fill="#EDB120"/>
<rect x="215.91" y="394.70" width="2.22" height="0.74" fill="#7E2F8E"/>
<rect x="215.91" y="393.36" width="2.22" height="0.74" fill="#77AC30"/>
<rect x="215.91" y="392.02" width="2.22" height="0.74" fill="#4DBEEE"/>
<rect x="215.91" y="390.68" width="2.22" height="0.74" fill="#A2142F"/>
<rect x="215.91" y="389.34" width="2.22" height="0.74" fill="#0072BD"/>
<rect x="215.91" y="388.01" width="2.22" height="0.74" fill="#D95319"/>
<rect x="215.91" y="386.67" width="2.22" height="0.74" fill="#EDB120"/>
<rect x="215.91" y="385.33" width="2.22" height="0.74" fill="#7E2F8E"/>
<rect x="215.91" y="383.99" width="2.22" height="0.74" fill="#77AC30"/>
<rect x="215.91" y="382.66" width="2.22" height="0.74" fill="#4DBEEE"/>
<rect x="215.91" y="381.32" width="2.22" height="0.74" fill="#A2142F"/>
<rect x="215.91" y="379.98" width="2.22" height="0.74" fill="#0072BD"/>
<rect x="215.91" y="378.64" width="2.22" height="0.74" fill="#D95319"/>
<rect x="215.91" y="377.30" width="2.22" height="0.74" fill="#EDB120"/>
<rect x="215.91" y="375.97" width="2.22" height="0.74" fill="#7E2F8E"/>
<rect x="215.91" y="374.63" width="2.22" height="0.74" fill="#77AC30"/>
<rect x="218.89" y="373.93" width="3.82" height="26.22" fill="#000"/>
<rect x="219.69" y="398.71" width="2.22" height="0.74" fill="#0072BD"/>
<rect x="219.69" y="397.37" width="2.22" height="0.74" fill="#D95319"/>
<rect x="219.69" y="396.03" width="2.22" height="0.74" fill="#EDB120"/>
<rect x="219.69" y="394.70" width="2.22" height="0.74" fill="#7E2F8E"/>
<rect x="219.69" y="393.36" width="2.22" height="0.74" fill="#77AC30"/>
<rect x="219.69" y="392.02" width="2.22" height="0.74" fill="#4DBEEE"/>
<rect x="219.69" y="390.68" width="2.22" height="0.74" fill="#A2142F"/>
<rect x="219.69" y="389.34" width="2.22" height="0.74" fill="#0072BD"/>
<rect x="219.69" y="388.01" width="2.22" height="0.74" fill="#D95319"/>
<rect x="219.69" y="386.67" width="2.22" height="0.74" fill="#EDB120"/>
<rect x="219.69" y="385.33" width="2.22" height="0.74" fill="#7E2F8E"/>
<rect x="219.69" y="383.99" width="2.22" height="0.74" fill="#77AC30"/>
<rect x="219.69" y="382.66" width="2.22" height="0.74" fill="#4DBEEE"/>
<rect x="219.69" y="381.32" width="2.22" height="0.74" fill="#A2142F"/>
<rect x="219.69" y="379.98" width="2.22" height="0.74" fill="#0072BD"/>
<rect x="219.69" y="378.64" width="2.22" height="0.74" fill="#D95319"/>
<rect x="219.69" y="377.30" width="2.22" height="0.74" fill="#EDB120"/>
<rect x="219.69" y="375.97" width="2.22" height="0.74" fill="#7E2F8E"/>
<rect x="219.69" y="374.63" width="2.22" height="0.74" fill="#77AC30"/>
<rect x="222.67" y="373.93" width="3.82" height="26.22" fill="#000"/>
<rect x="223.47" y="398.71" width="2.22" height="0.74" fill="#0072BD"/>
<rect x="223.47" y="397.37" width="2.22" height="0.74" fill="#D95319"/>
<rect x="223.47" y="396.03" width="2.22" height="0.74" fill="#EDB120"/>
<rect x="223.47" y="394.70" width="2.22" height="0.74" fill="#7E2F8E"/>
<rect x="223.47" y="393.36" width="2.22" height="0.74" fill="#77AC30"/>
<rect x="223.47" y="392.02" width="2.22" height="0.74" fill="#4DBEEE"/>
<rect x="223.47" y="390.68" width="2.22" height="0.74" fill="#A2142F"/>
<rect x="223.47" y="389.34" width="2.22" height="0.74" fill="#0072BD"/>
<rect x="223.47" y="388.01" width="2.22" height="0.74" fill="#D95319"/>
<rect x="223.47" y="386.67" width="2.22" height="0.74" fill="#EDB120"/>
<rect x="223.47" y="385.33" width="2.22" height="0.74" fill="#7E2F8E"/>
<rect x="223.47" y="383.99" width="2.22" height="0.74" fill="#77AC30"/>
<rect x="223.47" y="382.66" width="2.22" height="0.74" fill="#4DBEEE"/>
<rect x="223.47" y="381.32" width="2.22" height="0.74" fill="#A2142F"/>
<rect x="223.47" y="379.98" width="2.22" height="0.74" fill="#0072BD"/>
<rect x="223.47" y="378.64" width="2.22" height="0.74" fill="#D95319"/>
<rect x="223.47" y="377.30" width="2.22" height="0.74" fill="#EDB120"/>
<rect x="223.47" y="375.97" width="2.22" height="0.74" fill="#7E2F8E"/>
<rect x="223.47" y="374.63" width="2.22" height="0.74" fill="#77AC30"/>
<rect x="226.45" y="372.71" width="3.82" height="26.22" fill="#000"/>
<rect x="227.25" y="397.49" width="2.22" height="0.74" fill="#0072BD"/>
<rect x="227.25" y="396.15" width="2.22" height="0.74" fill="#D95319"/>
<rect x="227.25" y="394.82" width="2.22" height="0.74" fill="#EDB120"/>
<rect x="227.25" y="393.48" width="2.22" height="0.74" fill="#7E2F8E"/>
<rect x="227.25" y="392.14" width="2.22" height="0.74" fill="#77AC30"/>
<rect x="227.25" y="390.80" width="2.22" height="0.74" fill="#4DBEEE"/>
<rect x="227.25" y="389.47" width="2.22" height="0.74" fill="#A2142F"/>
<rect x="227.25" y="388.13" width="2.22" height="0.74" fill="#0072BD"/>
<rect x="227.25" y="386.79" width="2.22" height="0.74" fill="#D95319"/>
<rect x="227.25" y="385.45" width="2.22" height="0.74" fill="#EDB120"/>
<rect x="227.25" y="384.11" width="2.22" height="0.74" fill="#7E2F8E"/>
<rect x="227.25" y="382.78" width="2.22" height="0.74" fill="#77AC30"/>
<rect x="227.25" y="381.44" width="2.22" height="0.74" fill="#4DBEEE"/>
<rect x="227.25" y="380.10" width="2.22" height="0.74" fill="#A2142F"/>
<rect x="227.25" y="378.76" width="2.22" height="0.74" fill="#0072BD"/>
<rect x="227.25" y="377.43" width="2.22" height="0.74" fill="#D95319"/>
<rect x="227.25" y="376.09" width="2.22" height="0.74" fill="#EDB120"/>
<rect x="227.25" y="374.75" width="2.22" height="0.74" fill="#7E2F8E"/>
<rect x="227.25" y="373.41" width="2.22" height="0.74" fill="#77AC30"/>
<rect x="230.23" y="372.71" width="3.82" height="26.22" fill="#000"/>
<rect x="231.03" y="397.49" width="2.22" height="0.74" fill="#0072BD"/>
<rect x="231.03" y="396.15" width="2.22" height="0.74" fill="#D95319"/>
<rect x="231.03" y="394.82" width="2.22" height="0.74" fill="#EDB120"/>
<rect x="231.03" y="393.48" width="2.22" height="0.74" fill="#7E2F8E"/>
<rect x="231.03" y="392.14" width="2.22" height="0.74" fill="#77AC30"/>
<rect x="231.03" y="390.80" width="2.22" height="0.74" fill="#4DBEEE"/>
<rect x="231.03" y="389.47" width="2.22" height="0.74" fill="#A2142F"/>
<rect x="231.03" y="388.13" width="2.22" height="0.74" fill="#0072BD"/>
<rect x="231.03" y="386.79" width="2.22" height="0.74" fill="#D95319"/>
<rect x="231.03" y="385.45" width="2.22" height="0.74" fill="#EDB120"/>
<rect x="231.03" y="384.11" width="2.22" height="0.74" fill="#7E2F8E"/>
<rect x="231.03" y="382.78" width="2.22" height="0.74" fill="#77AC30"/>
<rect x="231.03" y="381.44" width="2.22" height="0.74" fill="#4DBEEE"/>
<rect x="231.03" y="380.10" width="2.22" height="0.74" fill="#A2142F"/>
<rect x="231.03" y="378.76" width="2.22" height="0.74" fill="#0072BD"/>
<rect x="231.03" y="377.43" width="2.22" height="0.74" fill="#D95319"/>
<rect x="231.03" y="376.09" width="2.22" height="0.74" fill="#EDB120"/>
<rect x="231.03" y="374.75" width="2.22" height="0.74" fill="#7E2F8E"/>
<rect x="231.03" y="373.41" width="2.22" height="0.74" fill="#77AC30"/>
<rect x="234.01" y="373.93" width="3.82" height="26.49" fill="#000"/>
<rect x="234.81" y="398.96" width="2.22" height="0.75" fill="#0072BD"/>
<rect x="234.81" y="397.61" width="2.22" height="0.75" fill="#D95319"/>
<rect x="234.81" y="396.26" width="2.22" height="0.75" fill="#EDB120"/>
<rect x="234.81" y="394.91" width="2.22" height="0.75" fill="#7E2F8E"/>
<rect x="234.81" y="393.56" width="2.22" height="0.75" fill="#77AC30"/>
<rect x="234.81" y="392.20" width="2.22" height="0.75" fill="#4DBEEE"/>
<rect x="234.81" y="390.85" width="2.22" height="0.75" fill="#A2142F"/>
<rect x="234.81" y="389.50" width="2.22" height="0.75" fill="#0072BD"/>
<rect x="234.81" y="388.15" width="2.22" height="0.75" fill="#D95319"/>
<rect x="234.81" y="386.80" width="2.22" height="0.75" fill="#EDB120"/>
<rect x="234.81" y="385.44" width="2.22" height="0.75" fill="#7E2F8E"/>
<rect x="234.81" y="384.09" width="2.22" height="0.75" fill="#77AC30"/>
<rect x="234.81" y="382.74" width="2.22" height="0.75" fill="#4DBEEE"/>
<rect x="234.81" y="381.39" width="2.22" height="0.75" fill="#A2142F"/>
<rect x="234.81" y="380.04" width="2.22" height="0.75" fill="#0072BD"/>
<rect x="234.81" y="378.68" width="2.22" height="0.75" fill="#D95319"/>
<rect x="234.81" y="377.33" width="2.22" height="0.75" fill="#EDB120"/>
<rect x="234.81" y="375.98" width="2.22" height="0.75" fill="#7E2F8E"/>
<rect x="234.81" y="374.63" width="2.22" height="0.75" fill="#77AC30"/>
<rect x="237.79" y="373.93" width="3.82" height="26.49" fill="#000"/>
<rect x="238.59" y="398.96" width="2.22" height="0.75" fill="#0072BD"/>
<rect x="238.59" y="397.61" width="2.22" height="0.75" fill="#D95319"/>
<rect x="238.59" y="396.26" width="2.22" height="0.75" fill="#EDB120"/>
<rect x="238.59" y="394.91" width="2.22" height="0.75" fill="#7E2F8E"/>
<rect x="238.59" y="393.56" width="2.22" height="0.75" fill="#77AC30"/>
<rect x="238.59" y="392.20" width="2.22" height="0.75" fill="#4DBEEE"/>
<rect x="238.59" y="390.85" width="2.22" height="0.75" fill="#A2142F"/>
<rect x="238.59" y="389.50" width="2.22" height="0.75" fill="#0072BD"/>
<rect x="238.59" y="388.15" width="2.22" height="0.75" fill="#D95319"/>
<rect x="238.59" y="386.80" width="2.22" height="0.75" fill="#EDB120"/>
<rect x="238.59" y="385.44" width="2.22" height="0.75" fill="#7E2F8E"/>
<rect x="238.59" y="384.09" width="2.22" height="0.75" fill="#77AC30"/>
<rect x="238.59" y="382.74" width="2.22" height="0.75" fill="#4DBEEE"/>
<rect x="238.59" y="381.39" width="2.22" height="0.75" fill="#A2142F"/>
<rect x="238.59" y="380.04" width="2.22" height="0.75" fill="#0072BD"/>
<rect x="238.59" y="378.68" width="2.22" height="0.75" fill="#D95319"/>
<rect x="238.59" y="377.33" width="2.22" height="0.75" fill="#EDB120"/>
<rect x="238.59" y="375.98" width="2.22" height="0.75" fill="#7E2F8E"/>
<rect x="238.59" y="374.63" width="2.22" height="0.75" fill="#77AC30"/>
<rect x="241.57" y="373.93" width="3.82" height="26.49" fill="#000"/>
<rect x="242.37" y="398.96" width="2.22" height="0.75" fill="#0072BD"/>
<rect x="242.37" y="397.61" width="2.22" height="0.75" fill="#D95319"/>
<rect x="242.37" y="396.26" width="2.22" height="0.75" fill="#EDB120"/>
<rect x="242.37" y="394.91" width="2.22" height="0.75" fill="#7E2F8E"/>
<rect x="242.37" y="393.56" width="2.22" height="0.75" fill="#77AC30"/>
<rect x="242.37" y="392.20" width="2.22" height="0.75" fill="#4DBEEE"/>
<rect x="242.37" y="390.85" width="2.22" height="0.75" fill="#A2142F"/>
<rect x="242.37" y="389.50" width="2.22" height="0.75" fill="#0072BD"/>
<rect x="242.37" y="388.15" width="2.22" height="0.75" fill="#D95319"/>
<rect x="242.37" y="386.80" width="2.22" height="0.75" fill="#EDB120"/>
<rect x="242.37" y="385.44" width="2.22" height="0.75" fill="#7E2F8E"/>
<rect x="242.37" y="384.09" width="2.22" height="0.75" fill="#77AC30"/>
<rect x="242.37" y="382.74" width="2.22" height="0.75" fill="#4DBEEE"/>
<rect x="242.37" y="381.39" width="2.22" height="0.75" fill="#A2142F"/>
<rect x="242.37" y="380.04" width="2.22" height="0.75" fill="#0072BD"/>
<rect x="242.37" y="378.68" width="2.22" height="0.75" fill="#D95319"/>
<rect x="242.37" y="377.33" width="2.22" height="0.75" fill="#EDB120"/>
<rect x="242.37" y="375.98" width="2.22" height="0.75" fill="#7E2F8E"/>
<rect x="242.37" y="374.63" width="2.22" height="0.75" fill="#77AC30"/>
<rect x="245.35" y="373.93" width="3.82" height="26.49" fill="#000"/>
<rect x="246.15" y="398.96" width="2.22" height="0.75" fill="#0072BD"/>
<rect x="246.15" y="397.61" width="2.22" height="0.75" fill="#D95319"/>
<rect x="246.15" y="396.26" width="2.22" height="0.75" fill="#EDB120"/>
<rect x="246.15" y="394.91" width="2.22" height="0.75" fill="#7E2F8E"/>
<rect x="246.15" y="393.56" width="2.22" height="0.75" fill="#77AC30"/>
<rect x="246.15" y="392.20" width="2.22" height="0.75" fill="#4DBEEE"/>
<rect x="246.15" y="390.85" width="2.22" height="0.75" fill="#A2142F"/>
<rect x="246.15" y="389.50" width="2.22" height="0.75" fill="#0072BD"/>
<rect x="246.15" y="388.15" width="2.22" height="0.75" fill="#D95319"/>
<rect x="246.15" y="386.80" width="2.22" height="0.75" fill="#EDB120"/>
<rect x="246.15" y="385.44" width="2.22" height="0.75" fill="#7E2F8E"/>
<rect x="246.15" y="384.09" width="2.22" height="0.75" fill="#77AC30"/>
<rect x="246.15" y="382.74" width="2.22" height="0.75" fill="#4DBEEE"/>
<rect x="246.15" y="381.39" width="2.22" height="0.75" fill="#A2142F"/>
<rect x="246.15" y="380.04" width="2.22" height="0.75" fill="#0072BD"/>
<rect x="246.15" y="378.68" width="2.22" height="0.75" fill="#D95319"/>
<rect x="246.15" y="377.33" width="2.22" height="0.75" fill="#EDB120"/>
<rect x="246.15" y="375.98" width="2.22" height="0.75" fill="#7E2F8E"/>
<rect x="246.15" y="374.63" width="2.22" height="0.75" fill="#77AC30"/>
<rect x="249.13" y="372.71" width="3.82" height="26.22" fill="#000"/>
<rect x="249.93" y="397.49" width="2.22" height="0.74" fill="#0072BD"/>
<rect x="249.93" y="396.15" width="2.22" height="0.74" fill="#D95319"/>
<rect x="249.93" y="394.82" width="2.22" height="0.74" fill="#EDB120"/>
<rect x="249.93" y="393.48" width="2.22" height="0.74" fill="#7E2F8E"/>
<rect x="249.93" y="392.14" width="2.22" height="0.74" fill="#77AC30"/>
<rect x="249.93" y="390.80" width="2.22" height="0.74" fill="#4DBEEE"/>
<rect x="249.93" y="389.47" width="2.22" height="0.74" fill="#A2142F"/>
<rect x="249.93" y="388.13" width="2.22" height="0.74" fill="#0072BD"/>
<rect x="249.93" y="386.79" width="2.22" height="0.74" fill="#D95319"/>
<rect x="249.93" y="385.45" width="2.22" height="0.74" fill="#EDB120"/>
<rect x="249.93" y="384.11" width="2.22" height="0.74" fill="#7E2F8E"/>
<rect x="249.93" y="382.78" width="2.22" height="0.74" fill="#77AC30"/>
<rect x="249.93" y="381.44" width="2.22" height="0.74" fill="#4DBEEE"/>
<rect x="249.93" y="380.10" width="2.22" height="0.74" fill="#A2142F"/>
<rect x="249.93" y="378.76" width="2.22" height="0.74" fill="#0072BD"/>
<rect x="249.93" y="377.43" width="2.22" height="0.74" fill="#D95319"/>
<rect x="249.93" y="376.09" width="2.22" height="0.74" fill="#EDB120"/>
<rect x="249.93" y="374.75" width="2.22" height="0.74" fill="#7E2F8E"/>
<rect x="249.93" y="373.41" width="2.22" height="0.74" fill="#77AC30"/>
<rect x="252.91" y="372.71" width="3.82" height="26.22" fill="#000"/>
<rect x="253.71" y="397.49" width="2.22" height="0.74" fill="#0072BD"/>
<rect x="253.71" y="396.15" width="2.22" height="0.74" fill="#D95319"/>
<rect x="253.71" y="394.82" width="2.22" height="0.74" fill="#EDB120"/>
<rect x="253.71" y="393.48" width="2.22" height="0.74" fill="#7E2F8E"/>
<rect x="253.71" y="392.14" width="2.22" height="0.74" fill="#77AC30"/>
<rect x="253.71" y="390.80" width="2.22" height="0.74" fill="#4DBEEE"/>
<rect x="253.71" y="389.47" width="2.22" height="0.74" fill="#A2142F"/>
<rect x="253.71" y="388.13" width="2.22" height="0.74" fill="#0072BD"/>
<rect x="253.71" y="386.79" width="2.22" height="0.74" fill="#D95319"/>
<rect x="253.71" y="385.45" width="2.22" height="0.74" fill="#EDB120"/>
<rect x="253.71" y="384.11" width="2.22" height="0.74" fill="#7E2F8E"/>
<rect x="253.71" y="382.78" width="2.22" height="0.74" fill="#77AC30"/>
<rect x="253.71" y="381.44" width="2.22" height="0.74" fill="#4DBEEE"/>
<rect x="253.71" y="380.10" width="2.22" height="0.74" fill="#A2142F"/>
<rect x="253.71" y="378.76" width="2.22" height="0.74" fill="#0072BD"/>
<rect x="253.71" y="377.43" width="2.22" height="0.74" fill="#D95319"/>
<rect x="253.71" y="376.09" width="2.22" height="0.74" fill="#EDB120"/>
<rect x="253.71" y="374.75" width="2.22" height="0.74" fill="#7E2F8E"/>
<rect x="253.71" y="373.41" width="2.22" height="0.74" fill="#77AC30"/>
<rect x="256.69" y="372.71" width="3.82" height="26.22" fill="#000"/>
<rect x="257.49" y="397.49" width="2.22" height="0.74" fill="#0072BD"/>
<rect x="257.49" y="396.15" width="2.22" height="0.74" fill="#D95319"/>
<rect x="257.49" y="394.82" width="2.22" height="0.74" fill="#EDB120"/>
<rect x="257.49" y="393.48" width="2.22" height="0.74" fill="#7E2F8E"/>
<rect x="257.49" y="392.14" width="2.22" height="0.74" fill="#77AC30"/>
<rect x="257.49" y="390.80" width="2.22" height="0.74" fill="#4DBEEE"/>
<rect x="257.49" y="389.47" width="2.22" height="0.74" fill="#A2142F"/>
<rect x="257.49" y="388.13" width="2.22" height="0.74" fill="#0072BD"/>
<rect x="257.49" y="386.79" width="2.22" height="0.74" fill="#D95319"/>
<rect x="257.49" y="385.45" width="2.22" height="0.74" fill="#EDB120"/>
<rect x="257.49" y="384.11" width="2.22" height="0.74" fill="#7E2F8E"/>
<rect x="257.49" y="382.78" width="2.22" height="0.74" fill="#77AC30"/>
<rect x="257.49" y="381.44" width="2.22" height="0.74" fill="#4DBEEE"/>
<rect x="257.49" y="380.10" width="2.22" height="0.74" fill="#A2142F"/>
<rect x="257.49" y="378.76" width="2.22" height="0.74" fill="#0072BD"/>
<rect x="257.49" y="377.43" width="2.22" height="0.74" fill="#D95319"/>
<rect x="257.49" y="376.09" width="2.22" height="0.74" fill="#EDB120"/>
<rect x="257.49" y="374.75" width="2.22" height="0.74" fill="#7E2F8E"/>
<rect x="257.49" y="373.41" width="2.22" height="0.74" fill="#77AC30"/>
<rect x="260.47" y="378.26" width="3.82" height="26.22" fill="#000"/>
<rect x="261.27" y="403.04" width="2.22" height="0.74" fill="#0072BD"/>
<rect x="261.27" y="401.70" width="2.22" height="0.74" fill="#D95319"/>
<rect x="261.27" y="400.36" width="2.22" height="0.74" fill="#EDB120"/>
<rect x="261.27" y="399.02" width="2.22" height="0.74" fill="#7E2F8E"/>
<rect x="261.27" y="397.68" width="2.22" height="0.74" fill="#77AC30"/>
<rect x="261.27" y="396.35" width="2.22" height="0.74" fill="#4DBEEE"/>
<rect x="261.27" y="395.01" width="2.22" height="0.74" fill="#A2142F"/>
<rect x="261.27" y="393.67" width="2.22" height="0.74" fill="#0072BD"/>
<rect x="261.27" y="392.33" width="2.22" height="0.74" fill="#D95319"/>
<rect x="261.27" y="391.00" width="2.22" height="0.74" fill="#EDB120"/>
<rect x="261.27" y="389.66" width="2.22" height="0.74" fill="#7E2F8E"/>
<rect x="261.27" y="388.32" width="2.22" height="0.74" fill="#77AC30"/>
<rect x="261.27" y="386.98" width="2.22" height="0.74" fill="#4DBEEE"/>
<rect x="261.27" y="385.64" width="2.22" height="0.74" fill="#A2142F"/>
<rect x="261.27" y="384.31" width="2.22" height="0.74" fill="#0072BD"/>
<rect x="261.27" y="382.97" width="2.22" height="0.74" fill="#D95319"/>
<rect x="261.27" y="381.63" width="2.22" height="0.74" fill="#EDB120"/>
<rect x="261.27" y="380.29" width="2.22" height="0.74" fill="#7E2F8E"/>
<rect x="261.27" y="378.96" width="2.22" height="0.74" fill="#77AC30"/>
<rect x="264.25" y="378.26" width="3.82" height="26.22" fill="#000"/>
<rect x="265.05" y="403.04" width="2.22" height="0.74" fill="#0072BD"/>
<rect x="265.05" y="401.70" width="2.22" height="0.74" fill="#D95319"/>
<rect x="265.05" y="400.36" width="2.22" height="0.74" fill="#EDB120"/>
<rect x="265.05" y="399.02" width="2.22" height="0.74" fill="#7E2F8E"/>
<rect x="265.05" y="397.68" width="2.22" height="0.74" fill="#77AC30"/>
<rect x="265.05" y="396.35" width="2.22" height="0.74" fill="#4DBEEE"/>
<rect x="265.05" y="395.01" width="2.22" height="0.74" fill="#A2142F"/>
<rect x="265.05" y="393.67" width="2.22" height="0.74" fill="#0072BD"/>
<rect x="265.05" y="392.33" width="2.22" height="0.74" fill="#D95319"/>
<rect x="265.05" y="391.00" width="2.22" height="0.74" fill="#EDB120"/>
<rect x="265.05" y="389.66" width="2.22" height="0.74" fill="#7E2F8E"/>
<rect x="265.05" y="388.32" width="2.22" height="0.74" fill="#77AC30"/>
<rect x="265.05" y="386.98" width="2.22" height="0.74" fill="#4DBEEE"/>
<rect x="265.05" y="385.64" width="2.22" height="0.74" fill="#A2142F"/>
<rect x="265.05" y="384.31" width="2.22" height="0.74" fill="#0072BD"/>
<rect x="265.05" y="382.97" width="2.22" height="0.74" fill="#D95319"/>
<rect x="265.05" y="381.63" width="2.22" height="0.74" fill="#EDB120"/>
<rect x="265.05" y="380.29" width="2.22" height="0.74" fill="#7E2F8E"/>
<rect x="265.05" y="378.96" width="2.22" height="0.74" fill="#77AC30"/>
<rect x="268.03" y="378.93" width="3.82" height="26.49" fill="#000"/>
<rect x="268.83" y="403.97" width="2.22" height="0.75" fill="#0072BD"/>
<rect x="268.83" y="402.62" width="2.22" height="0.75" fill="#D95319"/>
<rect x="268.83" y="401.26" width="2.22" height="0.75" fill="#EDB120"/>
<rect x="268.83" y="399.91" width="2.22" height="0.75" fill="#7E2F8E"/>
<rect x="268.83" y="398.56" width="2.22" height="0.75" fill="#77AC30"/>
<rect x="268.83" y="397.21" width="2.22" height="0.75" fill="#4DBEEE"/>
<rect x="268.83" y="395.86" width="2.22" height="0.75" fill="#A2142F"/>
<rect x="268.83" y="394.50" width="2.22" height="0.75" fill="#0072BD"/>
<rect x="268.83" y="393.15" width="2.22" height="0.75" fill="#D95319"/>
<rect x="268.83" y="391.80" width="2.22" height="0.75" fill="#EDB120"/>
<rect x="268.83" y="390.45" width="2.22" height="0.75" fill="#7E2F8E"/>
<rect x="268.83" y="389.10" width="2.22" height="0.75" fill="#77AC30"/>
<rect x="268.83" y="387.74" width="2.22" height="0.75" fill="#4DBEEE"/>
<rect x="268.83" y="386.39" width="2.22" height="0.75" fill="#A2142F"/>
<rect x="268.83" y="385.04" width="2.22" height="0.75" fill="#0072BD"/>
<rect x="268.83" y="383.69" width="2.22" height="0.75" fill="#D95319"/>
<rect x="268.83" y="382.34" width="2.22" height="0.75" fill="#EDB120"/>
<rect x="268.83" y="380.98" width="2.22" height="0.75" fill="#7E2F8E"/>
<rect x="268.83" y="379.63" width="2.22" height="0.75" fill="#77AC30"/>
<rect x="271.81" y="377.71" width="3.82" height="27.03" fill="#000"/>
<rect x="272.61" y="403.26" width="2.22" height="0.78" fill="#0072BD"/>
<rect x="272.61" y="401.88" width="2.22" height="0.78" fill="#D95319"/>
<rect x="272.61" y="400.50" width="2.22" height="0.78" fill="#EDB120"/>
<rect x="272.61" y="399.12" width="2.22" height="0.78" fill="#7E2F8E"/>
<rect x="272.61" y="397.74" width="2.22" height="0.78" fill="#77AC30"/>
<rect x="272.61" y="396.36" width="2.22" height="0.78" fill="#4DBEEE"/>
<rect x="272.61" y="394.98" width="2.22" height="0.78" fill="#A2142F"/>
<rect x="272.61" y="393.60" width="2.22" height="0.78" fill="#0072BD"/>
<rect x="272.61" y="392.22" width="2.22" height="0.78" fill="#D95319"/>
<rect x="272.61" y="390.84" width="2.22" height="0.78" fill="#EDB120"/>
<rect x="272.61" y="389.46" width="2.22" height="0.78" fill="#7E2F8E"/>
<rect x="272.61" y="388.08" width="2.22" height="0.78" fill="#77AC30"/>
<rect x="272.61" y="386.70" width="2.22" height="0.78" fill="#4DBEEE"/>
<rect x="272.61" y="385.32" width="2.22" height="0.78" fill="#A2142F"/>
<rect x="272.61" y="383.94" width="2.22" height="0.78" fill="#0072BD"/>
<rect x="272.61" y="382.56" width="2.22" height="0.78" fill="#D95319"/>
<rect x="272.61" y="381.18" width="2.22" height="0.78" fill="#EDB120"/>
<rect x="272.61" y="379.79" width="2.22" height="0.78" fill="#7E2F8E"/>
<rect x="272.61" y="378.41" width="2.22" height="0.78" fill="#77AC30"/>
<rect x="275.60" y="373.93" width="3.82" height="26.49" fill="#000"/>
<rect x="276.40" y="398.96" width="2.22" height="0.75" fill="#0072BD"/>
<rect x="276.40" y="397.61" width="2.22" height="0.75" fill="#D95319"/>
<rect x="276.40" y="396.26" width="2.22" height="0.75" fill="#EDB120"/>
<rect x="276.40" y="394.91" width="2.22" height="0.75" fill="#7E2F8E"/>
<rect x="276.40" y="393.56" width="2.22" height="0.75" fill="#77AC30"/>
<rect x="276.40" y="392.20" width="2.22" height="0.75" fill="#4DBEEE"/>
<rect x="276.40" y="390.85" width="2.22" height="0.75" fill="#A2142F"/>
<rect x="276.40" y="389.50" width="2.22" height="0.75" fill="#0072BD"/>
<rect x="276.40" y="388.15" width="2.22" height="0.75" fill="#D95319"/>
<rect x="276.40" y="386.80" width="2.22" height="0.75" fill="#EDB120"/>
<rect x="276.40" y="385.44" width="2.22" height="0.75" fill="#7E2F8E"/>
<rect x="276.40" y="384.09" width="2.22" height="0.75" fill="#77AC30"/>
<rect x="276.40" y="382.74" width="2.22" height="0.75" fill="#4DBEEE"/>
<rect x="276.40" y="381.39" width="2.22" height="0.75" fill="#A2142F"/>
<rect x="276.40" y="380.04" width="2.22" height="0.75" fill="#0072BD"/>
<rect x="276.40" y="378.68" width="2.22" height="0.75" fill="#D95319"/>
<rect x="276.40" y="377.33" width="2.22" height="0.75" fill="#EDB120"/>
<rect x="276.40" y="375.98" width="2.22" height="0.75" fill="#7E2F8E"/>
<rect x="276.40" y="374.63" width="2.22" height="0.75" fill="#77AC30"/>
<rect x="279.38" y="376.77" width="3.82" height="26.35" fill="#000"/>
<rect x="280.18" y="401.68" width="2.22" height="0.74" fill="#0072BD"/>
<rect x="280.18" y="400.33" width="2.22" height="0.74" fill="#D95319"/>
<rect x="280.18" y="398.99" width="2.22" height="0.74" fill="#EDB120"/>
<rect x="280.18" y="397.64" width="2.22" height="0.74" fill="#7E2F8E"/>
<rect x="280.18" y="396.30" width="2.22" height="0.74" fill="#77AC30"/>
<rect x="280.18" y="394.95" width="2.22" height="0.74" fill="#4DBEEE"/>
<rect x="280.18" y="393.61" width="2.22" height="0.74" fill="#A2142F"/>
<rect x="280.18" y="392.26" width="2.22" height="0.74" fill="#0072BD"/>
<rect x="280.18" y="390.92" width="2.22" height="0.74" fill="#D95319"/>
<rect x="280.18" y="389.57" width="2.22" height="0.74" fill="#EDB120"/>
<rect x="280.18" y="388.23" width="2.22" height="0.74" fill="#7E2F8E"/>
<rect x="280.18" y="386.88" width="2.22" height="0.74" fill="#77AC30"/>
<rect x="280.18" y="385.54" width="2.22" height="0.74" fill="#4DBEEE"/>
<rect x="280.18" y="384.19" width="2.22" height="0.74" fill="#A2142F"/>
<rect x="280.18" y="382.85" width="2.22" height="0.74" fill="#0072BD"/>
<rect x="280.18" y="381.50" width="2.22" height="0.74" fill="#D95319"/>
<rect x="280.18" y="380.16" width="2.22" height="0.74" fill="#EDB120"/>
<rect x="280.18" y="378.81" width="2.22" height="0.74" fill="#7E2F8E"/>
<rect x="280.18" y="377.47" width="2.22" height="0.74" fill="#77AC30"/>
<rect x="283.16" y="379.61" width="3.82" height="26.22" fill="#000"/>
<rect x="283.96" y="404.39" width="2.22" height="0.74" fill="#0072BD"/>
<rect x="283.96" y="403.05" width="2.22" height="0.74" fill="#D95319"/>
<rect x="283.96" y="401.71" width="2.22" height="0.74" fill="#EDB120"/>
<rect x="283.96" y="400.37" width="2.22" height="0.74" fill="#7E2F8E"/>
<rect x="283.96" y="399.04" width="2.22" height="0.74" fill="#77AC30"/>
<rect x="283.96" y="397.70" width="2.22" height="0.74" fill="#4DBEEE"/>
<rect x="283.96" y="396.36" width="2.22" height="0.74" fill="#A2142F"/>
<rect x="283.96" y="395.02" width="2.22" height="0.74" fill="#0072BD"/>
<rect x="283.96" y="393.68" width="2.22" height="0.74" fill="#D95319"/>
<rect x="283.96" y="392.35" width="2.22" height="0.74" fill="#EDB120"/>
<rect x="283.96" y="391.01" width="2.22" height="0.74" fill="#7E2F8E"/>
<rect x="283.96" y="389.67" width="2.22" height="0.74" fill="#77AC30"/>
<rect x="283.96" y="388.33" width="2.22" height="0.74" fill="#4DBEEE"/>
<rect x="283.96" y="387.00" width="2.22" height="0.74" fill="#A2142F"/>
<rect x="283.96" y="385.66" width="2.22" height="0.74" fill="#0072BD"/>
<rect x="283.96" y="384.32" width="2.22" height="0.74" fill="#D95319"/>
<rect x="283.96" y="382.98" width="2.22" height="0.74" fill="#EDB120"/>
<rect x="283.96" y="381.64" width="2.22" height="0.74" fill="#7E2F8E"/>
<rect x="283.96" y="380.31" width="2.22" height="0.74" fill="#77AC30"/>
<rect x="286.94" y="378.26" width="3.82" height="26.49" fill="#000"/>
<rect x="287.74" y="403.29" width="2.22" height="0.75" fill="#0072BD"/>
<rect x="287.74" y="401.94" width="2.22" height="0.75" fill="#D95319"/>
<rect x="287.74" y="400.59" width="2.22" height="0.75" fill="#EDB120"/>
<rect x="287.74" y="399.24" width="2.22" height="0.75" fill="#7E2F8E"/>
<rect x="287.74" y="397.88" width="2.22" height="0.75" fill="#77AC30"/>
<rect x="287.74" y="396.53" width="2.22" height="0.75" fill="#4DBEEE"/>
<rect x="287.74" y="395.18" width="2.22" height="0.75" fill="#A2142F"/>
<rect x="287.74" y="393.83" width="2.22" height="0.75" fill="#0072BD"/>
<rect x="287.74" y="392.48" width="2.22" height="0.75" fill="#D95319"/>
<rect x="287.74" y="391.12" width="2.22" height="0.75" fill="#EDB120"/>
<rect x="287.74" y="389.77" width="2.22" height="0.75" fill="#7E2F8E"/>
<rect x="287.74" y="388.42" width="2.22" height="0.75" fill="#77AC30"/>
<rect x="287.74" y="387.07" width="2.22" height="0.75" fill="#4DBEEE"/>
<rect x="287.74" y="385.72" width="2.22" height="0.75" fill="#A2142F"/>
<rect x="287.74" y="384.36" width="2.22" height="0.75" fill="#0072BD"/>
<rect x="287.74" y="383.01" width="2.22" height="0.75" fill="#D95319"/>
<rect x="287.74" y="381.66" width="2.22" height="0.75" fill="#EDB120"/>
<rect x="287.74" y="380.31" width="2.22" height="0.75" fill="#7E2F8E"/>
<rect x="287.74" y="378.96" width="2.22" height="0.75" fill="#77AC30"/>
<rect x="290.72" y="378.26" width="3.82" height="25.95" fill="#000"/>
<rect x="291.52" y="402.78" width="2.22" height="0.72" fill="#0072BD"/>
<rect x="291.52" y="401.46" width="2.22" height="0.72" fill="#D95319"/>
<rect x="291.52" y="400.13" width="2.22" height="0.72" fill="#EDB120"/>
<rect x="291.52" y="398.81" width="2.22" height="0.72" fill="#7E2F8E"/>
<rect x="291.52" y="397.48" width="2.22" height="0.72" fill="#77AC30"/>
<rect x="291.52" y="396.16" width="2.22" height="0.72" fill="#4DBEEE"/>
<rect x="291.52" y="394.84" width="2.22" height="0.72" fill="#A2142F"/>
<rect x="291.52" y="393.51" width="2.22" height="0.72" fill="#0072BD"/>
<rect x="291.52" y="392.19" width="2.22" height="0.72" fill="#D95319"/>
<rect x="291.52" y="390.87" width="2.22" height="0.72" fill="#EDB120"/>
<rect x="291.52" y="389.54" width="2.22" height="0.72" fill="#7E2F8E"/>
<rect x="291.52" y="388.22" width="2.22" height="0.72" fill="#77AC30"/>
<rect x="291.52" y="386.90" width="2.22" height="0.72" fill="#4DBEEE"/>
<rect x="291.52" y="385.57" width="2.22" height="0.72" fill="#A2142F"/>
<rect x="291.52" y="384.25" width="2.22" height="0.72" fill="#0072BD"/>
<rect x="291.52" y="382.93" width="2.22" height="0.72" fill="#D95319"/>
<rect x="291.52" y="381.60" width="2.22" height="0.72" fill="#EDB120"/>
<rect x="291.52" y="380.28" width="2.22" height="0.72" fill="#7E2F8E"/>
<rect x="291.52" y="378.96" width="2.22" height="0.72" fill="#77AC30"/>
<rect x="294.50" y="376.77" width="3.82" height="26.35" fill="#000"/>
<rect x="295.30" y="401.68" width="2.22" height="0.74" fill="#0072BD"/>
<rect x="295.30" y="400.33" width="2.22" height="0.74" fill="#D95319"/>
<rect x="295.30" y="398.99" width="2.22" height="0.74" fill="#EDB120"/>
<rect x="295.30" y="397.64" width="2.22" height="0.74" fill="#7E2F8E"/>
<rect x="295.30" y="396.30" width="2.22" height="0.74" fill="#77AC30"/>
<rect x="295.30" y="394.95" width="2.22" height="0.74" fill="#4DBEEE"/>
<rect x="295.30" y="393.61" width="2.22" height="0.74" fill="#A2142F"/>
<rect x="295.30" y="392.26" width="2.22" height="0.74" fill="#0072BD"/>
<rect x="295.30" y="390.92" width="2.22" height="0.74" fill="#D95319"/>
<rect x="295.30" y="389.57" width="2.22" height="0.74" fill="#EDB120"/>
<rect x="295.30" y="388.23" width="2.22" height="0.74" fill="#7E2F8E"/>
<rect x="295.30" y="386.88" width="2.22" height="0.74" fill="#77AC30"/>
<rect x="295.30" y="385.54" width="2.22" height="0.74" fill="#4DBEEE"/>
<rect x="295.30" y="384.19" width="2.22" height="0.74" fill="#A2142F"/>
<rect x="295.30" y="382.85" width="2.22" height="0.74" fill="#0072BD"/>
<rect x="295.30" y="381.50" width="2.22" height="0.74" fill="#D95319"/>
<rect x="295.30" y="380.16" width="2.22" height="0.74" fill="#EDB120"/>
<rect x="295.30" y="378.81" width="2.22" height="0.74" fill="#7E2F8E"/>
<rect x="295.30" y="377.47" width="2.22" height="0.74" fill="#77AC30"/>
<rect x="298.28" y="373.93" width="3.82" height="26.49" fill="#000"/>
<rect x="299.08" y="398.96" width="2.22" height="0.75" fill="#0072BD"/>
<rect x="299.08" y="397.61" width="2.22" height="0.75" fill="#D95319"/>
<rect x="299.08" y="396.26" width="2.22" height="0.75" fill="#EDB120"/>
<rect x="299.08" y="394.91" width="2.22" height="0.75" fill="#7E2F8E"/>
<rect x="299.08" y="393.56" width="2.22" height="0.75" fill="#77AC30"/>
<rect x="299.08" y="392.20" width="2.22" height="0.75" fill="#4DBEEE"/>
<rect x="299.08" y="390.85" width="2.22" height="0.75" fill="#A2142F"/>
<rect x="299.08" y="389.50" width="2.22" height="0.75" fill="#0072BD"/>
<rect x="299.08" y="388.15" width="2.22" height="0.75" fill="#D95319"/>
<rect x="299.08" y="386.80" width="2.22" height="0.75" fill="#EDB120"/>
<rect x="299.08" y="385.44" width="2.22" height="0.75" fill="#7E2F8E"/>
<rect x="299.08" y="384.09" width="2.22" height="0.75" fill="#77AC30"/>
<rect x="299.08" y="382.74" width="2.22" height="0.75" fill="#4DBEEE"/>
<rect x="299.08" y="381.39" width="2.22" height="0.75" fill="#A2142F"/>
<rect x="299.08" y="380.04" width="2.22" height="0.75" fill="#0072BD"/>
<rect x="299.08" y="378.68" width="2.22" height="0.75" fill="#D95319"/>
<rect x="299.08" y="377.33" width="2.22" height="0.75" fill="#EDB120"/>
<rect x="299.08" y="375.98" width="2.22" height="0.75" fill="#7E2F8E"/>
<rect x="299.08" y="374.63" width="2.22" height="0.75" fill="#77AC30"/>
<rect x="302.06" y="372.71" width="3.82" height="26.22" fill="#000"/>
<rect x="302.86" y="397.49" width="2.22" height="0.74" fill="#0072BD"/>
<rect x="302.86" y="396.15" width="2.22" height="0.74" fill="#D95319"/>
<rect x="302.86" y="394.82" width="2.22" height="0.74" fill="#EDB120"/>
<rect x="302.86" y="393.48" width="2.22" height="0.74" fill="#7E2F8E"/>
<rect x="302.86" y="392.14" width="2.22" height="0.74" fill="#77AC30"/>
<rect x="302.86" y="390.80" width="2.22" height="0.74" fill="#4DBEEE"/>
<rect x="302.86" y="389.47" width="2.22" height="0.74" fill="#A2142F"/>
<rect x="302.86" y="388.13" width="2.22" height="0.74" fill="#0072BD"/>
<rect x="302.86" y="386.79" width="2.22" height="0.74" fill="#D95319"/>
<rect x="302.86" y="385.45" width="2.22" height="0.74" fill="#EDB120"/>
<rect x="302.86" y="384.11" width="2.22" height="0.74" fill="#7E2F8E"/>
<rect x="302.86" y="382.78" width="2.22" height="0.74" fill="#77AC30"/>
<rect x="302.86" y="381.44" width="2.22" height="0.74" fill="#4DBEEE"/>
<rect x="302.86" y="380.10" width="2.22" height="0.74" fill="#A2142F"/>
<rect x="302.86" y="378.76" width="2.22" height="0.74" fill="#0072BD"/>
<rect x="302.86" y="377.43" width="2.22" height="0.74" fill="#D95319"/>
<rect x="302.86" y="376.09" width="2.22" height="0.74" fill="#EDB120"/>
<rect x="302.86" y="374.75" width="2.22" height="0.74" fill="#7E2F8E"/>
<rect x="302.86" y="373.41" width="2.22" height="0.74" fill="#77AC30"/>
<rect x="305.84" y="372.71" width="3.82" height="26.22" fill="#000"/>
<rect x="306.64" y="397.49" width="2.22" height="0.74" fill="#0072BD"/>
<rect x="306.64" y="396.15" width="2.22" height="0.74" fill="#D95319"/>
<rect x="306.64" y="394.82" width="2.22" height="0.74" fill="#EDB120"/>
<rect x="306.64" y="393.48" width="2.22" height="0.74" fill="#7E2F8E"/>
<rect x="306.64" y="392.14" width="2.22" height="0.74" fill="#77AC30"/>
<rect x="306.64" y="390.80" width="2.22" height="0.74" fill="#4DBEEE"/>
<rect x="306.64" y="389.47" width="2.22" height="0.74" fill="#A2142F"/>
<rect x="306.64" y="388.13" width="2.22" height="0.74" fill="#0072BD"/>
<rect x="306.64" y="386.79" width="2.22" height="0.74" fill="#D95319"/>
<rect x="306.64" y="385.45" width="2.22" height="0.74" fill="#EDB120"/>
<rect x="306.64" y="384.11" width="2.22" height="0.74" fill="#7E2F8E"/>
<rect x="306.64" y="382.78" width="2.22" height="0.74" fill="#77AC30"/>
<rect x="306.64" y="381.44" width="2.22" height="0.74" fill="#4DBEEE"/>
<rect x="306.64" y="380.10" width="2.22" height="0.74" fill="#A2142F"/>
<rect x="306.64" y="378.76" width="2.22" height="0.74" fill="#0072BD"/>
<rect x="306.64" y="377.43" width="2.22" height="0.74" fill="#D95319"/>
<rect x="306.64" y="376.09" width="2.22" height="0.74" fill="#EDB120"/>
<rect x="306.64" y="374.75" width="2.22" height="0.74" fill="#7E2F8E"/>
<rect x="306.64" y="373.41" width="2.22" height="0.74" fill="#77AC30"/>
<rect x="309.62" y="372.71" width="3.82" height="26.22" fill="#000"/>
<rect x="310.42" y="397.49" width="2.22" height="0.74" fill="#0072BD"/>
<rect x="310.42" y="396.15" width="2.22" height="0.74" fill="#D95319"/>
<rect x="310.42" y="394.82" width="2.22" height="0.74" fill="#EDB120"/>
<rect x="310.42" y="393.48" width="2.22" height="0.74" fill="#7E2F8E"/>
<rect x="310.42" y="392.14" width="2.22" height="0.74" fill="#77AC30"/>
<rect x="310.42" y="390.80" width="2.22" height="0.74" fill="#4DBEEE"/>
<rect x="310.42" y="389.47" width="2.22" height="0.74" fill="#A2142F"/>
<rect x="310.42" y="388.13" width="2.22" height="0.74" fill="#0072BD"/>
<rect x="310.42" y="386.79" width="2.22" height="0.74" fill="#D95319"/>
<rect x="310.42" y="385.45" width="2.22" height="0.74" fill="#EDB120"/>
<rect x="310.42" y="384.11" width="2.22" height="0.74" fill="#7E2F8E"/>
<rect x="310.42" y="382.78" width="2.22" height="0.74" fill="#77AC30"/>
<rect x="310.42" y="381.44" width="2.22" height="0.74" fill="#4DBEEE"/>
<rect x="310.42" y="380.10" width="2.22" height="0.74" fill="#A2142F"/>
<rect x="310.42" y="378.76" width="2.22" height="0.74" fill="#0072BD"/>
<rect x="310.42" y="377.43" width="2.22" height="0.74" fill="#D95319"/>
<rect x="310.42" y="376.09" width="2.22" height="0.74" fill="#EDB120"/>
<rect x="310.42" y="374.75" width="2.22" height="0.74" fill="#7E2F8E"/>
<rect x="310.42" y="373.41" width="2.22" height="0.74" fill="#77AC30"/>
<rect x="313.40" y="372.71" width="3.82" height="26.22" fill="#000"/>
<rect x="314.20" y="397.49" width="2.22" height="0.74" fill="#0072BD"/>
<rect x="314.20" y="396.15" width="2.22" height="0.74" fill="#D95319"/>
<rect x="314.20" y="394.82" width="2.22" height="0.74" fill="#EDB120"/>
<rect x="314.20" y="393.48" width="2.22" height="0.74" fill="#7E2F8E"/>
<rect x="314.20" y="392.14" width="2.22" height="0.74" fill="#77AC30"/>
<rect x="314.20" y="390.80" width="2.22" height="0.74" fill="#4DBEEE"/>
<rect x="314.20" y="389.47" width="2.22" height="0.74" fill="#A2142F"/>
<rect x="314.20" y="388.13" width="2.22" height="0.74" fill="#0072BD"/>
<rect x="314.20" y="386.79" width="2.22" height="0.74" fill="#D95319"/>
<rect x="314.20" y="385.45" width="2.22" height="0.74" fill="#EDB120"/>
<rect x="314.20" y="384.11" width="2.22" height="0.74" fill="#7E2F8E"/>
<rect x="314.20" y="382.78" width="2.22" height="0.74" fill="#77AC30"/>
<rect x="314.20" y="381.44" width="2.22" height="0.74" fill="#4DBEEE"/>
<rect x="314.20" y="380.10" width="2.22" height="0.74" fill="#A2142F"/>
<rect x="314.20" y="378.76" width="2.22" height="0.74" fill="#0072BD"/>
<rect x="314.20" y="377.43" width="2.22" height="0.74" fill="#D95319"/>
<rect x="314.20" y="376.09" width="2.22" height="0.74" fill="#EDB120"/>
<rect x="314.20" y="374.75" width="2.22" height="0.74" fill="#7E2F8E"/>
<rect x="314.20" y="373.41" width="2.22" height="0.74" fill="#77AC30"/>
<rect x="317.18" y="372.71" width="3.82" height="26.22" fill="#000"/>
<rect x="317.98" y="397.49" width="2.22" height="0.74" fill="#0072BD"/>
<rect x="317.98" y="396.15" width="2.22" height="0.74" fill="#D95319"/>
<rect x="317.98" y="394.82" width="2.22" height="0.74" fill="#EDB120"/>
<rect x="317.98" y="393.48" width="2.22" height="0.74" fill="#7E2F8E"/>
<rect x="317.98" y="392.14" width="2.22" height="0.74" fill="#77AC30"/>
<rect x="317.98" y="390.80" width="2.22" height="0.74" fill="#4DBEEE"/>
<rect x="317.98" y="389.47" width="2.22" height="0.74" fill="#A2142F"/>
<rect x="317.98" y="388.13" width="2.22" height="0.74" fill="#0072BD"/>
<rect x="317.98" y="386.79" width="2.22" height="0.74" fill="#D95319"/>
<rect x="317.98" y="385.45" width="2.22" height="0.74" fill="#EDB120"/>
<rect x="317.98" y="384.11" width="2.22" height="0.74" fill="#7E2F8E"/>
<rect x="317.98" y="382.78" width="2.22" height="0.74" fill="#77AC30"/>
<rect x="317.98" y="381.44" width="2.22" height="0.74" fill="#4DBEEE"/>
<rect x="317.98" y="380.10" width="2.22" height="0.74" fill="#A2142F"/>
<rect x="317.98" y="378.76" width="2.22" height="0.74" fill="#0072BD"/>
<rect x="317.98" y="377.43" width="2.22" height="0.74" fill="#D95319"/>
<rect x="317.98" y="376.09" width="2.22" height="0.74" fill="#EDB120"/>
<rect x="317.98" y="374.75" width="2.22" height="0.74" fill="#7E2F8E"/>
<rect x="317.98" y="373.41" width="2.22" height="0.74" fill="#77AC30"/>
<rect x="320.96" y="372.71" width="3.82" height="26.22" fill="#000"/>
<rect x="321.76" y="397.49" width="2.22" height="0.74" fill="#0072BD"/>
<rect x="321.76" y="396.15" width="2.22" height="0.74" fill="#D95319"/>
<rect x="321.76" y="394.82" width="2.22" height="0.74" fill="#EDB120"/>
<rect x="321.76" y="393.48" width="2.22" height="0.74" fill="#7E2F8E"/>
<rect x="321.76" y="392.14" width="2.22" height="0.74" fill="#77AC30"/>
<rect x="321.76" y="390.80" width="2.22" height="0.74" fill="#4DBEEE"/>
<rect x="321.76" y="389.47" width="2.22" height="0.74" fill="#A2142F"/>
<rect x="321.76" y="388.13" width="2.22" height="0.74" fill="#0072BD"/>
<rect x="321.76" y="386.79" width="2.22" height="0.74" fill="#D95319"/>
<rect x="321.76" y="385.45" width="2.22" height="0.74" fill="#EDB120"/>
<rect x="321.76" y="384.11" width="2.22" height="0.74" fill="#7E2F8E"/>
<rect x="321.76" y="382.78" width="2.22" height="0.74" fill="#77AC30"/>
<rect x="321.76" y="381.44" width="2.22" height="0.74" fill="#4DBEEE"/>
<rect x="321.76" y="380.10" width="2.22" height="0.74" fill="#A2142F"/>
<rect x="321.76" y="378.76" width="2.22" height="0.74" fill="#0072BD"/>
<rect x="321.76" y="377.43" width="2.22" height="0.74" fill="#D95319"/>
<rect x="321.76" y="376.09" width="2.22" height="0.74" fill="#EDB120"/>
<rect x="321.76" y="374.75" width="2.22" height="0.74" fill="#7E2F8E"/>
<rect x="321.76" y="373.41" width="2.22" height="0.74" fill="#77AC30"/>
<rect x="324.74" y="372.71" width="3.82" height="26.22" fill="#000"/>
<rect x="325.54" y="397.49" width="2.22" height="0.74" fill="#0072BD"/>
<rect x="325.54" y="396.15" width="2.22" height="0.74" fill="#D95319"/>
<rect x="325.54" y="394.82" width="2.22" height="0.74" fill="#EDB120"/>
<rect x="325.54" y="393.48" width="2.22" height="0.74" fill="#7E2F8E"/>
<rect x="325.54" y="392.14" width="2.22" height="0.74" fill="#77AC30"/>
<rect x="325.54" y="390.80" width="2.22" height="0.74" fill="#4DBEEE"/>
<rect x="325.54" y="389.47" width="2.22" height="0.74" fill="#A2142F"/>
<rect x="325.54" y="388.13" width="2.22" height="0.74" fill="#0072BD"/>
<rect x="325.54" y="386.79" width="2.22" height="0.74" fill="#D95319"/>
<rect x="325.54" y="385.45" width="2.22" height="0.74" fill="#EDB120"/>
<rect x="325.54" y="384.11" width="2.22" height="0.74" fill="#7E2F8E"/>
<rect x="325.54" y="382.78" width="2.22" height="0.74" fill="#77AC30"/>
<rect x="325.54" y="381.44" width="2.22" height="0.74" fill="#4DBEEE"/>
<rect x="325.54" y="380.10" width="2.22" height="0.74" fill="#A2142F"/>
<rect x="325.54" y="378.76" width="2.22" height="0.74" fill="#0072BD"/>
<rect x="325.54" y="377.43" width="2.22" height="0.74" fill="#D95319"/>
<rect x="325.54" y="376.09" width="2.22" height="0.74" fill="#EDB120"/>
<rect x="325.54" y="374.75" width="2.22" height="0.74" fill="#7E2F8E"/>
<rect x="325.54" y="373.41" width="2.22" height="0.74" fill="#77AC30"/>
<rect x="328.52" y="372.71" width="3.82" height="26.22" fill="#000"/>
<rect x="329.32" y="397.49" width="2.22" height="0.74" fill="#0072BD"/>
<rect x="329.32" y="396.15" width="2.22" height="0.74" fill="#D95319"/>
<rect x="329.32" y="394.82" width="2.22" height="0.74" fill="#EDB120"/>
<rect x="329.32" y="393.48" width="2.22" height="0.74" fill="#7E2F8E"/>
<rect x="329.32" y="392.14" width="2.22" height="0.74" fill="#77AC30"/>
<rect x="329.32" y="390.80" width="2.22" height="0.74" fill="#4DBEEE"/>
<rect x="329.32" y="389.47" width="2.22" height="0.74" fill="#A2142F"/>
<rect x="329.32" y="388.13" width="2.22" height="0.74" fill="#0072BD"/>
<rect x="329.32" y="386.79" width="2.22" height="0.74" fill="#D95319"/>
<rect x="329.32" y="385.45" width="2.22" height="0.74" fill="#EDB120"/>
<rect x="329.32" y="384.11" width="2.22" height="0.74" fill="#7E2F8E"/>
<rect x="329.32" y="382.78" width="2.22" height="0.74" fill="#77AC30"/>
<rect x="329.32" y="381.44" width="2.22" height="0.74" fill="#4DBEEE"/>
<rect x="329.32" y="380.10" width="2.22" height="0.74" fill="#A2142F"/>
<rect x="329.32" y="378.76" width="2.22" height="0.74" fill="#0072BD"/>
<rect x="329.32" y="377.43" width="2.22" height="0.74" fill="#D95319"/>
<rect x="329.32" y="376.09" width="2.22" height="0.74" fill="#EDB120"/>
<rect x="329.32" y="374.75" width="2.22" height="0.74" fill="#7E2F8E"/>
<rect x="329.32" y="373.41" width="2.22" height="0.74" fill="#77AC30"/>
<rect x="332.30" y="372.71" width="3.82" height="26.22" fill="#000"/>
<rect x="333.10" y="397.49" width="2.22" height="0.74" fill="#0072BD"/>
<rect x="333.10" y="396.15" width="2.22" height="0.74" fill="#D95319"/>
<rect x="333.10" y="394.82" width="2.22" height="0.74" fill="#EDB120"/>
<rect x="333.10" y="393.48" width="2.22" height="0.74" fill="#7E2F8E"/>
<rect x="333.10" y="392.14" width="2.22" height="0.74" fill="#77AC30"/>
<rect x="333.10" y="390.80" width="2.22" height="0.74" fill="#4DBEEE"/>
<rect x="333.10" y="389.47" width="2.22" height="0.74" fill="#A2142F"/>
<rect x="333.10" y="388.13" width="2.22" height="0.74" fill="#0072BD"/>
<rect x="333.10" y="386.79" width="2.22" height="0.74" fill="#D95319"/>
<rect x="333.10" y="385.45" width="2.22" height="0.74" fill="#EDB120"/>
<rect x="333.10" y="384.11" width="2.22" height="0.74" fill="#7E2F8E"/>
<rect x="333.10" y="382.78" width="2.22" height="0.74" fill="#77AC30"/>
<rect x="333.10" y="381.44" width="2.22" height="0.74" fill="#4DBEEE"/>
<rect x="333.10" y="380.10" width="2.22" height="0.74" fill="#A2142F"/>
<rect x="333.10" y="378.76" width="2.22" height="0.74" fill="#0072BD"/>
<rect x="333.10" y="377.43" width="2.22" height="0.74" fill="#D95319"/>
<rect x="333.10" y="376.09" width="2.22" height="0.74" fill="#EDB120"/>
<rect x="333.10" y="374.75" width="2.22" height="0.74" fill="#7E2F8E"/>
<rect x="333.10" y="373.41" width="2.22" height="0.74" fill="#77AC30"/>
<rect x="336.08" y="372.71" width="3.82" height="26.22" fill="#000"/>
<rect x="336.88" y="397.49" width="2.22" height="0.74" fill="#0072BD"/>
<rect x="336.88" y="396.15" width="2.22" height="0.74" fill="#D95319"/>
<rect x="336.88" y="394.82" width="2.22" height="0.74" fill="#EDB120"/>
<rect x="336.88" y="393.48" width="2.22" height="0.74" fill="#7E2F8E"/>
<rect x="336.88" y="392.14" width="2.22" height="0.74" fill="#77AC30"/>
<rect x="336.88" y="390.80" width="2.22" height="0.74" fill="#4DBEEE"/>
<rect x="336.88" y="389.47" width="2.22" height="0.74" fill="#A2142F"/>
<rect x="336.88" y="388.13" width="2.22" height="0.74" fill="#0072BD"/>
<rect x="336.88" y="386.79" width="2.22" height="0.74" fill="#D95319"/>
<rect x="336.88" y="385.45" width="2.22" height="0.74" fill="#EDB120"/>
<rect x="336.88" y="384.11" width="2.22" height="0.74" fill="#7E2F8E"/>
<rect x="336.88" y="382.78" width="2.22" height="0.74" fill="#77AC30"/>
<rect x="336.88" y="381.44" width="2.22" height="0.74" fill="#4DBEEE"/>
<rect x="336.88" y="380.10" width="2.22" height="0.74" fill="#A2142F"/>
<rect x="336.88" y="378.76" width="2.22" height="0.74" fill="#0072BD"/>
<rect x="336.88" y="377.43" width="2.22" height="0.74" fill="#D95319"/>
<rect x="336.88" y="376.09" width="2.22" height="0.74" fill="#EDB120"/>
<rect x="336.88" y="374.75" width="2.22" height="0.74" fill="#7E2F8E"/>
<rect x="336.88" y="373.41" width="2.22" height="0.74" fill="#77AC30"/>
<rect x="339.86" y="372.71" width="3.82" height="26.22" fill="#000"/>
<rect x="340.66" y="397.49" width="2.22" height="0.74" fill="#0072BD"/>
<rect x="340.66" y="396.15" width="2.22" height="0.74" fill="#D95319"/>
<rect x="340.66" y="394.82" width="2.22" height="0.74" fill="#EDB120"/>
<rect x="340.66" y="393.48" width="2.22" height="0.74" fill="#7E2F8E"/>
<rect x="340.66" y="392.14" width="2.22" height="0.74" fill="#77AC30"/>
<rect x="340.66" y="390.80" width="2.22" height="0.74" fill="#4DBEEE"/>
<rect x="340.66" y="389.47" width="2.22" height="0.74" fill="#A2142F"/>
<rect x="340.66" y="388.13" width="2.22" height="0.74" fill="#0072BD"/>
<rect x="340.66" y="386.79" width="2.22" height="0.74" fill="#D95319"/>
<rect x="340.66" y="385.45" width="2.22" height="0.74" fill="#EDB120"/>
<rect x="340.66" y="384.11" width="2.22" height="0.74" fill="#7E2F8E"/>
<rect x="340.66" y="382.78" width="2.22" height="0.74" fill="#77AC30"/>
<rect x="340.66" y="381.44" width="2.22" height="0.74" fill="#4DBEEE"/>
<rect x="340.66" y="380.10" width="2.22" height="0.74" fill="#A2142F"/>
<rect x="340.66" y="378.76" width="2.22" height="0.74" fill="#0072BD"/>
<rect x="340.66" y="377.43" width="2.22" height="0.74" fill="#D95319"/>
<rect x="340.66" y="376.09" width="2.22" height="0.74" fill="#EDB120"/>
<rect x="340.66" y="374.75" width="2.22" height="0.74" fill="#7E2F8E"/>
<rect x="340.66" y="373.41" width="2.22" height="0.74" fill="#77AC30"/>
<rect x="343.64" y="372.71" width="3.82" height="26.22" fill="#000"/>
<rect x="344.44" y="397.49" width="2.22" height="0.74" fill="#0072BD"/>
<rect x="344.44" y="396.15" width="2.22" height="0.74" fill="#D95319"/>
<rect x="344.44" y="394.82" width="2.22" height="0.74" fill="#EDB120"/>
<rect x="344.44" y="393.48" width="2.22" height="0.74" fill="#7E2F8E"/>
<rect x="344.44" y="392.14" width="2.22" height="0.74" fill="#77AC30"/>
<rect x="344.44" y="390.80" width="2.22" height="0.74" fill="#4DBEEE"/>
<rect x="344.44" y="389.47" width="2.22" height="0.74" fill="#A2142F"/>
<rect x="344.44" y="388.13" width="2.22" height="0.74" fill="#0072BD"/>
<rect x="344.44" y="386.79" width="2.22" height="0.74" fill="#D95319"/>
<rect x="344.44" y="385.45" width="2.22" height="0.74" fill="#EDB120"/>
<rect x="344.44" y="384.11" width="2.22" height="0.74" fill="#7E2F8E"/>
<rect x="344.44" y="382.78" width="2.22" height="0.74" fill="#77AC30"/>
<rect x="344.44" y="381.44" width="2.22" height="0.74" fill="#4DBEEE"/>
<rect x="344.44" y="380.10" width="2.22" height="0.74" fill="#A2142F"/>
<rect x="344.44" y="378.76" width="2.22" height="0.74" fill="#0072BD"/>
<rect x="344.44" y="377.43" width="2.22" height="0.74" fill="#D95319"/>
<rect x="344.44" y="376.09" width="2.22" height="0.74" fill="#EDB120"/>
<rect x="344.44" y="374.75" width="2.22" height="0.74" fill="#7E2F8E"/>
<rect x="344.44" y="373.41" width="2.22" height="0.74" fill="#77AC30"/>
<rect x="347.42" y="376.50" width="3.82" height="26.35" fill="#000"/>
<rect x="348.22" y="401.41" width="2.22" height="0.74" fill="#0072BD"/>
<rect x="348.22" y="400.06" width="2.22" height="0.74" fill="#D95319"/>
<rect x="348.22" y="398.72" width="2.22" height="0.74" fill="#EDB120"/>
<rect x="348.22" y="397.37" width="2.22" height="0.74" fill="#7E2F8E"/>
<rect x="348.22" y="396.03" width="2.22" height="0.74" fill="#77AC30"/>
<rect x="348.22" y="394.68" width="2.22" height="0.74" fill="#4DBEEE"/>
<rect x="348.22" y="393.34" width="2.22" height="0.74" fill="#A2142F"/>
<rect x="348.22" y="391.99" width="2.22" height="0.74" fill="#0072BD"/>
<rect x="348.22" y="390.65" width="2.22" height="0.74" fill="#D95319"/>
<rect x="348.22" y="389.30" width="2.22" height="0.74" fill="#EDB120"/>
<rect x="348.22" y="387.96" width="2.22" height="0.74" fill="#7E2F8E"/>
<rect x="348.22" y="386.61" width="2.22" height="0.74" fill="#77AC30"/>
<rect x="348.22" y="385.27" width="2.22" height="0.74" fill="#4DBEEE"/>
<rect x="348.22" y="383.92" width="2.22" height="0.74" fill="#A2142F"/>
<rect x="348.22" y="382.58" width="2.22" height="0.74" fill="#0072BD"/>
<rect x="348.22" y="381.23" width="2.22" height="0.74" fill="#D95319"/>
<rect x="348.22" y="379.89" width="2.22" height="0.74" fill="#EDB120"/>
<rect x="348.22" y="378.54" width="2.22" height="0.74" fill="#7E2F8E"/>
<rect x="348.22" y="377.20" width="2.22" height="0.74" fill="#77AC30"/>
<rect x="351.20" y="372.71" width="3.82" height="26.22" fill="#000"/>
<rect x="352.00" y="397.49" width="2.22" height="0.74" fill="#0072BD"/>
<rect x="352.00" y="396.15" width="2.22" height="0.74" fill="#D95319"/>
<rect x="352.00" y="394.82" width="2.22" height="0.74" fill="#EDB120"/>
<rect x="352.00" y="393.48" width="2.22" height="0.74" fill="#7E2F8E"/>
<rect x="352.00" y="392.14" width="2.22" height="0.74" fill="#77AC30"/>
<rect x="352.00" y="390.80" width="2.22" height="0.74" fill="#4DBEEE"/>
<rect x="352.00" y="389.47" width="2.22" height="0.74" fill="#A2142F"/>
<rect x="352.00" y="388.13" width="2.22" height="0.74" fill="#0072BD"/>
<rect x="352.00" y="386.79" width="2.22" height="0.74" fill="#D95319"/>
<rect x="352.00" y="385.45" width="2.22" height="0.74" fill="#EDB120"/>
<rect x="352.00" y="384.11" width="2.22" height="0.74" fill="#7E2F8E"/>
<rect x="352.00" y="382.78" width="2.22" height="0.74" fill="#77AC30"/>
<rect x="352.00" y="381.44" width="2.22" height="0.74" fill="#4DBEEE"/>
<rect x="352.00" y="380.10" width="2.22" height="0.74" fill="#A2142F"/>
<rect x="352.00" y="378.76" width="2.22" height="0.74" fill="#0072BD"/>
<rect x="352.00" y="377.43" width="2.22" height="0.74" fill="#D95319"/>
<rect x="352.00" y="376.09" width="2.22" height="0.74" fill="#EDB120"/>
<rect x="352.00" y="374.75" width="2.22" height="0.74" fill="#7E2F8E"/>
<rect x="352.00" y="373.41" width="2.22" height="0.74" fill="#77AC30"/>
<rect x="354.98" y="372.71" width="3.82" height="26.22" fill="#000"/>
<rect x="355.78" y="397.49" width="2.22" height="0.74" fill="#0072BD"/>
<rect x="355.78" y="396.15" width="2.22" height="0.74" fill="#D95319"/>
<rect x="355.78" y="394.82" width="2.22" height="0.74" fill="#EDB120"/>
<rect x="355.78" y="393.48" width="2.22" height="0.74" fill="#7E2F8E"/>
<rect x="355.78" y="392.14" width="2.22" height="0.74" fill="#77AC30"/>
<rect x="355.78" y="390.80" width="2.22" height="0.74" fill="#4DBEEE"/>
<rect x="355.78" y="389.47" width="2.22" height="0.74" fill="#A2142F"/>
<rect x="355.78" y="388.13" width="2.22" height="0.74" fill="#0072BD"/>
<rect x="355.78" y="386.79" width="2.22" height="0.74" fill="#D95319"/>
<rect x="355.78" y="385.45" width="2.22" height="0.74" fill="#EDB120"/>
<rect x="355.78" y="384.11" width="2.22" height="0.74" fill="#7E2F8E"/>
<rect x="355.78" y="382.78" width="2.22" height="0.74" fill="#77AC30"/>
<rect x="355.78" y="381.44" width="2.22" height="0.74" fill="#4DBEEE"/>
<rect x="355.78" y="380.10" width="2.22" height="0.74" fill="#A2142F"/>
<rect x="355.78" y="378.76" width="2.22" height="0.74" fill="#0072BD"/>
<rect x="355.78" y="377.43" width="2.22" height="0.74" fill="#D95319"/>
<rect x="355.78" y="376.09" width="2.22" height="0.74" fill="#EDB120"/>
<rect x="355.78" y="374.75" width="2.22" height="0.74" fill="#7E2F8E"/>
<rect x="355.78" y="373.41" width="2.22" height="0.74" fill="#77AC30"/>
<rect x="358.76" y="372.71" width="3.82" height="26.22" fill="#000"/>
<rect x="359.56" y="397.49" width="2.22" height="0.74" fill="#0072BD"/>
<rect x="359.56" y="396.15" width="2.22" height="0.74" fill="#D95319"/>
<rect x="359.56" y="394.82" width="2.22" height="0.74" fill="#EDB120"/>
<rect x="359.56" y="393.48" width="2.22" height="0.74" fill="#7E2F8E"/>
<rect x="359.56" y="392.14" width="2.22" height="0.74" fill="#77AC30"/>
<rect x="359.56" y="390.80" width="2.22" height="0.74" fill="#4DBEEE"/>
<rect x="359.56" y="389.47" width="2.22" height="0.74" fill="#A2142F"/>
<rect x="359.56" y="388.13" width="2.22" height="0.74" fill="#0072BD"/>
<rect x="359.56" y="386.79" width="2.22" height="0.74" fill="#D95319"/>
<rect x="359.56" y="385.45" width="2.22" height="0.74" fill="#EDB120"/>
<rect x="359.56" y="384.11" width="2.22" height="0.74" fill="#7E2F8E"/>
<rect x="359.56" y="382.78" width="2.22" height="0.74" fill="#77AC30"/>
<rect x="359.56" y="381.44" width="2.22" height="0.74" fill="#4DBEEE"/>
<rect x="359.56" y="380.10" width="2.22" height="0.74" fill="#A2142F"/>
<rect x="359.56" y="378.76" width="2.22" height="0.74" fill="#0072BD"/>
<rect x="359.56" y="377.43" width="2.22" height="0.74" fill="#D95319"/>
<rect x="359.56" y="376.09" width="2.22" height="0.74" fill="#EDB120"/>
<rect x="359.56" y="374.75" width="2.22" height="0.74" fill="#7E2F8E"/>
<rect x="359.56" y="373.41" width="2.22" height="0.74" fill="#77AC30"/>
<rect x="362.54" y="375.15" width="3.82" height="26.49" fill="#000"/>
<rect x="363.34" y="400.18" width="2.22" height="0.75" fill="#0072BD"/>
<rect x="363.34" y="398.83" width="2.22" height="0.75" fill="#D95319"/>
<rect x="363.34" y="397.48" width="2.22" height="0.75" fill="#EDB120"/>
<rect x="363.34" y="396.13" width="2.22" height="0.75" fill="#7E2F8E"/>
<rect x="363.34" y="394.77" width="2.22" height="0.75" fill="#77AC30"/>
<rect x="363.34" y="393.42" width="2.22" height="0.75" fill="#4DBEEE"/>
<rect x="363.34" y="392.07" width="2.22" height="0.75" fill="#A2142F"/>
<rect x="363.34" y="390.72" width="2.22" height="0.75" fill="#0072BD"/>
<rect x="363.34" y="389.37" width="2.22" height="0.75" fill="#D95319"/>
<rect x="363.34" y="388.01" width="2.22" height="0.75" fill="#EDB120"/>
<rect x="363.34" y="386.66" width="2.22" height="0.75" fill="#7E2F8E"/>
<rect x="363.34" y="385.31" width="2.22" height="0.75" fill="#77AC30"/>
<rect x="363.34" y="383.96" width="2.22" height="0.75" fill="#4DBEEE"/>
<rect x="363.34" y="382.61" width="2.22" height="0.75" fill="#A2142F"/>
<rect x="363.34" y="381.25" width="2.22" height="0.75" fill="#0072BD"/>
<rect x="363.34" y="379.90" width="2.22" height="0.75" fill="#D95319"/>
<rect x="363.34" y="378.55" width="2.22" height="0.75" fill="#EDB120"/>
<rect x="363.34" y="377.20" width="2.22" height="0.75" fill="#7E2F8E"/>
<rect x="363.34" y="375.85" width="2.22" height="0.75" fill="#77AC30"/>
<rect x="366.32" y="382.18" width="3.82" height="26.35" fill="#000"/>
<rect x="367.12" y="407.08" width="2.22" height="0.74" fill="#0072BD"/>
<rect x="367.12" y="405.74" width="2.22" height="0.74" fill="#D95319"/>
<rect x="367.12" y="404.39" width="2.22" height="0.74" fill="#EDB120"/>
<rect x="367.12" y="403.05" width="2.22" height="0.74" fill="#7E2F8E"/>
<rect x="367.12" y="401.70" width="2.22" height="0.74" fill="#77AC30"/>
<rect x="367.12" y="400.36" width="2.22" height="0.74" fill="#4DBEEE"/>
<rect x="367.12" y="399.01" width="2.22" height="0.74" fill="#A2142F"/>
<rect x="367.12" y="397.67" width="2.22" height="0.74" fill="#0072BD"/>
<rect x="367.12" y="396.32" width="2.22" height="0.74" fill="#D95319"/>
<rect x="367.12" y="394.98" width="2.22" height="0.74" fill="#EDB120"/>
<rect x="367.12" y="393.64" width="2.22" height="0.74" fill="#7E2F8E"/>
<rect x="367.12" y="392.29" width="2.22" height="0.74" fill="#77AC30"/>
<rect x="367.12" y="390.95" width="2.22" height="0.74" fill="#4DBEEE"/>
<rect x="367.12" y="389.60" width="2.22" height="0.74" fill="#A2142F"/>
<rect x="367.12" y="388.26" width="2.22" height="0.74" fill="#0072BD"/>
<rect x="367.12" y="386.91" width="2.22" height="0.74" fill="#D95319"/>
<rect x="367.12" y="385.57" width="2.22" height="0.74" fill="#EDB120"/>
<rect x="367.12" y="384.22" width="2.22" height="0.74" fill="#7E2F8E"/>
<rect x="367.12" y="382.88" width="2.22" height="0.74" fill="#77AC30"/>
<rect x="370.11" y="384.61" width="3.82" height="26.49" fill="#000"/>
<rect x="370.91" y="409.65" width="2.22" height="0.75" fill="#0072BD"/>
<rect x="370.91" y="408.29" width="2.22" height="0.75" fill="#D95319"/>
<rect x="370.91" y="406.94" width="2.22" height="0.75" fill="#EDB120"/>
<rect x="370.91" y="405.59" width="2.22" height="0.75" fill="#7E2F8E"/>
<rect x="370.91" y="404.24" width="2.22" height="0.75" fill="#77AC30"/>
<rect x="370.91" y="402.89" width="2.22" height="0.75" fill="#4DBEEE"/>
<rect x="370.91" y="401.53" width="2.22" height="0.75" fill="#A2142F"/>
<rect x="370.91" y="400.18" width="2.22" height="0.75" fill="#0072BD"/>
<rect x="370.91" y="398.83" width="2.22" height="0.75" fill="#D95319"/>
<rect x="370.91" y="397.48" width="2.22" height="0.75" fill="#EDB120"/>
<rect x="370.91" y="396.13" width="2.22" height="0.75" fill="#7E2F8E"/>
<rect x="370.91" y="394.77" width="2.22" height="0.75" fill="#77AC30"/>
<rect x="370.91" y="393.42" width="2.22" height="0.75" fill="#4DBEEE"/>
<rect x="370.91" y="392.07" width="2.22" height="0.75" fill="#A2142F"/>
<rect x="370.91" y="390.72" width="2.22" height="0.75" fill="#0072BD"/>
<rect x="370.91" y="389.37" width="2.22" height="0.75" fill="#D95319"/>
<rect x="370.91" y="388.01" width="2.22" height="0.75" fill="#EDB120"/>
<rect x="370.91" y="386.66" width="2.22" height="0.75" fill="#7E2F8E"/>
<rect x="370.91" y="385.31" width="2.22" height="0.75" fill="#77AC30"/>
<rect x="373.89" y="382.18" width="3.82" height="26.35" fill="#000"/>
<rect x="374.69" y="407.08" width="2.22" height="0.74" fill="#0072BD"/>
<rect x="374.69" y="405.74" width="2.22" height="0.74" fill="#D95319"/>
<rect x="374.69" y="404.39" width="2.22" height="0.74" fill="#EDB120"/>
<rect x="374.69" y="403.05" width="2.22" height="0.74" fill="#7E2F8E"/>
<rect x="374.69" y="401.70" width="2.22" height="0.74" fill="#77AC30"/>
<rect x="374.69" y="400.36" width="2.22" height="0.74" fill="#4DBEEE"/>
<rect x="374.69" y="399.01" width="2.22" height="0.74" fill="#A2142F"/>
<rect x="374.69" y="397.67" width="2.22" height="0.74" fill="#0072BD"/>
<rect x="374.69" y="396.32" width="2.22" height="0.74" fill="#D95319"/>
<rect x="374.69" y="394.98" width="2.22" height="0.74" fill="#EDB120"/>
<rect x="374.69" y="393.64" width="2.22" height="0.74" fill="#7E2F8E"/>
<rect x="374.69" y="392.29" width="2.22" height="0.74" fill="#77AC30"/>
<rect x="374.69" y="390.95" width="2.22" height="0.74" fill="#4DBEEE"/>
<rect x="374.69" y="389.60" width="2.22" height="0.74" fill="#A2142F"/>
<rect x="374.69" y="388.26" width="2.22" height="0.74" fill="#0072BD"/>
<rect x="374.69" y="386.91" width="2.22" height="0.74" fill="#D95319"/>
<rect x="374.69" y="385.57" width="2.22" height="0.74" fill="#EDB120"/>
<rect x="374.69" y="384.22" width="2.22" height="0.74" fill="#7E2F8E"/>
<rect x="374.69" y="382.88" width="2.22" height="0.74" fill="#77AC30"/>
<rect x="377.67" y="376.50" width="3.82" height="26.62" fill="#000"/>
<rect x="378.47" y="401.66" width="2.22" height="0.76" fill="#0072BD"/>
<rect x="378.47" y="400.30" width="2.22" height="0.76" fill="#D95319"/>
<rect x="378.47" y="398.94" width="2.22" height="0.76" fill="#EDB120"/>
<rect x="378.47" y="397.58" width="2.22" height="0.76" fill="#7E2F8E"/>
<rect x="378.47" y="396.23" width="2.22" height="0.76" fill="#77AC30"/>
<rect x="378.47" y="394.87" width="2.22" height="0.76" fill="#4DBEEE"/>
<rect x="378.47" y="393.51" width="2.22" height="0.76" fill="#A2142F"/>
<rect x="378.47" y="392.15" width="2.22" height="0.76" fill="#0072BD"/>
<rect x="378.47" y="390.79" width="2.22" height="0.76" fill="#D95319"/>
<rect x="378.47" y="389.43" width="2.22" height="0.76" fill="#EDB120"/>
<rect x="378.47" y="388.07" width="2.22" height="0.76" fill="#7E2F8E"/>
<rect x="378.47" y="386.71" width="2.22" height="0.76" fill="#77AC30"/>
<rect x="378.47" y="385.35" width="2.22" height="0.76" fill="#4DBEEE"/>
<rect x="378.47" y="383.99" width="2.22" height="0.76" fill="#A2142F"/>
<rect x="378.47" y="382.63" width="2.22" height="0.76" fill="#0072BD"/>
<rect x="378.47" y="381.27" width="2.22" height="0.76" fill="#D95319"/>
<rect x="378.47" y="379.92" width="2.22" height="0.76" fill="#EDB120"/>
<rect x="378.47" y="378.56" width="2.22" height="0.76" fill="#7E2F8E"/>
<rect x="378.47" y="377.20" width="2.22" height="0.76" fill="#77AC30"/>
<rect x="381.45" y="375.15" width="3.82" height="26.49" fill="#000"/>
<rect x="382.25" y="400.18" width="2.22" height="0.75" fill="#0072BD"/>
<rect x="382.25" y="398.83" width="2.22" height="0.75" fill="#D95319"/>
<rect x="382.25" y="397.48" width="2.22" height="0.75" fill="#EDB120"/>
<rect x="382.25" y="396.13" width="2.22" height="0.75" fill="#7E2F8E"/>
<rect x="382.25" y="394.77" width="2.22" height="0.75" fill="#77AC30"/>
<rect x="382.25" y="393.42" width="2.22" height="0.75" fill="#4DBEEE"/>
<rect x="382.25" y="392.07" width="2.22" height="0.75" fill="#A2142F"/>
<rect x="382.25" y="390.72" width="2.22" height="0.75" fill="#0072BD"/>
<rect x="382.25" y="389.37" width="2.22" height="0.75" fill="#D95319"/>
<rect x="382.25" y="388.01" width="2.22" height="0.75" fill="#EDB120"/>
<rect x="382.25" y="386.66" width="2.22" height="0.75" fill="#7E2F8E"/>
<rect x="382.25" y="385.31" width="2.22" height="0.75" fill="#77AC30"/>
<rect x="382.25" y="383.96" width="2.22" height="0.75" fill="#4DBEEE"/>
<rect x="382.25" y="382.61" width="2.22" height="0.75" fill="#A2142F"/>
<rect x="382.25" y="381.25" width="2.22" height="0.75" fill="#0072BD"/>
<rect x="382.25" y="379.90" width="2.22" height="0.75" fill="#D95319"/>
<rect x="382.25" y="378.55" width="2.22" height="0.75" fill="#EDB120"/>
<rect x="382.25" y="377.20" width="2.22" height="0.75" fill="#7E2F8E"/>
<rect x="382.25" y="375.85" width="2.22" height="0.75" fill="#77AC30"/>
<rect x="385.23" y="373.93" width="3.82" height="26.22" fill="#000"/>
<rect x="386.03" y="398.71" width="2.22" height="0.74" fill="#0072BD"/>
<rect x="386.03" y="397.37" width="2.22" height="0.74" fill="#D95319"/>
<rect x="386.03" y="396.03" width="2.22" height="0.74" fill="#EDB120"/>
<rect x="386.03" y="394.70" width="2.22" height="0.74" fill="#7E2F8E"/>
<rect x="386.03" y="393.36" width="2.22" height="0.74" fill="#77AC30"/>
<rect x="386.03" y="392.02" width="2.22" height="0.74" fill="#4DBEEE"/>
<rect x="386.03" y="390.68" width="2.22" height="0.74" fill="#A2142F"/>
<rect x="386.03" y="389.34" width="2.22" height="0.74" fill="#0072BD"/>
<rect x="386.03" y="388.01" width="2.22" height="0.74" fill="#D95319"/>
<rect x="386.03" y="386.67" width="2.22" height="0.74" fill="#EDB120"/>
<rect x="386.03" y="385.33" width="2.22" height="0.74" fill="#7E2F8E"/>
<rect x="386.03" y="383.99" width="2.22" height="0.74" fill="#77AC30"/>
<rect x="386.03" y="382.66" width="2.22" height="0.74" fill="#4DBEEE"/>
<rect x="386.03" y="381.32" width="2.22" height="0.74" fill="#A2142F"/>
<rect x="386.03" y="379.98" width="2.22" height="0.74" fill="#0072BD"/>
<rect x="386.03" y="378.64" width="2.22" height="0.74" fill="#D95319"/>
<rect x="386.03" y="377.30" width="2.22" height="0.74" fill="#EDB120"/>
<rect x="386.03" y="375.97" width="2.22" height="0.74" fill="#7E2F8E"/>
<rect x="386.03" y="374.63" width="2.22" height="0.74" fill="#77AC30"/>
<rect x="389.01" y="373.93" width="3.82" height="26.22" fill="#000"/>
<rect x="389.81" y="398.71" width="2.22" height="0.74" fill="#0072BD"/>
<rect x="389.81" y="397.37" width="2.22" height="0.74" fill="#D95319"/>
<rect x="389.81" y="396.03" width="2.22" height="0.74" fill="#EDB120"/>
<rect x="389.81" y="394.70" width="2.22" height="0.74" fill="#7E2F8E"/>
<rect x="389.81" y="393.36" width="2.22" height="0.74" fill="#77AC30"/>
<rect x="389.81" y="392.02" width="2.22" height="0.74" fill="#4DBEEE"/>
<rect x="389.81" y="390.68" width="2.22" height="0.74" fill="#A2142F"/>
<rect x="389.81" y="389.34" width="2.22" height="0.74" fill="#0072BD"/>
<rect x="389.81" y="388.01" width="2.22" height="0.74" fill="#D95319"/>
<rect x="389.81" y="386.67" width="2.22" height="0.74" fill="#EDB120"/>
<rect x="389.81" y="385.33" width="2.22" height="0.74" fill="#7E2F8E"/>
<rect x="389.81" y="383.99" width="2.22" height="0.74" fill="#77AC30"/>
<rect x="389.81" y="382.66" width="2.22" height="0.74" fill="#4DBEEE"/>
<rect x="389.81" y="381.32" width="2.22" height="0.74" fill="#A2142F"/>
<rect x="389.81" y="379.98" width="2.22" height="0.74" fill="#0072BD"/>
<rect x="389.81" y="378.64" width="2.22" height="0.74" fill="#D95319"/>
<rect x="389.81" y="377.30" width="2.22" height="0.74" fill="#EDB120"/>
<rect x="389.81" y="375.97" width="2.22" height="0.74" fill="#7E2F8E"/>
<rect x="389.81" y="374.63" width="2.22" height="0.74" fill="#77AC30"/>
<polyline points="31.78,374.73 35.56,370.41 39.34,372.03 43.12,369.06 46.90,366.49 50.68,364.39 54.46,362.30 58.24,363.65 62.02,359.05 65.80,355.27 69.58,355.27 73.36,354.72 77.15,354.18 80.93,359.73 84.71,359.05 88.49,350.13 92.27,343.37 96.05,345.26 99.83,348.91 103.61,353.24 107.39,353.91 111.17,355.27 114.95,360.27 118.73,367.03 122.51,374.06 126.29,379.06 130.07,382.71 133.85,385.28 137.63,386.63 141.41,387.98 145.19,389.07 148.97,389.47 152.75,387.98 156.53,384.06 160.31,380.28 164.09,375.28 167.88,372.71 171.66,371.49 175.44,375.28 179.22,380.28 183.00,382.71 186.78,379.06 190.56,374.06 194.34,375.28 198.12,372.71 201.90,370.41 205.68,372.71 209.46,370.41 213.24,364.05 217.02,359.05 220.80,355.27 224.58,351.48 228.36,348.24 232.14,349.72 235.92,354.18 239.70,357.70 243.48,360.27 247.26,357.29 251.04,355.27 254.82,355.94 258.61,356.48 262.39,358.24 266.17,361.48 269.95,362.70 273.73,359.05 277.51,357.29 281.29,362.70 285.07,365.27 288.85,362.70 292.63,364.05 296.41,360.27 300.19,356.48 303.97,352.16 307.75,346.48 311.53,340.26 315.31,335.66 319.09,341.48 322.87,345.26 326.65,346.48 330.43,348.91 334.21,351.48 337.99,354.72 341.77,353.51 345.55,354.18 349.34,354.59 353.12,350.13 356.90,350.67 360.68,355.27 364.46,359.05 368.24,366.49 372.02,372.30 375.80,370.41 379.58,362.70 383.36,354.18 387.14,348.24 390.92,346.48" fill="none" stroke="#4DBEEE" stroke-width="0.9"/>
<rect x="28.0" y="335.0" width="366.70" height="77.00" fill="none" stroke="#555" stroke-width="0.9"/>
<path d="M28.00 412.0v-3M28.00 335.0v3" stroke="#555" stroke-width="0.81"/>
<text x="28.00" y="425.00" font-size="9.6" fill="#2b2b2b" text-anchor="middle">0</text>
<path d="M65.80 412.0v-3M65.80 335.0v3" stroke="#555" stroke-width="0.81"/>
<text x="65.80" y="425.00" font-size="9.6" fill="#2b2b2b" text-anchor="middle">10</text>
<path d="M103.61 412.0v-3M103.61 335.0v3" stroke="#555" stroke-width="0.81"/>
<text x="103.61" y="425.00" font-size="9.6" fill="#2b2b2b" text-anchor="middle">20</text>
<path d="M141.41 412.0v-3M141.41 335.0v3" stroke="#555" stroke-width="0.81"/>
<text x="141.41" y="425.00" font-size="9.6" fill="#2b2b2b" text-anchor="middle">30</text>
<path d="M179.22 412.0v-3M179.22 335.0v3" stroke="#555" stroke-width="0.81"/>
<text x="179.22" y="425.00" font-size="9.6" fill="#2b2b2b" text-anchor="middle">40</text>
<path d="M217.02 412.0v-3M217.02 335.0v3" stroke="#555" stroke-width="0.81"/>
<text x="217.02" y="425.00" font-size="9.6" fill="#2b2b2b" text-anchor="middle">50</text>
<path d="M254.82 412.0v-3M254.82 335.0v3" stroke="#555" stroke-width="0.81"/>
<text x="254.82" y="425.00" font-size="9.6" fill="#2b2b2b" text-anchor="middle">60</text>
<path d="M292.63 412.0v-3M292.63 335.0v3" stroke="#555" stroke-width="0.81"/>
<text x="292.63" y="425.00" font-size="9.6" fill="#2b2b2b" text-anchor="middle">70</text>
<path d="M330.43 412.0v-3M330.43 335.0v3" stroke="#555" stroke-width="0.81"/>
<text x="330.43" y="425.00" font-size="9.6" fill="#2b2b2b" text-anchor="middle">80</text>
<path d="M368.24 412.0v-3M368.24 335.0v3" stroke="#555" stroke-width="0.81"/>
<text x="368.24" y="425.00" font-size="9.6" fill="#2b2b2b" text-anchor="middle">90</text>
<path d="M28.0 344.72h3M394.7 344.72h-3" stroke="#555" stroke-width="0.81"/>
<text x="24.40" y="348.18" font-size="9.6" fill="#2b2b2b" text-anchor="end">40</text>
<path d="M28.0 371.76h3M394.7 371.76h-3" stroke="#555" stroke-width="0.81"/>
<text x="24.40" y="375.22" font-size="9.6" fill="#2b2b2b" text-anchor="end">20</text>
<path d="M28.0 398.80h3M394.7 398.80h-3" stroke="#555" stroke-width="0.81"/>
<text x="24.40" y="402.26" font-size="9.6" fill="#2b2b2b" text-anchor="end">0</text>
<rect x="116" y="339.9" width="99.6" height="15.6" fill="#fff" stroke="#555" stroke-width="0.9"/>
<rect x="119" y="342.9" width="33.9" height="8.7" fill="#0072BD" stroke="#000" stroke-width="0.7"/>
<text x="155" y="347.3" font-size="7.8" fill="#222" textLength="44.5" lengthAdjust="spacingAndGlyphs">Node 8 Unit</text>
<text x="155" y="353.2" font-size="7.8" fill="#222" textLength="47.2" lengthAdjust="spacingAndGlyphs">Combination</text>
<g stroke="#000" stroke-width="0.7" fill="#0072BD">
<rect x="30.27" y="480.25" width="3.02" height="38.35"/>
<rect x="34.05" y="480.25" width="3.02" height="38.35"/>
<rect x="37.83" y="480.25" width="3.02" height="38.35"/>
<rect x="41.61" y="480.25" width="3.02" height="38.35"/>
<rect x="45.39" y="480.25" width="3.02" height="38.35"/>
<rect x="49.17" y="480.25" width="3.02" height="38.35"/>
<rect x="52.95" y="441.90" width="3.02" height="38.35"/>
<rect x="56.73" y="441.90" width="3.02" height="38.35"/>
<rect x="60.51" y="441.90" width="3.02" height="38.35"/>
<rect x="64.29" y="441.90" width="3.02" height="38.35"/>
<rect x="68.07" y="441.90" width="3.02" height="38.35"/>
<rect x="71.85" y="441.90" width="3.02" height="38.35"/>
<rect x="75.63" y="441.90" width="3.02" height="38.35"/>
<rect x="79.41" y="441.90" width="3.02" height="38.35"/>
<rect x="83.19" y="441.90" width="3.02" height="38.35"/>
<rect x="86.97" y="441.90" width="3.02" height="38.35"/>
<rect x="90.75" y="441.90" width="3.02" height="38.35"/>
<rect x="94.54" y="441.90" width="3.02" height="38.35"/>
<rect x="98.32" y="441.90" width="3.02" height="38.35"/>
<rect x="102.10" y="441.90" width="3.02" height="38.35"/>
<rect x="105.88" y="441.90" width="3.02" height="38.35"/>
<rect x="109.66" y="441.90" width="3.02" height="38.35"/>
<rect x="113.44" y="441.90" width="3.02" height="38.35"/>
<rect x="117.22" y="441.90" width="3.02" height="38.35"/>
<rect x="121.00" y="441.90" width="3.02" height="38.35"/>
<rect x="124.78" y="441.90" width="3.02" height="38.35"/>
<rect x="128.56" y="441.90" width="3.02" height="38.35"/>
<rect x="132.34" y="441.90" width="3.02" height="38.35"/>
<rect x="136.12" y="441.90" width="3.02" height="38.35"/>
<rect x="139.90" y="441.90" width="3.02" height="38.35"/>
<rect x="143.68" y="441.90" width="3.02" height="38.35"/>
<rect x="147.46" y="441.90" width="3.02" height="38.35"/>
<rect x="151.24" y="441.90" width="3.02" height="38.35"/>
<rect x="155.02" y="441.90" width="3.02" height="38.35"/>
<rect x="158.80" y="441.90" width="3.02" height="38.35"/>
<rect x="162.58" y="441.90" width="3.02" height="38.35"/>
<rect x="166.36" y="441.90" width="3.02" height="38.35"/>
<rect x="170.14" y="441.90" width="3.02" height="38.35"/>
<rect x="173.92" y="441.90" width="3.02" height="38.35"/>
<rect x="177.70" y="441.90" width="3.02" height="38.35"/>
<rect x="181.48" y="441.90" width="3.02" height="38.35"/>
<rect x="185.27" y="441.90" width="3.02" height="38.35"/>
<rect x="189.05" y="441.90" width="3.02" height="38.35"/>
<rect x="192.83" y="441.90" width="3.02" height="38.35"/>
<rect x="196.61" y="441.90" width="3.02" height="38.35"/>
<rect x="200.39" y="441.90" width="3.02" height="38.35"/>
<rect x="204.17" y="441.90" width="3.02" height="38.35"/>
<rect x="207.95" y="441.90" width="3.02" height="38.35"/>
<rect x="211.73" y="441.90" width="3.02" height="38.35"/>
<rect x="215.51" y="441.90" width="3.02" height="38.35"/>
<rect x="219.29" y="480.25" width="3.02" height="38.35"/>
<rect x="223.07" y="480.25" width="3.02" height="38.35"/>
<rect x="226.85" y="441.90" width="3.02" height="38.35"/>
<rect x="230.63" y="441.90" width="3.02" height="38.35"/>
<rect x="234.41" y="480.25" width="3.02" height="38.35"/>
<rect x="238.19" y="480.25" width="3.02" height="38.35"/>
<rect x="241.97" y="480.25" width="3.02" height="38.35"/>
<rect x="245.75" y="480.25" width="3.02" height="38.35"/>
<rect x="249.53" y="441.90" width="3.02" height="38.35"/>
<rect x="253.31" y="441.90" width="3.02" height="38.35"/>
<rect x="257.09" y="441.90" width="3.02" height="38.35"/>
<rect x="260.87" y="441.90" width="3.02" height="38.35"/>
<rect x="264.65" y="441.90" width="3.02" height="38.35"/>
<rect x="268.43" y="441.90" width="3.02" height="38.35"/>
<rect x="272.21" y="441.90" width="3.02" height="38.35"/>
<rect x="276.00" y="441.90" width="3.02" height="38.35"/>
<rect x="279.78" y="441.90" width="3.02" height="38.35"/>
<rect x="283.56" y="480.25" width="3.02" height="38.35"/>
<rect x="287.34" y="480.25" width="3.02" height="38.35"/>
<rect x="291.12" y="480.25" width="3.02" height="38.35"/>
<rect x="294.90" y="480.25" width="3.02" height="38.35"/>
<rect x="298.68" y="480.25" width="3.02" height="38.35"/>
<rect x="302.46" y="441.90" width="3.02" height="38.35"/>
<rect x="306.24" y="441.90" width="3.02" height="38.35"/>
<rect x="310.02" y="441.90" width="3.02" height="38.35"/>
<rect x="313.80" y="441.90" width="3.02" height="38.35"/>
<rect x="317.58" y="441.90" width="3.02" height="38.35"/>
<rect x="321.36" y="441.90" width="3.02" height="38.35"/>
<rect x="325.14" y="441.90" width="3.02" height="38.35"/>
<rect x="328.92" y="441.90" width="3.02" height="38.35"/>
<rect x="332.70" y="441.90" width="3.02" height="38.35"/>
<rect x="336.48" y="441.90" width="3.02" height="38.35"/>
<rect x="340.26" y="441.90" width="3.02" height="38.35"/>
<rect x="344.04" y="441.90" width="3.02" height="38.35"/>
<rect x="347.82" y="441.90" width="3.02" height="38.35"/>
<rect x="351.60" y="441.90" width="3.02" height="38.35"/>
<rect x="355.38" y="441.90" width="3.02" height="38.35"/>
<rect x="359.16" y="441.90" width="3.02" height="38.35"/>
<rect x="362.94" y="441.90" width="3.02" height="38.35"/>
<rect x="366.72" y="480.25" width="3.02" height="38.35"/>
<rect x="370.51" y="480.25" width="3.02" height="38.35"/>
<rect x="374.29" y="480.25" width="3.02" height="38.35"/>
<rect x="378.07" y="441.90" width="3.02" height="38.35"/>
<rect x="381.85" y="441.90" width="3.02" height="38.35"/>
<rect x="385.63" y="480.25" width="3.02" height="38.35"/>
<rect x="389.41" y="480.25" width="3.02" height="38.35"/>
</g>
<path d="M28.0 480.25H394.7" stroke="#333" stroke-width="0.8"/>
<rect x="28.0" y="441.9" width="366.70" height="76.70" fill="none" stroke="#555" stroke-width="0.9"/>
<path d="M28.00 518.6v-3M28.00 441.9v3" stroke="#555" stroke-width="0.81"/>
<text x="28.00" y="531.50" font-size="9.6" fill="#2b2b2b" text-anchor="middle">0</text>
<path d="M65.80 518.6v-3M65.80 441.9v3" stroke="#555" stroke-width="0.81"/>
<text x="65.80" y="531.50" font-size="9.6" fill="#2b2b2b" text-anchor="middle">10</text>
<path d="M103.61 518.6v-3M103.61 441.9v3" stroke="#555" stroke-width="0.81"/>
<text x="103.61" y="531.50" font-size="9.6" fill="#2b2b2b" text-anchor="middle">20</text>
<path d="M141.41 518.6v-3M141.41 441.9v3" stroke="#555" stroke-width="0.81"/>
<text x="141.41" y="531.50" font-size="9.6" fill="#2b2b2b" text-anchor="middle">30</text>
<path d="M179.22 518.6v-3M179.22 441.9v3" stroke="#555" stroke-width="0.81"/>
<text x="179.22" y="531.50" font-size="9.6" fill="#2b2b2b" text-anchor="middle">40</text>
<path d="M217.02 518.6v-3M217.02 441.9v3" stroke="#555" stroke-width="0.81"/>
<text x="217.02" y="531.50" font-size="9.6" fill="#2b2b2b" text-anchor="middle">50</text>
<path d="M254.82 518.6v-3M254.82 441.9v3" stroke="#555" stroke-width="0.81"/>
<text x="254.82" y="531.50" font-size="9.6" fill="#2b2b2b" text-anchor="middle">60</text>
<path d="M292.63 518.6v-3M292.63 441.9v3" stroke="#555" stroke-width="0.81"/>
<text x="292.63" y="531.50" font-size="9.6" fill="#2b2b2b" text-anchor="middle">70</text>
<path d="M330.43 518.6v-3M330.43 441.9v3" stroke="#555" stroke-width="0.81"/>
<text x="330.43" y="531.50" font-size="9.6" fill="#2b2b2b" text-anchor="middle">80</text>
<path d="M368.24 518.6v-3M368.24 441.9v3" stroke="#555" stroke-width="0.81"/>
<text x="368.24" y="531.50" font-size="9.6" fill="#2b2b2b" text-anchor="middle">90</text>
<path d="M28.0 441.90h3M394.7 441.90h-3" stroke="#555" stroke-width="0.81"/>
<text x="24.80" y="445.36" font-size="9.6" fill="#2b2b2b" text-anchor="end">1</text>
<path d="M28.0 480.25h3M394.7 480.25h-3" stroke="#555" stroke-width="0.81"/>
<text x="24.80" y="483.71" font-size="9.6" fill="#2b2b2b" text-anchor="end">0</text>
<path d="M28.0 518.60h3M394.7 518.60h-3" stroke="#555" stroke-width="0.81"/>
<text x="24.80" y="522.06" font-size="9.6" fill="#2b2b2b" text-anchor="end">-1</text>
<rect x="74" y="492" width="137.2" height="16.8" fill="#fff" stroke="#555" stroke-width="0.9"/>
<rect x="76.8" y="495.2" width="35.2" height="9.6" fill="#0072BD" stroke="#000" stroke-width="0.7"/>
<text x="115.2" y="499.7" font-size="8" fill="#222" textLength="93.6" lengthAdjust="spacingAndGlyphs">Starting status of energy</text>
<text x="115.2" y="505.7" font-size="8" fill="#222" textLength="66.8" lengthAdjust="spacingAndGlyphs">storage in node 8</text>
<text x="211.7" y="544.4" font-size="10.5" fill="#2b2b2b" text-anchor="middle">x(time point)</text>
<text transform="translate(11.2,482.5) rotate(-90)" font-size="10" fill="#2b2b2b" text-anchor="middle">y(generator status)</text>
</svg>
</body></html>
